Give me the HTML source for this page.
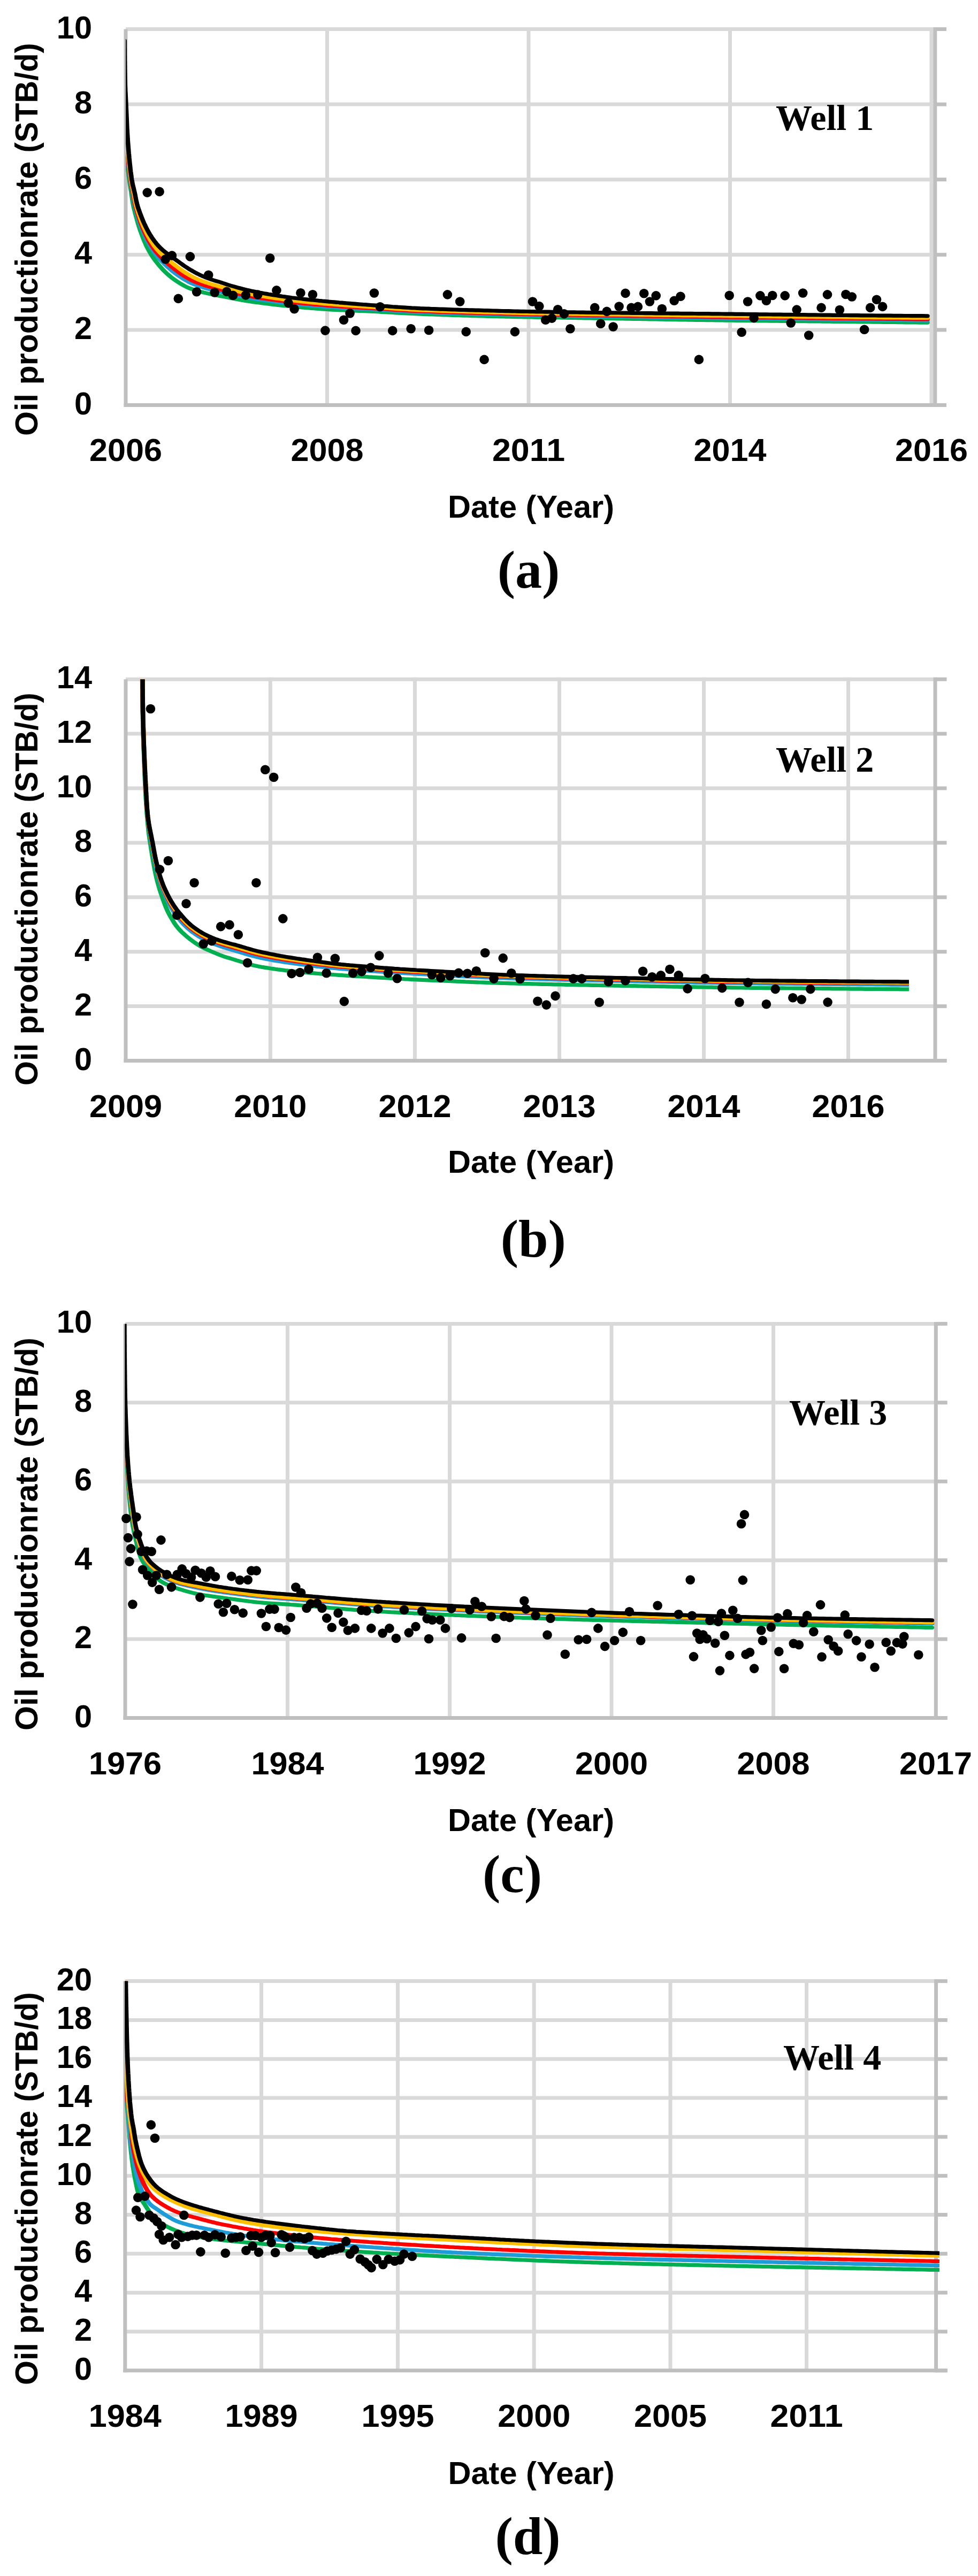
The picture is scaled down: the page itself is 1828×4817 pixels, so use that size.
<!DOCTYPE html>
<html><head><meta charset="utf-8"><title>Oil production rate - Wells 1-4</title>
<style>html,body{margin:0;padding:0;background:#fff}svg{display:block}</style></head>
<body><svg width="1828" height="4817" viewBox="0 0 1828 4817">
<rect width="1828" height="4817" fill="#fff"/>
<g><line x1="235" y1="54.5" x2="1741" y2="54.5" stroke="#d9d9d9" stroke-width="7"/>
<line x1="235" y1="195.1" x2="1741" y2="195.1" stroke="#d9d9d9" stroke-width="7"/>
<line x1="235" y1="335.7" x2="1741" y2="335.7" stroke="#d9d9d9" stroke-width="7"/>
<line x1="235" y1="476.3" x2="1741" y2="476.3" stroke="#d9d9d9" stroke-width="7"/>
<line x1="235" y1="616.9" x2="1741" y2="616.9" stroke="#d9d9d9" stroke-width="7"/>
<line x1="611.5" y1="51.0" x2="611.5" y2="757.5" stroke="#d9d9d9" stroke-width="7"/>
<line x1="988" y1="51.0" x2="988" y2="757.5" stroke="#d9d9d9" stroke-width="7"/>
<line x1="1364.5" y1="51.0" x2="1364.5" y2="757.5" stroke="#d9d9d9" stroke-width="7"/>
<line x1="1741" y1="51.0" x2="1741" y2="757.5" stroke="#d9d9d9" stroke-width="7"/>
<line x1="235" y1="54.5" x2="235" y2="761.0" stroke="#bfbfbf" stroke-width="7"/>
<line x1="231.5" y1="757.5" x2="1769" y2="757.5" stroke="#bfbfbf" stroke-width="7"/>
<line x1="1747.8" y1="51.0" x2="1747.8" y2="761.0" stroke="#bfbfbf" stroke-width="7"/>
<line x1="1747.8" y1="54.5" x2="1769" y2="54.5" stroke="#bfbfbf" stroke-width="7"/>
<line x1="1747.8" y1="195.1" x2="1769" y2="195.1" stroke="#bfbfbf" stroke-width="7"/>
<line x1="1747.8" y1="335.7" x2="1769" y2="335.7" stroke="#bfbfbf" stroke-width="7"/>
<line x1="1747.8" y1="476.3" x2="1769" y2="476.3" stroke="#bfbfbf" stroke-width="7"/>
<line x1="1747.8" y1="616.9" x2="1769" y2="616.9" stroke="#bfbfbf" stroke-width="7"/>
<line x1="1747.8" y1="757.5" x2="1769" y2="757.5" stroke="#bfbfbf" stroke-width="7"/>
<clipPath id="cp0"><rect x="235" y="54.5" width="1534" height="703.0"/></clipPath>
<g clip-path="url(#cp0)"><g transform="scale(1.18 1)" fill="none" stroke-width="7.2" stroke-linecap="round" stroke-linejoin="round">
<path d="M198.8 264.0 L199.0 267.0 L199.1 269.9 L199.3 272.9 L199.5 275.9 L199.7 278.8 L199.9 281.8 L200.1 284.8 L200.4 287.8 L200.6 290.8 L200.8 293.8 L201.0 296.9 L201.3 299.9 L201.5 303.0 L201.8 306.0 L202.0 309.1 L202.3 312.2 L202.6 315.2 L202.9 318.3 L203.2 321.3 L203.6 324.4 L203.9 327.5 L204.2 330.5 L204.6 333.6 L205.0 336.7 L205.3 339.8 L205.7 342.9 L206.1 346.0 L206.5 349.1 L206.9 352.2 L207.4 355.3 L207.8 358.4 L208.2 361.5 L208.6 364.7 L209.0 367.9 L209.4 371.2 L209.8 374.4 L210.2 377.6 L210.7 380.8 L211.2 383.9 L211.8 387.0 L212.4 390.0 L213.0 393.0 L213.7 396.0 L214.3 399.1 L215.0 402.1 L215.7 405.1 L216.4 408.2 L217.1 411.2 L217.8 414.3 L218.5 417.3 L219.3 420.3 L220.1 423.3 L220.9 426.2 L221.7 429.2 L222.6 432.1 L223.5 435.0 L224.4 438.0 L225.3 440.9 L226.3 443.8 L227.2 446.6 L228.2 449.5 L229.2 452.4 L230.3 455.2 L231.3 458.1 L232.4 460.8 L233.6 463.6 L234.8 466.3 L236.0 469.0 L237.3 471.6 L238.6 474.2 L239.9 476.8 L241.3 479.4 L242.8 481.9 L244.2 484.4 L245.7 486.8 L247.3 489.2 L248.9 491.6 L250.5 494.0 L252.1 496.3 L253.8 498.6 L255.5 500.9 L257.2 503.2 L259.0 505.4 L260.9 507.6 L262.7 509.7 L264.6 511.8 L266.6 513.9 L268.6 515.9 L270.6 517.9 L272.7 519.8 L274.9 521.7 L277.1 523.6 L279.3 525.4 L281.6 527.1 L283.9 528.9 L286.2 530.6 L288.6 532.3 L291.1 533.9 L293.6 535.5 L296.1 537.0 L298.8 538.4 L301.6 539.6 L304.5 540.8 L307.4 542.0 L310.4 543.0 L313.4 544.1 L316.5 545.1 L319.6 546.0 L322.7 547.0 L325.9 547.9 L329.1 548.8 L332.3 549.6 L335.6 550.4 L338.9 551.2 L342.2 552.0 L345.6 552.8 L348.9 553.5 L352.3 554.3 L355.7 555.0 L359.1 555.8 L362.4 556.6 L365.8 557.4 L369.2 558.2 L372.6 559.0 L376.1 559.8 L379.5 560.5 L383.0 561.3 L386.5 562.0 L390.0 562.7 L393.6 563.3 L397.2 564.0 L400.8 564.6 L404.5 565.2 L408.2 565.8 L411.9 566.3 L415.6 566.9 L419.3 567.4 L423.1 568.0 L426.8 568.5 L430.6 569.1 L434.4 569.6 L438.2 570.1 L442.0 570.6 L445.9 571.1 L449.7 571.6 L453.6 572.0 L457.5 572.5 L461.4 573.0 L465.3 573.4 L469.3 573.9 L473.2 574.3 L477.2 574.8 L481.2 575.2 L485.2 575.6 L489.2 576.0 L493.2 576.4 L497.3 576.7 L501.4 577.1 L505.5 577.5 L509.6 577.8 L513.7 578.2 L517.8 578.5 L522.0 578.8 L526.2 579.1 L530.4 579.3 L534.7 579.6 L539.0 579.8 L543.2 580.0 L547.5 580.3 L551.8 580.5 L556.2 580.7 L560.5 580.9 L564.8 581.1 L569.2 581.3 L573.5 581.5 L577.9 581.7 L582.2 582.0 L586.6 582.2 L591.0 582.5 L595.3 582.7 L599.7 583.0 L604.0 583.3 L608.4 583.6 L612.7 583.9 L617.1 584.2 L621.5 584.5 L625.9 584.8 L630.3 585.1 L634.7 585.3 L639.1 585.6 L643.5 585.9 L647.9 586.2 L652.4 586.5 L656.9 586.7 L661.4 586.9 L665.9 587.2 L670.4 587.4 L675.0 587.6 L679.5 587.8 L684.1 588.0 L688.7 588.2 L693.3 588.4 L697.9 588.6 L702.5 588.8 L707.1 589.0 L711.7 589.2 L716.4 589.4 L721.0 589.6 L725.7 589.7 L730.4 589.9 L735.1 590.1 L739.8 590.2 L744.5 590.4 L749.2 590.6 L753.9 590.7 L758.7 590.9 L763.4 591.0 L768.2 591.2 L773.0 591.3 L777.8 591.5 L782.5 591.6 L787.4 591.7 L792.2 591.9 L797.0 592.0 L801.8 592.1 L806.7 592.2 L811.5 592.3 L816.4 592.5 L821.3 592.6 L826.2 592.7 L831.0 592.8 L835.9 592.9 L840.9 593.0 L845.8 593.2 L850.7 593.3 L855.6 593.4 L860.6 593.5 L865.5 593.6 L870.5 593.7 L875.5 593.8 L880.4 593.9 L885.4 594.0 L890.4 594.1 L895.4 594.2 L900.4 594.3 L905.4 594.4 L910.5 594.5 L915.5 594.6 L920.5 594.7 L925.6 594.8 L930.6 594.9 L935.7 595.0 L940.8 595.1 L945.9 595.2 L951.0 595.3 L956.1 595.4 L961.2 595.5 L966.3 595.6 L971.4 595.7 L976.5 595.8 L981.7 595.9 L986.8 596.0 L991.9 596.1 L997.1 596.2 L1002.3 596.3 L1007.4 596.4 L1012.6 596.5 L1017.8 596.6 L1023.0 596.7 L1028.2 596.8 L1033.4 596.9 L1038.6 597.0 L1043.8 597.1 L1049.0 597.2 L1054.3 597.3 L1059.5 597.4 L1064.8 597.6 L1070.0 597.7 L1075.3 597.8 L1080.5 597.9 L1085.8 598.0 L1091.1 598.1 L1096.4 598.2 L1101.7 598.3 L1107.0 598.4 L1112.3 598.5 L1117.6 598.6 L1123.0 598.7 L1128.3 598.7 L1133.7 598.8 L1139.0 598.9 L1144.4 599.0 L1149.8 599.1 L1155.2 599.2 L1160.6 599.2 L1166.0 599.3 L1171.4 599.4 L1176.8 599.5 L1182.2 599.6 L1187.7 599.6 L1193.1 599.7 L1198.6 599.8 L1204.0 599.8 L1209.5 599.9 L1215.0 600.0 L1220.4 600.1 L1225.9 600.1 L1231.4 600.2 L1236.9 600.3 L1242.5 600.3 L1248.0 600.4 L1253.5 600.5 L1259.0 600.5 L1264.6 600.6 L1270.1 600.7 L1275.7 600.7 L1281.2 600.8 L1286.8 600.9 L1292.4 600.9 L1297.9 601.0 L1303.5 601.1 L1309.1 601.1 L1314.7 601.2 L1320.3 601.3 L1325.9 601.4 L1331.6 601.4 L1337.2 601.5 L1342.8 601.6 L1348.4 601.7 L1354.1 601.7 L1359.7 601.8 L1365.4 601.9 L1371.1 601.9 L1376.7 602.0 L1382.4 602.1 L1388.1 602.2 L1393.8 602.2 L1399.5 602.3 L1405.2 602.4 L1410.9 602.5 L1416.6 602.5 L1422.3 602.6 L1428.1 602.7 L1433.8 602.8 L1439.6 602.8 L1445.3 602.9 L1451.1 603.0 L1456.8 603.1 L1462.6 603.1 L1468.4 603.2 L1469.1 603.2" stroke="#00b050"/>
<path d="M199.8 259.7 L199.9 262.7 L200.1 265.6 L200.3 268.6 L200.5 271.6 L200.7 274.5 L200.8 277.5 L201.1 280.5 L201.3 283.5 L201.5 286.5 L201.7 289.5 L201.9 292.5 L202.2 295.5 L202.4 298.6 L202.7 301.6 L202.9 304.7 L203.2 307.7 L203.5 310.8 L203.7 313.9 L204.0 316.9 L204.4 320.0 L204.7 323.1 L205.0 326.2 L205.4 329.2 L205.7 332.3 L206.1 335.4 L206.4 338.5 L206.8 341.6 L207.3 344.6 L207.7 347.7 L208.2 350.7 L208.7 353.7 L209.1 356.8 L209.6 359.9 L210.1 363.0 L210.5 366.1 L211.0 369.3 L211.4 372.5 L211.8 375.6 L212.3 378.8 L212.9 381.9 L213.5 384.9 L214.1 387.9 L214.8 390.9 L215.5 393.9 L216.2 396.9 L216.9 399.8 L217.6 402.8 L218.4 405.8 L219.1 408.7 L219.9 411.7 L220.7 414.6 L221.6 417.6 L222.4 420.5 L223.3 423.4 L224.2 426.2 L225.2 429.1 L226.1 431.9 L227.1 434.7 L228.1 437.6 L229.2 440.4 L230.2 443.1 L231.3 445.9 L232.4 448.6 L233.6 451.4 L234.7 454.0 L236.0 456.7 L237.2 459.3 L238.5 461.9 L239.9 464.5 L241.2 467.0 L242.7 469.5 L244.1 471.9 L245.6 474.3 L247.2 476.6 L248.8 479.0 L250.5 481.2 L252.2 483.5 L253.9 485.7 L255.7 487.9 L257.4 490.0 L259.3 492.2 L261.1 494.3 L263.0 496.4 L264.9 498.4 L266.8 500.5 L268.8 502.5 L270.8 504.6 L272.8 506.6 L274.9 508.5 L276.9 510.5 L279.1 512.4 L281.2 514.2 L283.5 516.0 L285.7 517.8 L288.0 519.6 L290.4 521.3 L292.7 523.0 L295.1 524.6 L297.6 526.3 L300.1 527.8 L302.7 529.3 L305.3 530.7 L308.1 532.0 L310.9 533.2 L313.8 534.4 L316.7 535.6 L319.6 536.7 L322.7 537.8 L325.7 538.8 L328.8 539.8 L331.9 540.7 L335.1 541.7 L338.3 542.6 L341.4 543.5 L344.6 544.4 L347.9 545.3 L351.1 546.2 L354.4 547.1 L357.7 548.0 L361.0 548.8 L364.3 549.7 L367.6 550.6 L370.9 551.4 L374.2 552.3 L377.6 553.1 L381.0 554.0 L384.4 554.8 L387.8 555.5 L391.3 556.3 L394.8 557.0 L398.3 557.7 L401.9 558.4 L405.5 559.1 L409.1 559.7 L412.7 560.4 L416.4 561.0 L420.1 561.6 L423.7 562.2 L427.5 562.8 L431.2 563.4 L434.9 564.0 L438.7 564.5 L442.4 565.1 L446.2 565.6 L450.1 566.1 L453.9 566.7 L457.7 567.2 L461.6 567.7 L465.5 568.1 L469.4 568.6 L473.3 569.1 L477.2 569.5 L481.2 570.0 L485.2 570.4 L489.1 570.9 L493.1 571.3 L497.2 571.7 L501.2 572.1 L505.3 572.5 L509.3 572.9 L513.4 573.3 L517.5 573.6 L521.6 574.0 L525.8 574.3 L529.9 574.7 L534.1 575.0 L538.3 575.3 L542.5 575.6 L546.8 575.9 L551.0 576.1 L555.3 576.4 L559.5 576.7 L563.8 577.0 L568.1 577.2 L572.4 577.5 L576.7 577.8 L581.0 578.0 L585.4 578.3 L589.7 578.6 L594.0 578.9 L598.3 579.2 L602.6 579.5 L607.0 579.8 L611.3 580.1 L615.6 580.4 L620.0 580.7 L624.4 581.1 L628.7 581.4 L633.1 581.7 L637.5 582.0 L641.9 582.3 L646.3 582.6 L650.8 582.8 L655.2 583.1 L659.7 583.4 L664.2 583.6 L668.7 583.8 L673.3 584.0 L677.8 584.3 L682.4 584.5 L686.9 584.7 L691.5 584.9 L696.1 585.1 L700.7 585.3 L705.3 585.5 L710.0 585.6 L714.6 585.8 L719.3 586.0 L723.9 586.2 L728.6 586.3 L733.3 586.5 L738.0 586.7 L742.7 586.8 L747.4 587.0 L752.1 587.2 L756.8 587.3 L761.6 587.5 L766.3 587.6 L771.1 587.8 L775.8 587.9 L780.6 588.1 L785.4 588.2 L790.2 588.3 L795.0 588.5 L799.9 588.6 L804.7 588.7 L809.5 588.9 L814.4 589.0 L819.3 589.1 L824.1 589.2 L829.0 589.3 L833.9 589.5 L838.8 589.6 L843.7 589.7 L848.6 589.8 L853.6 589.9 L858.5 590.0 L863.4 590.1 L868.4 590.2 L873.4 590.3 L878.3 590.4 L883.3 590.5 L888.3 590.6 L893.3 590.7 L898.3 590.8 L903.3 590.9 L908.3 591.0 L913.4 591.1 L918.4 591.2 L923.5 591.3 L928.5 591.4 L933.6 591.5 L938.7 591.6 L943.7 591.7 L948.8 591.7 L953.9 591.8 L959.0 591.9 L964.1 592.0 L969.3 592.1 L974.4 592.2 L979.5 592.3 L984.7 592.4 L989.8 592.5 L995.0 592.5 L1000.1 592.6 L1005.3 592.7 L1010.5 592.8 L1015.7 592.9 L1020.9 593.0 L1026.1 593.1 L1031.3 593.2 L1036.5 593.3 L1041.7 593.4 L1046.9 593.4 L1052.2 593.5 L1057.4 593.6 L1062.7 593.7 L1067.9 593.8 L1073.2 593.9 L1078.5 594.0 L1083.7 594.1 L1089.0 594.2 L1094.3 594.2 L1099.6 594.3 L1104.9 594.4 L1110.3 594.5 L1115.6 594.6 L1120.9 594.7 L1126.3 594.8 L1131.6 594.8 L1137.0 594.9 L1142.3 595.0 L1147.7 595.1 L1153.1 595.2 L1158.5 595.2 L1163.9 595.3 L1169.3 595.4 L1174.7 595.5 L1180.1 595.5 L1185.6 595.6 L1191.0 595.7 L1196.4 595.8 L1201.9 595.8 L1207.4 595.9 L1212.8 596.0 L1218.3 596.1 L1223.8 596.1 L1229.3 596.2 L1234.8 596.3 L1240.3 596.3 L1245.8 596.4 L1251.3 596.5 L1256.8 596.5 L1262.4 596.6 L1267.9 596.7 L1273.4 596.7 L1279.0 596.8 L1284.5 596.9 L1290.1 596.9 L1295.7 597.0 L1301.3 597.1 L1306.9 597.2 L1312.4 597.2 L1318.0 597.3 L1323.7 597.4 L1329.3 597.4 L1334.9 597.5 L1340.5 597.6 L1346.1 597.6 L1351.8 597.7 L1357.4 597.8 L1363.1 597.8 L1368.8 597.9 L1374.4 598.0 L1380.1 598.1 L1385.8 598.1 L1391.5 598.2 L1397.2 598.3 L1402.9 598.3 L1408.6 598.4 L1414.3 598.5 L1420.0 598.5 L1425.7 598.6 L1431.5 598.7 L1437.2 598.7 L1443.0 598.8 L1448.7 598.9 L1454.5 598.9 L1460.3 599.0 L1466.0 599.1 L1469.1 599.1" stroke="#1f9bd8"/>
<path d="M200.2 256.1 L200.4 259.1 L200.5 262.0 L200.7 265.0 L200.9 267.9 L201.0 270.9 L201.2 273.8 L201.4 276.8 L201.6 279.8 L201.9 282.8 L202.1 285.8 L202.3 288.8 L202.5 291.8 L202.8 294.8 L203.0 297.9 L203.2 300.9 L203.5 304.0 L203.8 307.1 L204.0 310.1 L204.3 313.2 L204.6 316.3 L204.9 319.3 L205.3 322.4 L205.6 325.5 L205.9 328.6 L206.3 331.6 L206.6 334.7 L207.0 337.8 L207.4 340.9 L207.9 343.9 L208.3 347.0 L208.8 350.0 L209.3 353.0 L209.8 356.0 L210.4 359.0 L210.9 362.1 L211.3 365.2 L211.8 368.3 L212.2 371.5 L212.7 374.6 L213.2 377.8 L213.7 380.8 L214.3 383.9 L215.0 386.9 L215.7 389.9 L216.4 392.8 L217.1 395.7 L217.9 398.7 L218.7 401.6 L219.4 404.5 L220.2 407.5 L221.0 410.4 L221.9 413.3 L222.7 416.2 L223.6 419.0 L224.6 421.9 L225.5 424.7 L226.5 427.5 L227.5 430.3 L228.5 433.1 L229.6 435.9 L230.6 438.6 L231.7 441.3 L232.9 444.0 L234.0 446.7 L235.2 449.4 L236.5 452.0 L237.8 454.6 L239.1 457.1 L240.4 459.6 L241.8 462.1 L243.3 464.6 L244.7 467.0 L246.3 469.4 L247.9 471.7 L249.5 473.9 L251.2 476.2 L252.9 478.3 L254.7 480.5 L256.5 482.6 L258.3 484.7 L260.2 486.8 L262.1 488.8 L264.0 490.9 L266.0 492.9 L267.9 494.9 L269.9 496.9 L271.9 498.8 L274.0 500.8 L276.0 502.8 L278.1 504.7 L280.2 506.6 L282.3 508.5 L284.5 510.3 L286.7 512.2 L289.0 513.9 L291.3 515.7 L293.7 517.4 L296.1 519.0 L298.5 520.7 L300.9 522.3 L303.4 523.8 L306.0 525.3 L308.7 526.7 L311.4 528.1 L314.2 529.3 L317.0 530.6 L319.9 531.7 L322.9 532.9 L325.9 534.0 L328.9 535.0 L332.0 536.0 L335.1 537.0 L338.2 538.0 L341.3 539.0 L344.5 540.0 L347.6 540.9 L350.8 541.9 L354.0 542.9 L357.2 543.8 L360.4 544.7 L363.7 545.6 L366.9 546.5 L370.2 547.4 L373.5 548.3 L376.8 549.2 L380.2 550.1 L383.5 550.9 L386.9 551.8 L390.4 552.6 L393.8 553.4 L397.3 554.1 L400.8 554.9 L404.3 555.6 L407.9 556.3 L411.5 556.9 L415.1 557.6 L418.7 558.3 L422.4 558.9 L426.0 559.5 L429.7 560.1 L433.4 560.7 L437.1 561.3 L440.9 561.9 L444.6 562.5 L448.4 563.0 L452.2 563.6 L456.0 564.1 L459.9 564.6 L463.7 565.1 L467.6 565.6 L471.5 566.1 L475.4 566.6 L479.3 567.1 L483.3 567.6 L487.2 568.0 L491.2 568.5 L495.2 568.9 L499.2 569.3 L503.2 569.7 L507.3 570.1 L511.3 570.5 L515.4 570.9 L519.5 571.3 L523.6 571.7 L527.7 572.1 L531.9 572.4 L536.0 572.7 L540.2 573.1 L544.4 573.4 L548.6 573.7 L552.8 574.0 L557.0 574.3 L561.3 574.6 L565.5 574.9 L569.8 575.2 L574.1 575.5 L578.4 575.8 L582.7 576.1 L587.0 576.4 L591.3 576.7 L595.6 577.0 L599.9 577.4 L604.2 577.7 L608.5 578.0 L612.8 578.3 L617.1 578.7 L621.5 579.0 L625.8 579.3 L630.2 579.6 L634.6 579.9 L639.0 580.3 L643.4 580.6 L647.8 580.8 L652.2 581.1 L656.7 581.4 L661.2 581.6 L665.7 581.9 L670.2 582.1 L674.7 582.3 L679.3 582.5 L683.8 582.7 L688.4 582.9 L693.0 583.1 L697.6 583.3 L702.2 583.5 L706.8 583.7 L711.4 583.9 L716.1 584.1 L720.7 584.3 L725.4 584.4 L730.1 584.6 L734.7 584.8 L739.4 584.9 L744.1 585.1 L748.9 585.2 L753.6 585.4 L758.3 585.6 L763.0 585.7 L767.8 585.9 L772.6 586.0 L777.3 586.2 L782.1 586.3 L786.9 586.4 L791.7 586.6 L796.5 586.7 L801.3 586.9 L806.2 587.0 L811.0 587.1 L815.9 587.2 L820.7 587.4 L825.6 587.5 L830.5 587.6 L835.4 587.7 L840.3 587.8 L845.2 587.9 L850.1 588.1 L855.0 588.2 L860.0 588.3 L864.9 588.4 L869.9 588.5 L874.8 588.6 L879.8 588.7 L884.8 588.8 L889.8 588.9 L894.8 589.0 L899.8 589.1 L904.8 589.1 L909.9 589.2 L914.9 589.3 L919.9 589.4 L925.0 589.5 L930.0 589.6 L935.1 589.7 L940.2 589.8 L945.3 589.9 L950.4 589.9 L955.5 590.0 L960.6 590.1 L965.7 590.2 L970.8 590.3 L975.9 590.4 L981.1 590.5 L986.2 590.5 L991.4 590.6 L996.5 590.7 L1001.7 590.8 L1006.9 590.9 L1012.1 591.0 L1017.3 591.0 L1022.4 591.1 L1027.7 591.2 L1032.9 591.3 L1038.1 591.4 L1043.3 591.5 L1048.5 591.5 L1053.8 591.6 L1059.0 591.7 L1064.3 591.8 L1069.6 591.9 L1074.8 592.0 L1080.1 592.0 L1085.4 592.1 L1090.7 592.2 L1096.0 592.3 L1101.3 592.4 L1106.6 592.4 L1111.9 592.5 L1117.3 592.6 L1122.6 592.7 L1128.0 592.8 L1133.3 592.8 L1138.7 592.9 L1144.1 593.0 L1149.4 593.1 L1154.8 593.1 L1160.2 593.2 L1165.6 593.3 L1171.0 593.4 L1176.4 593.4 L1181.9 593.5 L1187.3 593.6 L1192.7 593.7 L1198.2 593.7 L1203.6 593.8 L1209.1 593.9 L1214.5 594.0 L1220.0 594.0 L1225.5 594.1 L1231.0 594.2 L1236.5 594.2 L1242.0 594.3 L1247.5 594.4 L1253.0 594.4 L1258.5 594.5 L1264.1 594.6 L1269.6 594.7 L1275.1 594.7 L1280.7 594.8 L1286.3 594.9 L1291.8 594.9 L1297.4 595.0 L1303.0 595.1 L1308.6 595.1 L1314.2 595.2 L1319.8 595.3 L1325.4 595.3 L1331.0 595.4 L1336.6 595.5 L1342.2 595.5 L1347.9 595.6 L1353.5 595.7 L1359.2 595.7 L1364.8 595.8 L1370.5 595.9 L1376.1 595.9 L1381.8 596.0 L1387.5 596.1 L1393.2 596.1 L1398.9 596.2 L1404.6 596.3 L1410.3 596.3 L1416.0 596.4 L1421.8 596.5 L1427.5 596.5 L1433.2 596.6 L1439.0 596.7 L1444.7 596.7 L1450.5 596.8 L1456.3 596.9 L1462.0 596.9 L1467.8 597.0 L1469.1 597.0" stroke="#ff0000"/>
<path d="M200.8 252.4 L200.9 255.3 L201.1 258.3 L201.2 261.2 L201.4 264.1 L201.6 267.1 L201.7 270.1 L201.9 273.0 L202.1 276.0 L202.3 279.0 L202.5 282.0 L202.8 285.0 L203.0 288.0 L203.2 291.0 L203.5 294.0 L203.7 297.1 L203.9 300.1 L204.2 303.2 L204.5 306.2 L204.7 309.3 L205.0 312.4 L205.3 315.4 L205.6 318.5 L205.9 321.6 L206.3 324.7 L206.6 327.8 L207.0 330.8 L207.3 333.9 L207.7 337.0 L208.1 340.1 L208.6 343.1 L209.0 346.1 L209.6 349.1 L210.1 352.0 L210.7 355.0 L211.2 358.0 L211.8 361.0 L212.3 364.1 L212.7 367.2 L213.2 370.3 L213.7 373.4 L214.2 376.6 L214.8 379.6 L215.4 382.7 L216.0 385.7 L216.7 388.6 L217.5 391.5 L218.3 394.4 L219.0 397.3 L219.8 400.2 L220.7 403.1 L221.5 406.0 L222.3 408.8 L223.2 411.7 L224.1 414.5 L225.1 417.4 L226.0 420.2 L227.0 422.9 L228.0 425.7 L229.1 428.4 L230.2 431.2 L231.3 433.9 L232.4 436.5 L233.5 439.2 L234.7 441.8 L236.0 444.4 L237.2 447.0 L238.5 449.6 L239.9 452.1 L241.3 454.5 L242.7 457.0 L244.1 459.4 L245.7 461.8 L247.2 464.1 L248.8 466.4 L250.5 468.6 L252.2 470.8 L254.0 472.9 L255.8 475.0 L257.6 477.0 L259.5 479.0 L261.5 481.0 L263.4 483.0 L265.4 484.9 L267.4 486.8 L269.5 488.7 L271.5 490.7 L273.6 492.6 L275.6 494.5 L277.7 496.4 L279.8 498.3 L281.9 500.2 L284.0 502.1 L286.2 504.0 L288.4 505.8 L290.6 507.6 L292.9 509.3 L295.2 511.1 L297.6 512.7 L300.0 514.4 L302.4 516.0 L304.9 517.6 L307.4 519.2 L310.0 520.7 L312.6 522.1 L315.3 523.4 L318.1 524.7 L320.9 526.0 L323.8 527.2 L326.7 528.4 L329.6 529.5 L332.6 530.6 L335.7 531.7 L338.8 532.7 L341.8 533.7 L344.9 534.7 L348.0 535.8 L351.1 536.8 L354.2 537.9 L357.3 538.9 L360.5 539.9 L363.7 540.9 L366.9 541.9 L370.1 542.8 L373.3 543.8 L376.6 544.7 L379.9 545.6 L383.2 546.5 L386.5 547.4 L389.9 548.3 L393.3 549.1 L396.7 549.9 L400.2 550.7 L403.7 551.5 L407.2 552.2 L410.7 552.9 L414.3 553.6 L417.9 554.3 L421.5 555.0 L425.1 555.7 L428.7 556.3 L432.4 557.0 L436.1 557.6 L439.8 558.2 L443.5 558.8 L447.2 559.4 L451.0 560.0 L454.8 560.6 L458.6 561.1 L462.4 561.7 L466.2 562.2 L470.1 562.7 L474.0 563.2 L477.9 563.7 L481.8 564.2 L485.7 564.7 L489.7 565.1 L493.6 565.6 L497.6 566.1 L501.6 566.5 L505.6 566.9 L509.6 567.4 L513.7 567.8 L517.7 568.2 L521.8 568.6 L525.9 569.0 L530.0 569.4 L534.1 569.7 L538.2 570.1 L542.4 570.5 L546.6 570.8 L550.7 571.2 L554.9 571.5 L559.1 571.9 L563.3 572.2 L567.6 572.5 L571.8 572.9 L576.0 573.2 L580.3 573.5 L584.6 573.9 L588.8 574.2 L593.1 574.5 L597.4 574.9 L601.7 575.2 L606.0 575.5 L610.3 575.9 L614.6 576.2 L618.9 576.6 L623.2 576.9 L627.6 577.3 L631.9 577.6 L636.3 577.9 L640.7 578.2 L645.1 578.5 L649.5 578.8 L654.0 579.1 L658.4 579.4 L662.9 579.6 L667.4 579.8 L671.9 580.1 L676.5 580.3 L681.0 580.5 L685.6 580.7 L690.1 580.9 L694.7 581.1 L699.3 581.3 L703.9 581.5 L708.5 581.7 L713.2 581.9 L717.8 582.0 L722.5 582.2 L727.1 582.4 L731.8 582.5 L736.5 582.7 L741.2 582.9 L745.9 583.0 L750.6 583.2 L755.3 583.3 L760.1 583.5 L764.8 583.6 L769.5 583.8 L774.3 584.0 L779.1 584.1 L783.9 584.3 L788.6 584.4 L793.4 584.5 L798.3 584.7 L803.1 584.8 L807.9 584.9 L812.7 585.1 L817.6 585.2 L822.4 585.3 L827.3 585.5 L832.2 585.6 L837.1 585.7 L842.0 585.8 L846.9 585.9 L851.8 586.0 L856.8 586.1 L861.7 586.2 L866.7 586.3 L871.6 586.4 L876.6 586.5 L881.6 586.6 L886.6 586.7 L891.5 586.8 L896.6 586.9 L901.6 587.0 L906.6 587.1 L911.6 587.2 L916.7 587.2 L921.7 587.3 L926.8 587.4 L931.8 587.5 L936.9 587.6 L942.0 587.7 L947.1 587.7 L952.2 587.8 L957.3 587.9 L962.4 588.0 L967.5 588.1 L972.6 588.1 L977.8 588.2 L982.9 588.3 L988.0 588.4 L993.2 588.5 L998.4 588.5 L1003.5 588.6 L1008.7 588.7 L1013.9 588.8 L1019.1 588.9 L1024.3 588.9 L1029.5 589.0 L1034.7 589.1 L1040.0 589.2 L1045.2 589.2 L1050.4 589.3 L1055.7 589.4 L1060.9 589.5 L1066.2 589.5 L1071.5 589.6 L1076.8 589.7 L1082.1 589.8 L1087.3 589.8 L1092.6 589.9 L1098.0 590.0 L1103.3 590.0 L1108.6 590.1 L1113.9 590.2 L1119.3 590.3 L1124.6 590.3 L1130.0 590.4 L1135.3 590.5 L1140.7 590.5 L1146.1 590.6 L1151.4 590.7 L1156.8 590.8 L1162.2 590.8 L1167.6 590.9 L1173.0 591.0 L1178.5 591.1 L1183.9 591.1 L1189.3 591.2 L1194.7 591.3 L1200.2 591.4 L1205.6 591.4 L1211.1 591.5 L1216.6 591.6 L1222.0 591.6 L1227.5 591.7 L1233.0 591.8 L1238.5 591.9 L1244.0 591.9 L1249.5 592.0 L1255.0 592.1 L1260.5 592.1 L1266.1 592.2 L1271.6 592.3 L1277.2 592.4 L1282.7 592.4 L1288.3 592.5 L1293.8 592.6 L1299.4 592.6 L1305.0 592.7 L1310.6 592.8 L1316.2 592.8 L1321.8 592.9 L1327.4 593.0 L1333.0 593.0 L1338.6 593.1 L1344.3 593.2 L1349.9 593.2 L1355.5 593.3 L1361.2 593.3 L1366.8 593.4 L1372.5 593.5 L1378.2 593.5 L1383.9 593.6 L1389.6 593.7 L1395.2 593.7 L1400.9 593.8 L1406.7 593.9 L1412.4 593.9 L1418.1 594.0 L1423.8 594.0 L1429.6 594.1 L1435.3 594.2 L1441.0 594.2 L1446.8 594.3 L1452.6 594.3 L1458.3 594.4 L1464.1 594.5 L1469.1 594.5" stroke="#ffc000"/>
<path d="M197.1 76.0 L197.1 76.2 L197.1 76.6 L197.1 77.1 L197.1 77.8 L197.1 78.4 L197.1 79.2 L197.1 80.1 L197.1 80.9 L197.1 81.9 L197.1 82.9 L197.1 84.0 L197.1 85.1 L197.1 86.2 L197.1 87.4 L197.1 88.7 L197.2 90.0 L197.2 91.3 L197.2 92.7 L197.2 94.1 L197.2 95.5 L197.2 97.0 L197.2 98.5 L197.2 100.0 L197.2 101.6 L197.2 103.2 L197.3 104.9 L197.3 106.5 L197.3 108.2 L197.3 110.0 L197.3 111.7 L197.3 113.5 L197.4 115.3 L197.4 117.2 L197.4 119.0 L197.4 120.9 L197.5 122.9 L197.5 124.8 L197.5 126.8 L197.5 128.8 L197.6 130.8 L197.6 132.9 L197.6 135.0 L197.7 137.1 L197.7 139.2 L197.7 141.4 L197.8 143.5 L197.8 145.7 L197.8 147.9 L197.9 150.2 L197.9 152.4 L198.0 154.7 L198.0 157.0 L198.1 159.3 L198.2 161.6 L198.3 163.9 L198.4 166.3 L198.4 168.6 L198.5 171.0 L198.6 173.4 L198.8 175.8 L198.9 178.2 L199.0 180.7 L199.1 183.1 L199.2 185.6 L199.3 188.1 L199.4 190.7 L199.5 193.2 L199.6 195.8 L199.7 198.4 L199.8 201.0 L199.9 203.7 L200.0 206.4 L200.1 209.0 L200.2 211.7 L200.3 214.5 L200.4 217.2 L200.5 220.0 L200.6 222.7 L200.7 225.5 L200.8 228.3 L200.9 231.1 L201.0 234.0 L201.1 236.8 L201.2 239.7 L201.3 242.6 L201.5 245.4 L201.6 248.3 L201.8 251.2 L201.9 254.1 L202.1 257.1 L202.2 260.0 L202.4 262.9 L202.6 265.9 L202.8 268.8 L203.0 271.8 L203.2 274.8 L203.4 277.8 L203.6 280.7 L203.8 283.7 L204.0 286.8 L204.3 289.8 L204.5 292.8 L204.7 295.8 L205.0 298.9 L205.2 301.9 L205.5 305.0 L205.8 308.1 L206.1 311.2 L206.3 314.2 L206.6 317.3 L206.9 320.4 L207.3 323.5 L207.6 326.6 L208.0 329.6 L208.3 332.7 L208.7 335.8 L209.2 338.8 L209.6 341.9 L210.1 344.8 L210.7 347.7 L211.3 350.6 L211.9 353.5 L212.5 356.4 L213.1 359.4 L213.7 362.4 L214.2 365.5 L214.7 368.6 L215.2 371.7 L215.7 374.7 L216.3 377.8 L216.9 380.8 L217.6 383.8 L218.3 386.7 L219.1 389.6 L219.9 392.4 L220.8 395.3 L221.6 398.1 L222.5 400.9 L223.4 403.7 L224.3 406.5 L225.3 409.3 L226.2 412.1 L227.2 414.8 L228.2 417.5 L229.3 420.2 L230.4 422.9 L231.5 425.6 L232.6 428.2 L233.8 430.9 L235.0 433.4 L236.2 436.0 L237.5 438.5 L238.9 441.0 L240.2 443.5 L241.6 445.9 L243.1 448.3 L244.5 450.7 L246.1 453.0 L247.6 455.3 L249.2 457.5 L250.9 459.7 L252.6 461.9 L254.4 464.0 L256.2 466.0 L258.1 468.0 L260.1 469.9 L262.1 471.8 L264.1 473.6 L266.2 475.4 L268.3 477.2 L270.4 479.0 L272.5 480.8 L274.7 482.6 L276.8 484.4 L279.0 486.2 L281.1 488.0 L283.3 489.8 L285.4 491.7 L287.6 493.5 L289.7 495.4 L291.9 497.2 L294.2 499.0 L296.4 500.7 L298.7 502.5 L301.1 504.2 L303.5 505.8 L305.9 507.5 L308.3 509.1 L310.8 510.6 L313.3 512.2 L315.9 513.7 L318.6 515.1 L321.2 516.5 L323.9 517.8 L326.7 519.2 L329.5 520.5 L332.4 521.7 L335.3 522.9 L338.2 524.0 L341.2 525.1 L344.3 526.2 L347.3 527.2 L350.4 528.3 L353.4 529.5 L356.3 530.6 L359.3 531.8 L362.4 533.0 L365.4 534.1 L368.5 535.1 L371.7 536.2 L374.8 537.2 L378.0 538.3 L381.2 539.3 L384.4 540.3 L387.7 541.2 L391.0 542.1 L394.4 543.0 L397.7 543.9 L401.1 544.7 L404.5 545.6 L408.0 546.4 L411.5 547.2 L415.0 547.9 L418.5 548.7 L422.0 549.4 L425.6 550.2 L429.2 550.9 L432.8 551.6 L436.4 552.3 L440.0 552.9 L443.7 553.6 L447.4 554.3 L451.1 554.9 L454.8 555.5 L458.6 556.1 L462.3 556.7 L466.2 557.2 L470.0 557.8 L473.8 558.3 L477.7 558.8 L481.6 559.4 L485.5 559.9 L489.4 560.4 L493.3 560.8 L497.2 561.3 L501.2 561.8 L505.2 562.3 L509.2 562.7 L513.2 563.2 L517.2 563.6 L521.2 564.1 L525.3 564.5 L529.3 564.9 L533.4 565.3 L537.5 565.8 L541.6 566.2 L545.7 566.6 L549.8 567.0 L553.9 567.4 L558.1 567.8 L562.2 568.2 L566.4 568.6 L570.6 569.0 L574.8 569.4 L579.0 569.7 L583.2 570.1 L587.4 570.5 L591.7 570.9 L595.9 571.2 L600.2 571.6 L604.4 572.0 L608.7 572.4 L613.0 572.7 L617.3 573.1 L621.6 573.5 L625.9 573.8 L630.2 574.2 L634.5 574.5 L638.9 574.8 L643.3 575.2 L647.7 575.5 L652.1 575.8 L656.5 576.0 L661.0 576.3 L665.5 576.6 L670.0 576.8 L674.5 577.0 L679.0 577.2 L683.6 577.5 L688.1 577.7 L692.7 577.9 L697.3 578.1 L701.9 578.2 L706.5 578.4 L711.1 578.6 L715.8 578.8 L720.4 579.0 L725.1 579.1 L729.7 579.3 L734.4 579.5 L739.1 579.6 L743.8 579.8 L748.5 579.9 L753.2 580.1 L757.9 580.2 L762.7 580.4 L767.4 580.6 L772.2 580.7 L776.9 580.9 L781.7 581.0 L786.5 581.2 L791.3 581.3 L796.1 581.5 L800.9 581.6 L805.7 581.7 L810.5 581.9 L815.3 582.0 L820.2 582.1 L825.0 582.3 L829.9 582.4 L834.8 582.5 L839.7 582.6 L844.6 582.7 L849.5 582.8 L854.4 582.9 L859.4 583.0 L864.3 583.1 L869.3 583.2 L874.2 583.3 L879.2 583.4 L884.2 583.5 L889.2 583.6 L894.2 583.7 L899.2 583.8 L904.2 583.9 L909.2 583.9 L914.3 584.0 L919.3 584.1 L924.4 584.2 L929.4 584.3 L934.5 584.3 L939.6 584.4 L944.7 584.5 L949.7 584.6 L954.8 584.6 L960.0 584.7 L965.1 584.8 L970.2 584.9 L975.3 584.9 L980.5 585.0 L985.6 585.1 L990.8 585.1 L996.0 585.2 L1001.1 585.3 L1006.3 585.4 L1011.5 585.4 L1016.7 585.5 L1021.9 585.6 L1027.1 585.6 L1032.3 585.7 L1037.6 585.8 L1042.8 585.8 L1048.0 585.9 L1053.3 586.0 L1058.5 586.0 L1063.8 586.1 L1069.1 586.1 L1074.4 586.2 L1079.7 586.3 L1085.0 586.3 L1090.3 586.4 L1095.6 586.4 L1100.9 586.5 L1106.2 586.6 L1111.6 586.6 L1116.9 586.7 L1122.2 586.7 L1127.6 586.8 L1133.0 586.9 L1138.3 586.9 L1143.7 587.0 L1149.1 587.1 L1154.5 587.1 L1159.9 587.2 L1165.3 587.3 L1170.7 587.3 L1176.1 587.4 L1181.5 587.5 L1186.9 587.6 L1192.3 587.6 L1197.8 587.7 L1203.2 587.8 L1208.7 587.8 L1214.1 587.9 L1219.6 588.0 L1225.1 588.1 L1230.5 588.1 L1236.0 588.2 L1241.5 588.3 L1247.0 588.4 L1252.5 588.4 L1258.0 588.5 L1263.6 588.6 L1269.1 588.7 L1274.6 588.7 L1280.2 588.8 L1285.7 588.9 L1291.3 588.9 L1296.8 589.0 L1302.4 589.1 L1308.0 589.1 L1313.6 589.2 L1319.2 589.3 L1324.8 589.3 L1330.4 589.4 L1336.0 589.5 L1341.7 589.5 L1347.3 589.6 L1352.9 589.6 L1358.6 589.7 L1364.2 589.8 L1369.9 589.8 L1375.6 589.9 L1381.2 589.9 L1386.9 590.0 L1392.6 590.1 L1398.3 590.1 L1404.0 590.2 L1409.7 590.2 L1415.4 590.3 L1421.2 590.3 L1426.9 590.4 L1432.6 590.5 L1438.4 590.5 L1444.1 590.6 L1449.9 590.6 L1455.7 590.7 L1461.4 590.7 L1467.2 590.8 L1469.1 590.8" stroke="#000000"/>
</g></g>
<g fill="#000"><circle cx="275.2" cy="360.1" r="8.8"/><circle cx="298.1" cy="358.4" r="8.8"/><circle cx="309.2" cy="484.8" r="8.8"/><circle cx="321.4" cy="477.9" r="8.8"/><circle cx="355.4" cy="479.9" r="8.8"/><circle cx="333.3" cy="558.4" r="8.8"/><circle cx="367.6" cy="545.8" r="8.8"/><circle cx="389.7" cy="514.3" r="8.8"/><circle cx="401.2" cy="547.0" r="8.8"/><circle cx="423.7" cy="545.4" r="8.8"/><circle cx="435.5" cy="552.3" r="8.8"/><circle cx="459.3" cy="551.9" r="8.8"/><circle cx="481.8" cy="551.1" r="8.8"/><circle cx="504.7" cy="482.8" r="8.8"/><circle cx="516.9" cy="542.9" r="8.8"/><circle cx="539.0" cy="566.6" r="8.8"/><circle cx="550.1" cy="577.7" r="8.8"/><circle cx="561.9" cy="547.8" r="8.8"/><circle cx="584.4" cy="550.7" r="8.8"/><circle cx="607.9" cy="618.1" r="8.8"/><circle cx="642.5" cy="598.3" r="8.8"/><circle cx="654.0" cy="586.0" r="8.8"/><circle cx="665.0" cy="618.4" r="8.8"/><circle cx="699.4" cy="548.0" r="8.8"/><circle cx="710.4" cy="573.8" r="8.8"/><circle cx="733.7" cy="618.4" r="8.8"/><circle cx="768.1" cy="614.7" r="8.8"/><circle cx="801.6" cy="617.5" r="8.8"/><circle cx="836.4" cy="550.9" r="8.8"/><circle cx="859.7" cy="564.0" r="8.8"/><circle cx="871.2" cy="620.4" r="8.8"/><circle cx="905.1" cy="672.4" r="8.8"/><circle cx="962.4" cy="620.4" r="8.8"/><circle cx="995.5" cy="564.0" r="8.8"/><circle cx="1007.8" cy="572.6" r="8.8"/><circle cx="1019.7" cy="598.3" r="8.8"/><circle cx="1031.5" cy="595.1" r="8.8"/><circle cx="1042.6" cy="578.7" r="8.8"/><circle cx="1054.4" cy="586.9" r="8.8"/><circle cx="1065.9" cy="614.7" r="8.8"/><circle cx="1111.7" cy="575.4" r="8.8"/><circle cx="1122.7" cy="605.3" r="8.8"/><circle cx="1134.2" cy="582.4" r="8.8"/><circle cx="1146.1" cy="611.0" r="8.8"/><circle cx="1157.1" cy="573.0" r="8.8"/><circle cx="1169.0" cy="548.4" r="8.8"/><circle cx="1180.0" cy="575.4" r="8.8"/><circle cx="1192.3" cy="573.4" r="8.8"/><circle cx="1203.7" cy="548.8" r="8.8"/><circle cx="1214.4" cy="564.0" r="8.8"/><circle cx="1226.2" cy="552.9" r="8.8"/><circle cx="1237.3" cy="577.5" r="8.8"/><circle cx="1260.2" cy="562.3" r="8.8"/><circle cx="1272.0" cy="554.2" r="8.8"/><circle cx="1306.4" cy="672.4" r="8.8"/><circle cx="1363.2" cy="552.5" r="8.8"/><circle cx="1386.2" cy="621.2" r="8.8"/><circle cx="1397.6" cy="564.0" r="8.8"/><circle cx="1409.1" cy="594.6" r="8.8"/><circle cx="1420.9" cy="552.9" r="8.8"/><circle cx="1432.4" cy="562.3" r="8.8"/><circle cx="1443.8" cy="552.5" r="8.8"/><circle cx="1467.2" cy="552.9" r="8.8"/><circle cx="1478.2" cy="604.0" r="8.8"/><circle cx="1489.2" cy="579.1" r="8.8"/><circle cx="1500.7" cy="548.0" r="8.8"/><circle cx="1511.7" cy="627.0" r="8.8"/><circle cx="1535.1" cy="575.4" r="8.8"/><circle cx="1546.5" cy="550.9" r="8.8"/><circle cx="1569.4" cy="579.5" r="8.8"/><circle cx="1580.9" cy="550.5" r="8.8"/><circle cx="1592.3" cy="555.0" r="8.8"/><circle cx="1615.6" cy="616.3" r="8.8"/><circle cx="1626.7" cy="575.4" r="8.8"/><circle cx="1638.5" cy="560.3" r="8.8"/><circle cx="1649.6" cy="573.4" r="8.8"/></g>
<text x="172.0" y="71.5" font-family='"Liberation Sans", sans-serif' font-size="59.5" font-weight="bold" text-anchor="end">10</text>
<text x="172.0" y="212.1" font-family='"Liberation Sans", sans-serif' font-size="59.5" font-weight="bold" text-anchor="end">8</text>
<text x="172.0" y="352.7" font-family='"Liberation Sans", sans-serif' font-size="59.5" font-weight="bold" text-anchor="end">6</text>
<text x="172.0" y="493.3" font-family='"Liberation Sans", sans-serif' font-size="59.5" font-weight="bold" text-anchor="end">4</text>
<text x="172.0" y="633.9" font-family='"Liberation Sans", sans-serif' font-size="59.5" font-weight="bold" text-anchor="end">2</text>
<text x="172.0" y="774.5" font-family='"Liberation Sans", sans-serif' font-size="59.5" font-weight="bold" text-anchor="end">0</text>
<text x="235.0" y="862.4" font-family='"Liberation Sans", sans-serif' font-size="59.5" font-weight="bold" text-anchor="middle" textLength="136.0" lengthAdjust="spacingAndGlyphs">2006</text>
<text x="611.5" y="862.4" font-family='"Liberation Sans", sans-serif' font-size="59.5" font-weight="bold" text-anchor="middle" textLength="136.0" lengthAdjust="spacingAndGlyphs">2008</text>
<text x="988.0" y="862.4" font-family='"Liberation Sans", sans-serif' font-size="59.5" font-weight="bold" text-anchor="middle" textLength="136.0" lengthAdjust="spacingAndGlyphs">2011</text>
<text x="1364.5" y="862.4" font-family='"Liberation Sans", sans-serif' font-size="59.5" font-weight="bold" text-anchor="middle" textLength="136.0" lengthAdjust="spacingAndGlyphs">2014</text>
<text x="1741.0" y="862.4" font-family='"Liberation Sans", sans-serif' font-size="59.5" font-weight="bold" text-anchor="middle" textLength="136.0" lengthAdjust="spacingAndGlyphs">2016</text>
<text x="70.0" y="815.0" font-family='"Liberation Sans", sans-serif' font-size="59.5" font-weight="bold" text-anchor="start" textLength="513.1" lengthAdjust="spacingAndGlyphs" transform="rotate(-90 70.0 815.0)">Oil productionrate</text>
<text x="70.0" y="285.4" font-family='"Liberation Sans", sans-serif' font-size="59.5" font-weight="bold" text-anchor="start" textLength="205.2" lengthAdjust="spacingAndGlyphs" transform="rotate(-90 70.0 285.4)">(STB/d)</text>
<text x="992.5" y="968.0" font-family='"Liberation Sans", sans-serif' font-size="59.5" font-weight="bold" text-anchor="middle" textLength="311.0" lengthAdjust="spacingAndGlyphs">Date (Year)</text>
<text x="1450.0" y="242.8" font-family='"Liberation Serif", serif' font-size="68" font-weight="bold" text-anchor="start">Well 1</text>
<text x="988.0" y="1099.0" font-family='"Liberation Serif", serif' font-size="100" font-weight="bold" text-anchor="middle">(a)</text></g>
<g><line x1="235" y1="1270.2" x2="1748" y2="1270.2" stroke="#d9d9d9" stroke-width="7"/>
<line x1="235" y1="1372.1000000000001" x2="1748" y2="1372.1000000000001" stroke="#d9d9d9" stroke-width="7"/>
<line x1="235" y1="1474.0" x2="1748" y2="1474.0" stroke="#d9d9d9" stroke-width="7"/>
<line x1="235" y1="1575.9" x2="1748" y2="1575.9" stroke="#d9d9d9" stroke-width="7"/>
<line x1="235" y1="1677.8000000000002" x2="1748" y2="1677.8000000000002" stroke="#d9d9d9" stroke-width="7"/>
<line x1="235" y1="1779.7" x2="1748" y2="1779.7" stroke="#d9d9d9" stroke-width="7"/>
<line x1="235" y1="1881.6000000000001" x2="1748" y2="1881.6000000000001" stroke="#d9d9d9" stroke-width="7"/>
<line x1="505.3" y1="1266.7" x2="505.3" y2="1983.5" stroke="#d9d9d9" stroke-width="7"/>
<line x1="775.4" y1="1266.7" x2="775.4" y2="1983.5" stroke="#d9d9d9" stroke-width="7"/>
<line x1="1045.6" y1="1266.7" x2="1045.6" y2="1983.5" stroke="#d9d9d9" stroke-width="7"/>
<line x1="1315.6" y1="1266.7" x2="1315.6" y2="1983.5" stroke="#d9d9d9" stroke-width="7"/>
<line x1="1585.5" y1="1266.7" x2="1585.5" y2="1983.5" stroke="#d9d9d9" stroke-width="7"/>
<line x1="235" y1="1270.2" x2="235" y2="1987.0" stroke="#bfbfbf" stroke-width="7"/>
<line x1="231.5" y1="1983.5" x2="1769.5" y2="1983.5" stroke="#bfbfbf" stroke-width="7"/>
<line x1="1748" y1="1266.7" x2="1748" y2="1987.0" stroke="#bfbfbf" stroke-width="7"/>
<line x1="1748" y1="1270.2" x2="1769.5" y2="1270.2" stroke="#bfbfbf" stroke-width="7"/>
<line x1="1748" y1="1372.1000000000001" x2="1769.5" y2="1372.1000000000001" stroke="#bfbfbf" stroke-width="7"/>
<line x1="1748" y1="1474.0" x2="1769.5" y2="1474.0" stroke="#bfbfbf" stroke-width="7"/>
<line x1="1748" y1="1575.9" x2="1769.5" y2="1575.9" stroke="#bfbfbf" stroke-width="7"/>
<line x1="1748" y1="1677.8000000000002" x2="1769.5" y2="1677.8000000000002" stroke="#bfbfbf" stroke-width="7"/>
<line x1="1748" y1="1779.7" x2="1769.5" y2="1779.7" stroke="#bfbfbf" stroke-width="7"/>
<line x1="1748" y1="1881.6000000000001" x2="1769.5" y2="1881.6000000000001" stroke="#bfbfbf" stroke-width="7"/>
<line x1="1748" y1="1983.5" x2="1769.5" y2="1983.5" stroke="#bfbfbf" stroke-width="7"/>
<clipPath id="cp1"><rect x="235" y="1270.2" width="1534.5" height="713.3"/></clipPath>
<g clip-path="url(#cp1)"><g transform="scale(1.18 1)" fill="none" stroke-width="7.2" stroke-linecap="butt" stroke-linejoin="round">
<path d="M225.4 1255.5 L225.4 1255.7 L225.4 1256.1 L225.4 1256.6 L225.4 1257.2 L225.4 1257.9 L225.4 1258.7 L225.5 1259.5 L225.5 1260.4 L225.5 1261.3 L225.5 1262.3 L225.5 1263.4 L225.5 1264.5 L225.5 1265.7 L225.5 1266.8 L225.5 1268.1 L225.5 1269.4 L225.5 1270.7 L225.5 1272.0 L225.5 1273.4 L225.5 1274.9 L225.5 1276.3 L225.6 1277.8 L225.6 1279.4 L225.6 1281.0 L225.6 1282.6 L225.6 1284.2 L225.6 1285.9 L225.6 1287.6 L225.6 1289.3 L225.7 1291.0 L225.7 1292.8 L225.7 1294.7 L225.7 1296.5 L225.7 1298.4 L225.8 1300.3 L225.8 1302.2 L225.8 1304.1 L225.8 1306.1 L225.8 1308.1 L225.8 1310.2 L225.9 1312.2 L225.9 1314.3 L225.9 1316.4 L225.9 1318.5 L226.0 1320.7 L226.0 1322.9 L226.0 1325.0 L226.1 1327.3 L226.1 1329.5 L226.1 1331.8 L226.2 1334.0 L226.2 1336.3 L226.3 1338.7 L226.3 1341.0 L226.3 1343.4 L226.4 1345.7 L226.4 1348.1 L226.5 1350.6 L226.5 1353.0 L226.6 1355.5 L226.6 1358.0 L226.7 1360.5 L226.7 1363.0 L226.8 1365.5 L226.9 1368.1 L226.9 1370.7 L227.0 1373.3 L227.0 1375.9 L227.1 1378.5 L227.2 1381.1 L227.3 1383.8 L227.3 1386.5 L227.4 1389.2 L227.5 1391.9 L227.6 1394.6 L227.7 1397.3 L227.7 1400.1 L227.8 1402.9 L227.9 1405.7 L228.0 1408.5 L228.1 1411.3 L228.2 1414.2 L228.3 1417.0 L228.4 1419.9 L228.5 1422.8 L228.6 1425.7 L228.7 1428.6 L228.7 1431.6 L228.8 1434.6 L228.9 1437.6 L229.0 1440.6 L229.1 1443.6 L229.2 1446.6 L229.3 1449.7 L229.4 1452.7 L229.5 1455.8 L229.6 1458.9 L229.7 1462.0 L229.9 1465.1 L230.0 1468.2 L230.1 1471.3 L230.2 1474.5 L230.4 1477.6 L230.5 1480.8 L230.7 1484.0 L230.8 1487.1 L231.0 1490.3 L231.1 1493.5 L231.3 1496.7 L231.5 1500.0 L231.6 1503.2 L231.8 1506.4 L232.0 1509.7 L232.2 1512.9 L232.4 1516.2 L232.6 1519.5 L232.8 1522.7 L233.0 1526.0 L233.3 1529.3 L233.5 1532.6 L233.8 1535.9 L234.0 1539.2 L234.3 1542.5 L234.6 1545.8 L234.9 1549.1 L235.2 1552.4 L235.5 1555.7 L235.8 1559.0 L236.2 1562.3 L236.6 1565.6 L237.0 1568.8 L237.4 1572.1 L237.9 1575.3 L238.3 1578.6 L238.8 1581.8 L239.2 1585.1 L239.6 1588.4 L240.1 1591.7 L240.5 1595.0 L241.0 1598.4 L241.5 1601.7 L241.9 1605.0 L242.4 1608.4 L242.9 1611.7 L243.4 1615.1 L243.9 1618.4 L244.4 1621.8 L244.9 1625.1 L245.5 1628.4 L246.1 1631.8 L246.7 1635.1 L247.3 1638.4 L247.9 1641.6 L248.6 1644.9 L249.3 1648.1 L250.1 1651.3 L250.8 1654.5 L251.6 1657.7 L252.4 1660.9 L253.2 1664.1 L254.0 1667.2 L254.9 1670.4 L255.8 1673.5 L256.7 1676.6 L257.6 1679.8 L258.5 1682.9 L259.5 1686.0 L260.4 1689.0 L261.4 1692.1 L262.4 1695.2 L263.5 1698.2 L264.6 1701.2 L265.7 1704.2 L266.9 1707.1 L268.2 1709.9 L269.5 1712.7 L270.8 1715.4 L272.2 1718.2 L273.6 1721.0 L274.9 1723.7 L276.4 1726.4 L277.9 1729.0 L279.4 1731.6 L281.1 1734.1 L282.8 1736.5 L284.6 1738.8 L286.5 1741.1 L288.4 1743.3 L290.4 1745.5 L292.4 1747.6 L294.4 1749.8 L296.5 1751.9 L298.6 1753.9 L300.7 1755.9 L302.9 1757.9 L305.1 1759.8 L307.4 1761.7 L309.7 1763.6 L312.1 1765.5 L314.5 1767.2 L316.9 1769.0 L319.4 1770.7 L322.0 1772.3 L324.6 1773.9 L327.3 1775.3 L330.1 1776.7 L332.9 1778.2 L335.7 1779.6 L338.5 1781.0 L341.3 1782.4 L344.2 1783.8 L347.0 1785.2 L349.9 1786.5 L352.8 1787.8 L355.9 1789.1 L359.0 1790.2 L362.2 1791.2 L365.3 1792.3 L368.5 1793.5 L371.6 1794.6 L374.7 1795.8 L377.9 1796.9 L381.1 1798.1 L384.2 1799.2 L387.4 1800.4 L390.6 1801.5 L393.9 1802.6 L397.1 1803.7 L400.4 1804.7 L403.8 1805.7 L407.3 1806.6 L410.8 1807.4 L414.3 1808.2 L417.9 1808.9 L421.6 1809.6 L425.2 1810.3 L428.9 1811.0 L432.7 1811.6 L436.4 1812.3 L440.2 1812.9 L444.0 1813.4 L447.9 1814.0 L451.7 1814.6 L455.6 1815.1 L459.5 1815.6 L463.4 1816.1 L467.3 1816.6 L471.3 1817.1 L475.3 1817.6 L479.3 1818.0 L483.3 1818.4 L487.3 1818.9 L491.3 1819.3 L495.4 1819.7 L499.5 1820.1 L503.6 1820.5 L507.7 1820.9 L511.8 1821.3 L516.0 1821.6 L520.2 1822.0 L524.3 1822.3 L528.5 1822.7 L532.7 1823.0 L536.9 1823.3 L541.2 1823.7 L545.4 1824.0 L549.6 1824.3 L553.9 1824.7 L558.2 1825.0 L562.5 1825.3 L566.8 1825.6 L571.1 1825.9 L575.4 1826.2 L579.7 1826.5 L584.0 1826.9 L588.4 1827.2 L592.7 1827.5 L597.1 1827.8 L601.4 1828.1 L605.8 1828.4 L610.2 1828.7 L614.6 1829.0 L619.0 1829.3 L623.4 1829.6 L627.8 1829.9 L632.3 1830.2 L636.7 1830.5 L641.2 1830.8 L645.7 1831.0 L650.1 1831.3 L654.6 1831.6 L659.1 1831.8 L663.7 1832.1 L668.2 1832.3 L672.8 1832.6 L677.3 1832.8 L681.9 1833.1 L686.5 1833.3 L691.1 1833.5 L695.7 1833.8 L700.3 1834.0 L704.9 1834.2 L709.5 1834.5 L714.2 1834.7 L718.8 1834.9 L723.4 1835.2 L728.1 1835.4 L732.8 1835.6 L737.4 1835.9 L742.1 1836.1 L746.8 1836.3 L751.5 1836.6 L756.2 1836.8 L760.9 1837.0 L765.7 1837.2 L770.4 1837.4 L775.2 1837.6 L779.9 1837.8 L784.7 1838.0 L789.6 1838.2 L794.4 1838.3 L799.2 1838.5 L804.0 1838.7 L808.9 1838.8 L813.8 1839.0 L818.6 1839.1 L823.5 1839.3 L828.4 1839.4 L833.3 1839.6 L838.2 1839.7 L843.1 1839.8 L848.1 1840.0 L853.0 1840.1 L858.0 1840.3 L862.9 1840.4 L867.9 1840.5 L872.9 1840.7 L877.8 1840.8 L882.8 1840.9 L887.8 1841.0 L892.8 1841.2 L897.8 1841.3 L902.9 1841.4 L907.9 1841.5 L912.9 1841.7 L918.0 1841.8 L923.1 1841.9 L928.1 1842.0 L933.2 1842.2 L938.3 1842.3 L943.4 1842.4 L948.5 1842.5 L953.6 1842.6 L958.7 1842.7 L963.8 1842.9 L968.9 1843.0 L974.1 1843.1 L979.2 1843.2 L984.4 1843.3 L989.5 1843.4 L994.7 1843.5 L999.9 1843.6 L1005.1 1843.7 L1010.3 1843.9 L1015.5 1844.0 L1020.7 1844.1 L1025.9 1844.2 L1031.1 1844.3 L1036.3 1844.4 L1041.6 1844.5 L1046.8 1844.6 L1052.1 1844.7 L1057.3 1844.8 L1062.6 1845.0 L1067.8 1845.1 L1073.1 1845.2 L1078.4 1845.3 L1083.7 1845.4 L1089.0 1845.5 L1094.3 1845.6 L1099.6 1845.7 L1105.0 1845.8 L1110.3 1845.9 L1115.6 1846.0 L1121.0 1846.1 L1126.4 1846.2 L1131.7 1846.3 L1137.1 1846.4 L1142.5 1846.5 L1147.9 1846.6 L1153.3 1846.7 L1158.7 1846.8 L1164.1 1846.9 L1169.5 1847.0 L1175.0 1847.0 L1180.4 1847.1 L1185.9 1847.2 L1191.3 1847.3 L1196.8 1847.3 L1202.3 1847.4 L1207.8 1847.5 L1213.3 1847.6 L1218.8 1847.6 L1224.3 1847.7 L1229.8 1847.8 L1235.3 1847.8 L1240.8 1847.9 L1246.4 1848.0 L1251.9 1848.0 L1257.5 1848.1 L1263.0 1848.2 L1268.6 1848.2 L1274.2 1848.3 L1279.8 1848.4 L1285.4 1848.4 L1291.0 1848.5 L1296.6 1848.5 L1302.2 1848.6 L1307.8 1848.7 L1313.4 1848.7 L1319.1 1848.8 L1324.7 1848.8 L1330.4 1848.9 L1336.0 1848.9 L1341.7 1849.0 L1347.4 1849.1 L1353.0 1849.1 L1358.7 1849.2 L1364.4 1849.2 L1370.1 1849.3 L1375.8 1849.3 L1381.5 1849.4 L1387.3 1849.4 L1393.0 1849.5 L1398.7 1849.5 L1404.5 1849.6 L1410.2 1849.6 L1416.0 1849.7 L1421.7 1849.7 L1427.5 1849.8 L1433.3 1849.8 L1439.0 1849.9 L1439.8 1849.9" stroke="#00b050"/>
<path d="M225.7 1255.2 L225.7 1255.4 L225.7 1255.8 L225.7 1256.3 L225.7 1256.9 L225.7 1257.6 L225.7 1258.4 L225.7 1259.2 L225.7 1260.1 L225.7 1261.1 L225.7 1262.1 L225.7 1263.1 L225.7 1264.2 L225.7 1265.4 L225.7 1266.6 L225.7 1267.8 L225.7 1269.1 L225.7 1270.4 L225.7 1271.8 L225.7 1273.2 L225.7 1274.6 L225.8 1276.1 L225.8 1277.6 L225.8 1279.1 L225.8 1280.7 L225.8 1282.3 L225.8 1284.0 L225.8 1285.6 L225.8 1287.3 L225.8 1289.1 L225.8 1290.8 L225.9 1292.6 L225.9 1294.4 L225.9 1296.3 L225.9 1298.2 L225.9 1300.1 L225.9 1302.0 L225.9 1304.0 L226.0 1305.9 L226.0 1308.0 L226.0 1310.0 L226.0 1312.0 L226.0 1314.1 L226.1 1316.2 L226.1 1318.4 L226.1 1320.5 L226.1 1322.7 L226.2 1324.9 L226.2 1327.1 L226.2 1329.3 L226.3 1331.6 L226.3 1333.9 L226.4 1336.2 L226.4 1338.5 L226.5 1340.8 L226.5 1343.2 L226.6 1345.6 L226.6 1348.0 L226.7 1350.4 L226.7 1352.8 L226.8 1355.3 L226.8 1357.7 L226.9 1360.2 L226.9 1362.8 L227.0 1365.3 L227.1 1367.9 L227.1 1370.4 L227.2 1373.0 L227.2 1375.6 L227.3 1378.3 L227.4 1380.9 L227.5 1383.6 L227.5 1386.2 L227.6 1388.9 L227.7 1391.6 L227.8 1394.4 L227.9 1397.1 L228.0 1399.9 L228.1 1402.6 L228.1 1405.4 L228.2 1408.2 L228.3 1411.0 L228.4 1413.9 L228.5 1416.7 L228.6 1419.6 L228.7 1422.5 L228.8 1425.4 L228.9 1428.3 L229.0 1431.3 L229.1 1434.2 L229.2 1437.2 L229.4 1440.2 L229.5 1443.2 L229.6 1446.2 L229.7 1449.2 L229.8 1452.3 L229.9 1455.3 L230.1 1458.4 L230.2 1461.5 L230.3 1464.5 L230.4 1467.7 L230.6 1470.8 L230.7 1473.9 L230.9 1477.0 L231.0 1480.2 L231.2 1483.4 L231.3 1486.6 L231.5 1489.8 L231.6 1493.0 L231.8 1496.2 L231.9 1499.4 L232.1 1502.6 L232.3 1505.9 L232.5 1509.1 L232.7 1512.4 L232.9 1515.6 L233.1 1518.9 L233.4 1522.1 L233.6 1525.4 L233.9 1528.6 L234.2 1531.8 L234.5 1535.0 L234.9 1538.2 L235.2 1541.4 L235.6 1544.6 L236.0 1547.8 L236.4 1551.0 L236.9 1554.1 L237.3 1557.3 L237.8 1560.4 L238.2 1563.6 L238.7 1566.8 L239.2 1569.9 L239.7 1573.1 L240.2 1576.3 L240.7 1579.5 L241.2 1582.8 L241.7 1586.0 L242.1 1589.3 L242.6 1592.6 L243.1 1595.9 L243.6 1599.2 L244.1 1602.5 L244.6 1605.7 L245.2 1609.0 L245.7 1612.3 L246.3 1615.6 L246.9 1618.8 L247.5 1622.1 L248.1 1625.3 L248.8 1628.6 L249.5 1631.8 L250.1 1635.0 L250.9 1638.2 L251.6 1641.4 L252.4 1644.5 L253.2 1647.6 L254.1 1650.7 L254.9 1653.8 L255.8 1656.8 L256.8 1659.9 L257.7 1662.9 L258.7 1665.9 L259.7 1668.8 L260.8 1671.8 L261.9 1674.7 L263.0 1677.6 L264.1 1680.5 L265.2 1683.4 L266.4 1686.3 L267.6 1689.1 L268.8 1691.9 L270.1 1694.7 L271.4 1697.5 L272.8 1700.2 L274.2 1702.8 L275.6 1705.4 L277.1 1708.0 L278.7 1710.6 L280.2 1713.1 L281.8 1715.6 L283.4 1718.1 L285.1 1720.6 L286.7 1723.0 L288.5 1725.4 L290.3 1727.7 L292.1 1730.0 L294.1 1732.2 L296.0 1734.3 L298.0 1736.5 L300.1 1738.5 L302.2 1740.6 L304.3 1742.6 L306.6 1744.5 L308.8 1746.4 L311.1 1748.2 L313.4 1750.0 L315.8 1751.8 L318.3 1753.5 L320.8 1755.2 L323.3 1756.8 L325.9 1758.3 L328.6 1759.9 L331.3 1761.4 L334.0 1762.8 L336.8 1764.2 L339.7 1765.5 L342.6 1766.7 L345.5 1767.9 L348.5 1769.2 L351.5 1770.4 L354.5 1771.5 L357.6 1772.7 L360.7 1773.8 L363.8 1774.9 L366.9 1776.0 L370.1 1777.1 L373.2 1778.2 L376.4 1779.3 L379.5 1780.4 L382.7 1781.5 L385.9 1782.6 L389.0 1783.8 L392.2 1784.9 L395.5 1786.0 L398.7 1787.0 L402.0 1788.0 L405.3 1789.0 L408.7 1790.0 L412.1 1790.9 L415.5 1791.8 L419.0 1792.7 L422.5 1793.5 L426.1 1794.3 L429.6 1795.1 L433.2 1795.9 L436.9 1796.6 L440.5 1797.3 L444.2 1798.0 L447.9 1798.7 L451.6 1799.4 L455.4 1800.0 L459.1 1800.7 L462.9 1801.3 L466.7 1801.9 L470.6 1802.5 L474.4 1803.1 L478.3 1803.7 L482.1 1804.3 L486.0 1804.8 L489.9 1805.4 L493.9 1805.9 L497.8 1806.5 L501.7 1807.1 L505.7 1807.6 L509.7 1808.1 L513.6 1808.6 L517.7 1809.1 L521.7 1809.6 L525.8 1810.1 L529.9 1810.5 L534.0 1811.0 L538.1 1811.4 L542.2 1811.8 L546.4 1812.2 L550.6 1812.6 L554.8 1813.0 L559.0 1813.3 L563.2 1813.7 L567.4 1814.1 L571.7 1814.4 L575.9 1814.8 L580.2 1815.2 L584.5 1815.5 L588.7 1815.9 L593.0 1816.2 L597.3 1816.6 L601.7 1816.9 L606.0 1817.2 L610.3 1817.6 L614.7 1817.9 L619.0 1818.2 L623.4 1818.6 L627.8 1818.9 L632.2 1819.2 L636.6 1819.5 L641.0 1819.9 L645.4 1820.2 L649.9 1820.5 L654.3 1820.8 L658.8 1821.1 L663.3 1821.4 L667.8 1821.7 L672.3 1822.0 L676.8 1822.2 L681.3 1822.5 L685.8 1822.8 L690.4 1823.1 L694.9 1823.3 L699.5 1823.6 L704.0 1823.9 L708.6 1824.2 L713.2 1824.4 L717.8 1824.7 L722.4 1825.0 L727.0 1825.3 L731.6 1825.6 L736.2 1825.8 L740.8 1826.1 L745.4 1826.4 L750.1 1826.7 L754.7 1827.0 L759.4 1827.2 L764.1 1827.5 L768.8 1827.8 L773.5 1828.0 L778.2 1828.2 L783.0 1828.4 L787.7 1828.6 L792.5 1828.9 L797.3 1829.0 L802.1 1829.2 L806.9 1829.4 L811.7 1829.6 L816.6 1829.8 L821.4 1830.0 L826.3 1830.1 L831.1 1830.3 L836.0 1830.5 L840.9 1830.6 L845.8 1830.8 L850.7 1830.9 L855.6 1831.1 L860.5 1831.2 L865.5 1831.4 L870.4 1831.5 L875.4 1831.7 L880.3 1831.8 L885.3 1832.0 L890.3 1832.1 L895.3 1832.3 L900.3 1832.4 L905.3 1832.5 L910.3 1832.7 L915.3 1832.8 L920.3 1832.9 L925.4 1833.1 L930.4 1833.2 L935.5 1833.3 L940.6 1833.5 L945.6 1833.6 L950.7 1833.7 L955.8 1833.8 L960.9 1834.0 L966.0 1834.1 L971.1 1834.2 L976.2 1834.3 L981.4 1834.5 L986.5 1834.6 L991.7 1834.7 L996.8 1834.8 L1002.0 1835.0 L1007.1 1835.1 L1012.3 1835.2 L1017.5 1835.3 L1022.7 1835.4 L1027.9 1835.6 L1033.1 1835.7 L1038.3 1835.8 L1043.5 1835.9 L1048.7 1836.1 L1054.0 1836.2 L1059.2 1836.3 L1064.4 1836.4 L1069.7 1836.6 L1075.0 1836.7 L1080.2 1836.8 L1085.5 1836.9 L1090.8 1837.0 L1096.1 1837.2 L1101.4 1837.3 L1106.7 1837.4 L1112.0 1837.5 L1117.3 1837.6 L1122.7 1837.7 L1128.0 1837.8 L1133.4 1837.9 L1138.7 1838.1 L1144.1 1838.2 L1149.5 1838.3 L1154.9 1838.4 L1160.3 1838.4 L1165.7 1838.5 L1171.1 1838.6 L1176.5 1838.7 L1181.9 1838.8 L1187.4 1838.9 L1192.8 1839.0 L1198.3 1839.0 L1203.8 1839.1 L1209.3 1839.2 L1214.8 1839.2 L1220.2 1839.3 L1225.7 1839.4 L1231.3 1839.5 L1236.8 1839.5 L1242.3 1839.6 L1247.8 1839.7 L1253.4 1839.7 L1258.9 1839.8 L1264.5 1839.8 L1270.0 1839.9 L1275.6 1840.0 L1281.2 1840.0 L1286.8 1840.1 L1292.4 1840.1 L1298.0 1840.2 L1303.6 1840.3 L1309.2 1840.3 L1314.8 1840.4 L1320.5 1840.4 L1326.1 1840.5 L1331.7 1840.5 L1337.4 1840.6 L1343.1 1840.6 L1348.7 1840.7 L1354.4 1840.7 L1360.1 1840.8 L1365.8 1840.9 L1371.5 1840.9 L1377.2 1841.0 L1382.9 1841.0 L1388.6 1841.1 L1394.3 1841.1 L1400.0 1841.2 L1405.8 1841.2 L1411.5 1841.3 L1417.3 1841.3 L1423.0 1841.4 L1428.8 1841.4 L1434.6 1841.5 L1439.8 1841.5" stroke="#1f9bd8"/>
<path d="M225.8 1255.1 L225.8 1255.3 L225.8 1255.7 L225.8 1256.2 L225.8 1256.8 L225.8 1257.5 L225.8 1258.3 L225.8 1259.1 L225.8 1260.0 L225.8 1261.0 L225.8 1262.0 L225.8 1263.0 L225.8 1264.1 L225.8 1265.3 L225.8 1266.5 L225.8 1267.7 L225.8 1269.0 L225.8 1270.3 L225.8 1271.7 L225.8 1273.1 L225.8 1274.5 L225.8 1276.0 L225.8 1277.5 L225.8 1279.1 L225.8 1280.6 L225.9 1282.3 L225.9 1283.9 L225.9 1285.6 L225.9 1287.3 L225.9 1289.0 L225.9 1290.8 L225.9 1292.6 L225.9 1294.4 L225.9 1296.2 L226.0 1298.1 L226.0 1300.0 L226.0 1301.9 L226.0 1303.9 L226.0 1305.9 L226.0 1307.9 L226.0 1309.9 L226.1 1312.0 L226.1 1314.1 L226.1 1316.2 L226.1 1318.3 L226.2 1320.5 L226.2 1322.6 L226.2 1324.8 L226.3 1327.0 L226.3 1329.3 L226.3 1331.5 L226.4 1333.8 L226.4 1336.1 L226.5 1338.4 L226.5 1340.8 L226.6 1343.1 L226.6 1345.5 L226.7 1347.9 L226.7 1350.3 L226.8 1352.7 L226.8 1355.2 L226.9 1357.7 L226.9 1360.2 L227.0 1362.7 L227.1 1365.2 L227.1 1367.8 L227.2 1370.4 L227.2 1373.0 L227.3 1375.6 L227.4 1378.2 L227.4 1380.8 L227.5 1383.5 L227.6 1386.2 L227.7 1388.9 L227.8 1391.6 L227.8 1394.3 L227.9 1397.0 L228.0 1399.8 L228.1 1402.5 L228.2 1405.3 L228.3 1408.1 L228.4 1411.0 L228.5 1413.8 L228.6 1416.6 L228.7 1419.5 L228.8 1422.4 L228.9 1425.3 L229.0 1428.2 L229.1 1431.2 L229.2 1434.1 L229.3 1437.1 L229.5 1440.0 L229.6 1443.0 L229.7 1446.0 L229.8 1449.1 L229.9 1452.1 L230.1 1455.2 L230.2 1458.2 L230.3 1461.3 L230.5 1464.4 L230.6 1467.5 L230.7 1470.6 L230.9 1473.7 L231.0 1476.9 L231.2 1480.0 L231.3 1483.2 L231.5 1486.4 L231.6 1489.6 L231.8 1492.8 L231.9 1496.0 L232.1 1499.2 L232.3 1502.5 L232.4 1505.7 L232.6 1508.9 L232.8 1512.2 L233.1 1515.4 L233.3 1518.7 L233.5 1521.9 L233.8 1525.2 L234.1 1528.4 L234.4 1531.6 L234.8 1534.7 L235.1 1537.9 L235.5 1541.1 L235.9 1544.2 L236.3 1547.4 L236.8 1550.5 L237.3 1553.6 L237.8 1556.7 L238.3 1559.8 L238.8 1563.0 L239.3 1566.1 L239.8 1569.3 L240.3 1572.4 L240.8 1575.6 L241.3 1578.8 L241.8 1582.0 L242.3 1585.3 L242.8 1588.5 L243.3 1591.8 L243.8 1595.1 L244.3 1598.4 L244.8 1601.6 L245.4 1604.9 L245.9 1608.2 L246.5 1611.4 L247.1 1614.7 L247.7 1617.9 L248.3 1621.1 L249.0 1624.3 L249.6 1627.5 L250.3 1630.8 L251.0 1633.9 L251.8 1637.1 L252.5 1640.3 L253.4 1643.4 L254.2 1646.4 L255.1 1649.5 L256.0 1652.5 L256.9 1655.5 L257.9 1658.5 L258.9 1661.5 L259.9 1664.5 L261.0 1667.3 L262.1 1670.2 L263.2 1673.1 L264.4 1675.9 L265.5 1678.8 L266.7 1681.6 L267.9 1684.4 L269.2 1687.2 L270.5 1689.9 L271.8 1692.7 L273.2 1695.3 L274.6 1698.0 L276.1 1700.6 L277.6 1703.2 L279.1 1705.7 L280.7 1708.2 L282.3 1710.6 L284.0 1713.0 L285.6 1715.5 L287.3 1717.9 L289.0 1720.3 L290.8 1722.6 L292.6 1724.9 L294.5 1727.2 L296.4 1729.4 L298.4 1731.5 L300.4 1733.6 L302.5 1735.7 L304.6 1737.7 L306.8 1739.6 L309.1 1741.5 L311.4 1743.4 L313.7 1745.2 L316.1 1746.9 L318.5 1748.7 L321.0 1750.3 L323.5 1751.9 L326.1 1753.5 L328.8 1755.0 L331.5 1756.5 L334.2 1757.9 L337.0 1759.3 L339.8 1760.6 L342.7 1761.9 L345.7 1763.1 L348.7 1764.3 L351.7 1765.4 L354.7 1766.5 L357.8 1767.6 L360.9 1768.7 L364.1 1769.8 L367.2 1770.9 L370.4 1771.9 L373.6 1773.0 L376.7 1774.0 L379.9 1775.1 L383.1 1776.3 L386.2 1777.4 L389.4 1778.5 L392.6 1779.6 L395.8 1780.7 L399.0 1781.8 L402.3 1782.8 L405.6 1783.8 L409.0 1784.7 L412.4 1785.7 L415.8 1786.6 L419.2 1787.5 L422.7 1788.3 L426.2 1789.2 L429.8 1790.0 L433.4 1790.7 L436.9 1791.5 L440.6 1792.3 L444.2 1793.0 L447.9 1793.7 L451.5 1794.4 L455.2 1795.1 L459.0 1795.8 L462.7 1796.5 L466.5 1797.1 L470.3 1797.8 L474.1 1798.4 L477.9 1799.0 L481.7 1799.6 L485.6 1800.2 L489.4 1800.8 L493.3 1801.4 L497.2 1802.0 L501.1 1802.6 L505.0 1803.2 L508.9 1803.8 L512.9 1804.3 L516.8 1804.9 L520.8 1805.4 L524.8 1805.9 L528.9 1806.4 L532.9 1806.9 L537.0 1807.4 L541.1 1807.8 L545.2 1808.2 L549.4 1808.7 L553.6 1809.1 L557.7 1809.5 L561.9 1809.9 L566.1 1810.2 L570.3 1810.6 L574.6 1811.0 L578.8 1811.4 L583.1 1811.7 L587.3 1812.1 L591.6 1812.5 L595.9 1812.8 L600.2 1813.2 L604.5 1813.6 L608.8 1813.9 L613.2 1814.3 L617.5 1814.6 L621.9 1814.9 L626.2 1815.3 L630.6 1815.6 L635.0 1815.9 L639.4 1816.3 L643.8 1816.6 L648.2 1816.9 L652.6 1817.2 L657.1 1817.6 L661.5 1817.9 L666.0 1818.2 L670.5 1818.5 L675.0 1818.8 L679.5 1819.0 L684.0 1819.3 L688.5 1819.6 L693.0 1819.9 L697.6 1820.2 L702.1 1820.5 L706.7 1820.8 L711.3 1821.0 L715.8 1821.3 L720.4 1821.6 L725.0 1821.9 L729.6 1822.2 L734.2 1822.5 L738.8 1822.8 L743.4 1823.1 L748.0 1823.4 L752.6 1823.7 L757.2 1824.0 L761.9 1824.3 L766.5 1824.6 L771.2 1824.8 L775.9 1825.1 L780.7 1825.3 L785.4 1825.5 L790.2 1825.7 L794.9 1826.0 L799.7 1826.2 L804.5 1826.4 L809.3 1826.6 L814.1 1826.7 L819.0 1826.9 L823.8 1827.1 L828.7 1827.3 L833.5 1827.5 L838.4 1827.6 L843.3 1827.8 L848.2 1828.0 L853.1 1828.1 L858.0 1828.3 L862.9 1828.4 L867.9 1828.6 L872.8 1828.7 L877.7 1828.9 L882.7 1829.0 L887.7 1829.2 L892.6 1829.3 L897.6 1829.5 L902.6 1829.6 L907.6 1829.8 L912.6 1829.9 L917.7 1830.0 L922.7 1830.2 L927.7 1830.3 L932.8 1830.4 L937.8 1830.6 L942.9 1830.7 L948.0 1830.8 L953.0 1831.0 L958.1 1831.1 L963.2 1831.2 L968.3 1831.4 L973.4 1831.5 L978.6 1831.6 L983.7 1831.7 L988.8 1831.9 L994.0 1832.0 L999.1 1832.1 L1004.3 1832.2 L1009.4 1832.4 L1014.6 1832.5 L1019.8 1832.6 L1025.0 1832.7 L1030.2 1832.9 L1035.4 1833.0 L1040.6 1833.1 L1045.8 1833.3 L1051.0 1833.4 L1056.2 1833.5 L1061.5 1833.6 L1066.7 1833.8 L1072.0 1833.9 L1077.2 1834.0 L1082.5 1834.1 L1087.7 1834.3 L1093.0 1834.4 L1098.3 1834.5 L1103.6 1834.6 L1108.9 1834.8 L1114.2 1834.9 L1119.6 1835.0 L1124.9 1835.1 L1130.2 1835.2 L1135.6 1835.3 L1140.9 1835.4 L1146.3 1835.5 L1151.7 1835.6 L1157.1 1835.7 L1162.5 1835.8 L1167.9 1835.9 L1173.3 1836.0 L1178.7 1836.1 L1184.2 1836.2 L1189.6 1836.3 L1195.1 1836.3 L1200.5 1836.4 L1206.0 1836.5 L1211.5 1836.6 L1217.0 1836.6 L1222.5 1836.7 L1228.0 1836.8 L1233.5 1836.8 L1239.0 1836.9 L1244.5 1837.0 L1250.1 1837.0 L1255.6 1837.1 L1261.1 1837.2 L1266.7 1837.2 L1272.3 1837.3 L1277.8 1837.3 L1283.4 1837.4 L1289.0 1837.5 L1294.6 1837.5 L1300.2 1837.6 L1305.8 1837.6 L1311.4 1837.7 L1317.1 1837.7 L1322.7 1837.8 L1328.3 1837.9 L1334.0 1837.9 L1339.6 1838.0 L1345.3 1838.0 L1351.0 1838.1 L1356.6 1838.1 L1362.3 1838.2 L1368.0 1838.2 L1373.7 1838.3 L1379.4 1838.3 L1385.1 1838.4 L1390.8 1838.4 L1396.5 1838.5 L1402.3 1838.5 L1408.0 1838.6 L1413.8 1838.6 L1419.5 1838.7 L1425.3 1838.7 L1431.0 1838.8 L1436.8 1838.8 L1439.8 1838.8" stroke="#ff0000"/>
<path d="M225.8 1255.1 L225.8 1255.3 L225.8 1255.7 L225.8 1256.2 L225.8 1256.8 L225.8 1257.5 L225.8 1258.3 L225.8 1259.1 L225.8 1260.0 L225.8 1260.9 L225.8 1261.9 L225.8 1263.0 L225.8 1264.1 L225.8 1265.3 L225.8 1266.5 L225.8 1267.7 L225.8 1269.0 L225.8 1270.3 L225.8 1271.7 L225.8 1273.1 L225.8 1274.5 L225.8 1276.0 L225.9 1277.5 L225.9 1279.0 L225.9 1280.6 L225.9 1282.2 L225.9 1283.9 L225.9 1285.5 L225.9 1287.2 L225.9 1289.0 L225.9 1290.7 L225.9 1292.5 L226.0 1294.3 L226.0 1296.2 L226.0 1298.1 L226.0 1300.0 L226.0 1301.9 L226.0 1303.9 L226.0 1305.9 L226.1 1307.9 L226.1 1309.9 L226.1 1312.0 L226.1 1314.1 L226.1 1316.2 L226.2 1318.3 L226.2 1320.4 L226.2 1322.6 L226.2 1324.8 L226.3 1327.0 L226.3 1329.3 L226.3 1331.5 L226.4 1333.8 L226.4 1336.1 L226.5 1338.4 L226.5 1340.7 L226.6 1343.1 L226.6 1345.5 L226.7 1347.9 L226.7 1350.3 L226.8 1352.7 L226.8 1355.2 L226.9 1357.7 L227.0 1360.1 L227.0 1362.7 L227.1 1365.2 L227.1 1367.8 L227.2 1370.3 L227.3 1372.9 L227.3 1375.5 L227.4 1378.2 L227.5 1380.8 L227.5 1383.5 L227.6 1386.1 L227.7 1388.8 L227.8 1391.5 L227.9 1394.3 L228.0 1397.0 L228.1 1399.7 L228.1 1402.5 L228.2 1405.3 L228.3 1408.1 L228.4 1410.9 L228.5 1413.8 L228.6 1416.6 L228.7 1419.5 L228.8 1422.4 L228.9 1425.3 L229.1 1428.2 L229.2 1431.1 L229.3 1434.1 L229.4 1437.0 L229.5 1440.0 L229.6 1443.0 L229.7 1446.0 L229.9 1449.0 L230.0 1452.0 L230.1 1455.1 L230.2 1458.1 L230.4 1461.2 L230.5 1464.3 L230.7 1467.4 L230.8 1470.5 L230.9 1473.6 L231.1 1476.8 L231.2 1479.9 L231.4 1483.1 L231.5 1486.3 L231.7 1489.5 L231.8 1492.7 L232.0 1495.9 L232.2 1499.2 L232.3 1502.4 L232.5 1505.6 L232.7 1508.9 L232.9 1512.1 L233.1 1515.4 L233.3 1518.6 L233.6 1521.9 L233.9 1525.1 L234.2 1528.3 L234.5 1531.5 L234.9 1534.6 L235.2 1537.8 L235.6 1540.9 L236.1 1544.1 L236.5 1547.2 L237.0 1550.3 L237.5 1553.4 L238.0 1556.5 L238.5 1559.6 L239.0 1562.7 L239.5 1565.8 L240.0 1569.0 L240.5 1572.2 L241.1 1575.3 L241.6 1578.5 L242.1 1581.7 L242.6 1585.0 L243.1 1588.2 L243.6 1591.5 L244.0 1594.8 L244.6 1598.0 L245.1 1601.3 L245.6 1604.6 L246.2 1607.8 L246.8 1611.0 L247.4 1614.3 L248.0 1617.5 L248.7 1620.7 L249.3 1623.9 L250.0 1627.1 L250.7 1630.3 L251.4 1633.5 L252.2 1636.7 L252.9 1639.8 L253.8 1642.9 L254.6 1645.9 L255.5 1649.0 L256.5 1652.0 L257.4 1655.0 L258.4 1658.0 L259.4 1660.9 L260.4 1663.9 L261.5 1666.7 L262.7 1669.6 L263.8 1672.4 L265.0 1675.2 L266.2 1678.1 L267.4 1680.9 L268.6 1683.7 L269.9 1686.4 L271.2 1689.1 L272.6 1691.8 L274.0 1694.4 L275.4 1697.1 L276.9 1699.6 L278.4 1702.2 L280.0 1704.7 L281.6 1707.1 L283.2 1709.6 L284.9 1712.0 L286.6 1714.4 L288.3 1716.8 L290.0 1719.1 L291.8 1721.5 L293.6 1723.8 L295.5 1726.0 L297.4 1728.2 L299.4 1730.3 L301.5 1732.4 L303.5 1734.5 L305.7 1736.4 L307.9 1738.4 L310.1 1740.2 L312.4 1742.1 L314.8 1743.9 L317.2 1745.6 L319.6 1747.4 L322.1 1749.0 L324.7 1750.6 L327.3 1752.1 L330.0 1753.6 L332.7 1755.0 L335.4 1756.4 L338.2 1757.8 L341.1 1759.1 L344.0 1760.4 L347.0 1761.6 L350.0 1762.7 L353.0 1763.8 L356.1 1764.9 L359.2 1766.0 L362.4 1767.1 L365.5 1768.1 L368.7 1769.1 L371.9 1770.2 L375.1 1771.2 L378.2 1772.3 L381.4 1773.4 L384.5 1774.5 L387.7 1775.6 L390.9 1776.7 L394.1 1777.8 L397.3 1778.9 L400.5 1780.0 L403.8 1781.0 L407.1 1782.0 L410.5 1782.9 L413.9 1783.8 L417.3 1784.7 L420.8 1785.6 L424.3 1786.5 L427.8 1787.3 L431.3 1788.1 L434.9 1788.9 L438.5 1789.7 L442.1 1790.4 L445.7 1791.2 L449.4 1791.9 L453.1 1792.6 L456.8 1793.3 L460.5 1794.0 L464.2 1794.7 L468.0 1795.3 L471.8 1796.0 L475.6 1796.6 L479.4 1797.3 L483.2 1797.9 L487.0 1798.5 L490.9 1799.1 L494.7 1799.7 L498.6 1800.3 L502.5 1800.9 L506.4 1801.5 L510.3 1802.1 L514.2 1802.7 L518.2 1803.3 L522.1 1803.9 L526.1 1804.4 L530.2 1804.9 L534.2 1805.4 L538.3 1805.8 L542.4 1806.3 L546.5 1806.7 L550.7 1807.2 L554.8 1807.6 L559.0 1808.0 L563.2 1808.4 L567.4 1808.8 L571.6 1809.2 L575.8 1809.6 L580.0 1809.9 L584.3 1810.3 L588.6 1810.7 L592.8 1811.1 L597.1 1811.4 L601.4 1811.8 L605.7 1812.1 L610.0 1812.5 L614.3 1812.9 L618.7 1813.2 L623.0 1813.6 L627.4 1813.9 L631.8 1814.2 L636.1 1814.6 L640.5 1814.9 L645.0 1815.2 L649.4 1815.5 L653.8 1815.9 L658.2 1816.2 L662.7 1816.5 L667.2 1816.8 L671.6 1817.1 L676.1 1817.4 L680.6 1817.7 L685.1 1818.0 L689.6 1818.3 L694.2 1818.6 L698.7 1818.9 L703.3 1819.1 L707.8 1819.4 L712.4 1819.7 L716.9 1820.0 L721.5 1820.3 L726.1 1820.6 L730.7 1820.9 L735.2 1821.2 L739.8 1821.5 L744.4 1821.9 L749.0 1822.2 L753.7 1822.5 L758.3 1822.8 L762.9 1823.1 L767.6 1823.3 L772.3 1823.6 L777.0 1823.8 L781.7 1824.1 L786.5 1824.3 L791.2 1824.5 L796.0 1824.7 L800.8 1824.9 L805.5 1825.1 L810.4 1825.3 L815.2 1825.5 L820.0 1825.7 L824.8 1825.9 L829.7 1826.1 L834.5 1826.3 L839.4 1826.4 L844.3 1826.6 L849.2 1826.8 L854.1 1826.9 L859.0 1827.1 L863.9 1827.2 L868.9 1827.4 L873.8 1827.6 L878.7 1827.7 L883.7 1827.9 L888.7 1828.0 L893.6 1828.2 L898.6 1828.3 L903.6 1828.5 L908.6 1828.6 L913.6 1828.7 L918.6 1828.9 L923.7 1829.0 L928.7 1829.2 L933.8 1829.3 L938.8 1829.4 L943.9 1829.6 L948.9 1829.7 L954.0 1829.8 L959.1 1830.0 L964.2 1830.1 L969.3 1830.2 L974.4 1830.3 L979.5 1830.5 L984.7 1830.6 L989.8 1830.7 L994.9 1830.9 L1000.1 1831.0 L1005.2 1831.1 L1010.4 1831.2 L1015.6 1831.4 L1020.7 1831.5 L1025.9 1831.6 L1031.1 1831.7 L1036.3 1831.9 L1041.5 1832.0 L1046.7 1832.1 L1052.0 1832.3 L1057.2 1832.4 L1062.4 1832.5 L1067.7 1832.6 L1072.9 1832.8 L1078.2 1832.9 L1083.4 1833.0 L1088.7 1833.2 L1094.0 1833.3 L1099.3 1833.4 L1104.6 1833.5 L1109.9 1833.7 L1115.2 1833.8 L1120.5 1833.9 L1125.8 1834.0 L1131.2 1834.1 L1136.5 1834.2 L1141.9 1834.3 L1147.2 1834.4 L1152.6 1834.5 L1158.0 1834.6 L1163.4 1834.7 L1168.8 1834.8 L1174.2 1834.9 L1179.7 1835.0 L1185.1 1835.1 L1190.5 1835.2 L1196.0 1835.2 L1201.5 1835.3 L1206.9 1835.4 L1212.4 1835.5 L1217.9 1835.5 L1223.4 1835.6 L1228.9 1835.7 L1234.4 1835.7 L1239.9 1835.8 L1245.4 1835.9 L1251.0 1835.9 L1256.5 1836.0 L1262.1 1836.1 L1267.6 1836.1 L1273.2 1836.2 L1278.8 1836.2 L1284.4 1836.3 L1289.9 1836.4 L1295.5 1836.4 L1301.1 1836.5 L1306.7 1836.5 L1312.4 1836.6 L1318.0 1836.6 L1323.6 1836.7 L1329.3 1836.7 L1334.9 1836.8 L1340.6 1836.9 L1346.2 1836.9 L1351.9 1837.0 L1357.6 1837.0 L1363.2 1837.1 L1368.9 1837.1 L1374.6 1837.2 L1380.3 1837.2 L1386.0 1837.3 L1391.8 1837.3 L1397.5 1837.4 L1403.2 1837.4 L1409.0 1837.5 L1414.7 1837.5 L1420.4 1837.6 L1426.2 1837.6 L1432.0 1837.7 L1437.7 1837.7 L1439.8 1837.7" stroke="#ffc000"/>
<path d="M225.8 1255.0 L225.8 1255.2 L225.8 1255.6 L225.8 1256.1 L225.8 1256.7 L225.8 1257.4 L225.8 1258.2 L225.8 1259.0 L225.9 1259.9 L225.9 1260.9 L225.9 1261.9 L225.9 1262.9 L225.9 1264.1 L225.9 1265.2 L225.9 1266.4 L225.9 1267.6 L225.9 1268.9 L225.9 1270.3 L225.9 1271.6 L225.9 1273.0 L225.9 1274.5 L225.9 1275.9 L225.9 1277.4 L225.9 1279.0 L225.9 1280.6 L225.9 1282.2 L225.9 1283.8 L225.9 1285.5 L225.9 1287.2 L226.0 1288.9 L226.0 1290.7 L226.0 1292.5 L226.0 1294.3 L226.0 1296.2 L226.0 1298.0 L226.0 1299.9 L226.0 1301.9 L226.1 1303.8 L226.1 1305.8 L226.1 1307.8 L226.1 1309.9 L226.1 1311.9 L226.1 1314.0 L226.2 1316.1 L226.2 1318.3 L226.2 1320.4 L226.2 1322.6 L226.3 1324.8 L226.3 1327.0 L226.3 1329.2 L226.4 1331.5 L226.4 1333.7 L226.5 1336.0 L226.5 1338.4 L226.6 1340.7 L226.6 1343.1 L226.7 1345.4 L226.7 1347.8 L226.8 1350.2 L226.8 1352.7 L226.9 1355.1 L226.9 1357.6 L227.0 1360.1 L227.1 1362.6 L227.1 1365.2 L227.2 1367.7 L227.2 1370.3 L227.3 1372.9 L227.4 1375.5 L227.4 1378.1 L227.5 1380.7 L227.6 1383.4 L227.7 1386.1 L227.8 1388.8 L227.8 1391.5 L227.9 1394.2 L228.0 1396.9 L228.1 1399.7 L228.2 1402.5 L228.3 1405.2 L228.4 1408.0 L228.5 1410.9 L228.6 1413.7 L228.7 1416.5 L228.8 1419.4 L228.9 1422.3 L229.0 1425.2 L229.1 1428.1 L229.2 1431.0 L229.3 1434.0 L229.5 1436.9 L229.6 1439.9 L229.7 1442.9 L229.8 1445.9 L229.9 1448.9 L230.1 1451.9 L230.2 1455.0 L230.3 1458.0 L230.5 1461.1 L230.6 1464.2 L230.8 1467.3 L230.9 1470.4 L231.0 1473.5 L231.2 1476.7 L231.3 1479.8 L231.5 1483.0 L231.6 1486.2 L231.8 1489.4 L231.9 1492.6 L232.1 1495.8 L232.3 1499.0 L232.4 1502.3 L232.6 1505.5 L232.8 1508.7 L233.0 1512.0 L233.2 1515.2 L233.5 1518.5 L233.7 1521.7 L234.0 1524.9 L234.3 1528.1 L234.7 1531.3 L235.0 1534.4 L235.4 1537.6 L235.8 1540.7 L236.3 1543.8 L236.7 1546.9 L237.2 1550.0 L237.8 1553.1 L238.3 1556.1 L238.8 1559.2 L239.4 1562.3 L239.9 1565.4 L240.4 1568.5 L240.9 1571.7 L241.5 1574.8 L242.0 1578.0 L242.5 1581.2 L243.0 1584.4 L243.5 1587.7 L244.0 1591.0 L244.5 1594.2 L245.0 1597.5 L245.6 1600.7 L246.1 1604.0 L246.7 1607.2 L247.3 1610.4 L247.9 1613.6 L248.6 1616.9 L249.2 1620.1 L249.9 1623.2 L250.6 1626.4 L251.3 1629.6 L252.0 1632.8 L252.8 1635.9 L253.6 1639.0 L254.4 1642.1 L255.3 1645.1 L256.2 1648.1 L257.2 1651.1 L258.1 1654.1 L259.1 1657.1 L260.2 1660.0 L261.3 1662.9 L262.4 1665.7 L263.6 1668.5 L264.7 1671.3 L265.9 1674.1 L267.2 1676.9 L268.4 1679.7 L269.7 1682.4 L271.0 1685.1 L272.4 1687.7 L273.8 1690.4 L275.2 1693.0 L276.7 1695.6 L278.2 1698.1 L279.7 1700.6 L281.3 1703.1 L283.0 1705.5 L284.7 1707.9 L286.4 1710.2 L288.1 1712.6 L289.8 1714.9 L291.6 1717.3 L293.4 1719.6 L295.2 1721.9 L297.1 1724.1 L299.1 1726.3 L301.1 1728.4 L303.1 1730.5 L305.2 1732.5 L307.4 1734.4 L309.6 1736.3 L311.9 1738.2 L314.2 1740.0 L316.6 1741.8 L319.0 1743.5 L321.4 1745.2 L324.0 1746.8 L326.6 1748.3 L329.2 1749.8 L331.9 1751.3 L334.7 1752.7 L337.4 1754.1 L340.2 1755.4 L343.1 1756.7 L346.0 1757.9 L349.1 1759.1 L352.1 1760.2 L355.2 1761.3 L358.3 1762.3 L361.5 1763.4 L364.6 1764.4 L367.8 1765.4 L371.1 1766.3 L374.3 1767.3 L377.5 1768.4 L380.6 1769.5 L383.8 1770.6 L386.9 1771.7 L390.1 1772.8 L393.3 1773.9 L396.5 1775.0 L399.7 1776.1 L403.0 1777.1 L406.3 1778.1 L409.6 1779.1 L413.0 1780.0 L416.4 1780.9 L419.9 1781.8 L423.3 1782.6 L426.8 1783.5 L430.3 1784.3 L433.9 1785.1 L437.4 1785.9 L441.0 1786.7 L444.6 1787.5 L448.3 1788.2 L451.9 1789.0 L455.6 1789.7 L459.2 1790.4 L462.9 1791.1 L466.7 1791.8 L470.4 1792.5 L474.2 1793.1 L478.0 1793.8 L481.8 1794.4 L485.6 1795.1 L489.4 1795.7 L493.2 1796.4 L497.1 1797.0 L500.9 1797.6 L504.8 1798.3 L508.6 1798.9 L512.5 1799.5 L516.4 1800.1 L520.3 1800.7 L524.3 1801.3 L528.3 1801.9 L532.3 1802.4 L536.3 1802.9 L540.4 1803.4 L544.5 1803.8 L548.6 1804.3 L552.7 1804.7 L556.8 1805.2 L561.0 1805.6 L565.2 1806.0 L569.4 1806.4 L573.6 1806.8 L577.8 1807.2 L582.0 1807.6 L586.3 1808.0 L590.5 1808.4 L594.8 1808.7 L599.1 1809.1 L603.3 1809.5 L607.6 1809.9 L611.9 1810.2 L616.3 1810.6 L620.6 1810.9 L624.9 1811.3 L629.3 1811.6 L633.7 1812.0 L638.1 1812.3 L642.4 1812.7 L646.8 1813.0 L651.3 1813.3 L655.7 1813.6 L660.1 1814.0 L664.6 1814.3 L669.0 1814.6 L673.5 1814.9 L678.0 1815.2 L682.5 1815.5 L687.0 1815.8 L691.5 1816.1 L696.0 1816.4 L700.5 1816.7 L705.1 1817.0 L709.6 1817.3 L714.2 1817.6 L718.7 1817.9 L723.3 1818.2 L727.9 1818.5 L732.4 1818.8 L737.0 1819.2 L741.6 1819.5 L746.2 1819.8 L750.8 1820.1 L755.4 1820.4 L760.0 1820.7 L764.6 1821.0 L769.3 1821.3 L774.0 1821.6 L778.7 1821.8 L783.4 1822.1 L788.1 1822.3 L792.9 1822.5 L797.7 1822.8 L802.4 1823.0 L807.2 1823.2 L812.0 1823.4 L816.8 1823.6 L821.7 1823.8 L826.5 1823.9 L831.3 1824.1 L836.2 1824.3 L841.1 1824.5 L845.9 1824.7 L850.8 1824.8 L855.7 1825.0 L860.6 1825.2 L865.6 1825.3 L870.5 1825.5 L875.4 1825.6 L880.4 1825.8 L885.3 1826.0 L890.3 1826.1 L895.3 1826.3 L900.2 1826.4 L905.2 1826.5 L910.2 1826.7 L915.2 1826.8 L920.2 1827.0 L925.3 1827.1 L930.3 1827.3 L935.4 1827.4 L940.4 1827.5 L945.5 1827.7 L950.5 1827.8 L955.6 1827.9 L960.7 1828.1 L965.8 1828.2 L970.9 1828.3 L976.0 1828.5 L981.1 1828.6 L986.2 1828.7 L991.4 1828.9 L996.5 1829.0 L1001.7 1829.1 L1006.8 1829.2 L1012.0 1829.4 L1017.1 1829.5 L1022.3 1829.6 L1027.5 1829.8 L1032.7 1829.9 L1037.9 1830.0 L1043.1 1830.2 L1048.3 1830.3 L1053.5 1830.4 L1058.7 1830.6 L1064.0 1830.7 L1069.2 1830.8 L1074.4 1831.0 L1079.7 1831.1 L1085.0 1831.2 L1090.2 1831.3 L1095.5 1831.5 L1100.8 1831.6 L1106.1 1831.7 L1111.4 1831.8 L1116.7 1832.0 L1122.0 1832.1 L1127.3 1832.2 L1132.7 1832.3 L1138.0 1832.4 L1143.4 1832.5 L1148.8 1832.7 L1154.1 1832.8 L1159.5 1832.9 L1164.9 1833.0 L1170.3 1833.0 L1175.7 1833.1 L1181.2 1833.2 L1186.6 1833.3 L1192.1 1833.4 L1197.5 1833.5 L1203.0 1833.5 L1208.4 1833.6 L1213.9 1833.7 L1219.4 1833.7 L1224.9 1833.8 L1230.4 1833.9 L1235.9 1834.0 L1241.4 1834.0 L1247.0 1834.1 L1252.5 1834.2 L1258.0 1834.2 L1263.6 1834.3 L1269.2 1834.3 L1274.7 1834.4 L1280.3 1834.5 L1285.9 1834.5 L1291.5 1834.6 L1297.1 1834.6 L1302.7 1834.7 L1308.3 1834.7 L1313.9 1834.8 L1319.5 1834.8 L1325.1 1834.9 L1330.8 1835.0 L1336.4 1835.0 L1342.1 1835.1 L1347.7 1835.1 L1353.4 1835.2 L1359.1 1835.2 L1364.8 1835.3 L1370.5 1835.3 L1376.2 1835.4 L1381.9 1835.4 L1387.6 1835.5 L1393.3 1835.5 L1399.0 1835.6 L1404.7 1835.6 L1410.5 1835.7 L1416.2 1835.7 L1422.0 1835.7 L1427.7 1835.8 L1433.5 1835.8 L1439.3 1835.9 L1439.8 1835.9" stroke="#000000"/>
</g></g>
<g fill="#000"><circle cx="281.4" cy="1325.5" r="8.8"/><circle cx="495.7" cy="1439.2" r="8.8"/><circle cx="511.7" cy="1453.5" r="8.8"/><circle cx="298.5" cy="1625.9" r="8.8"/><circle cx="314.4" cy="1609.5" r="8.8"/><circle cx="363.1" cy="1650.8" r="8.8"/><circle cx="348.0" cy="1689.7" r="8.8"/><circle cx="330.8" cy="1711.4" r="8.8"/><circle cx="380.3" cy="1765.0" r="8.8"/><circle cx="395.8" cy="1759.6" r="8.8"/><circle cx="412.6" cy="1732.6" r="8.8"/><circle cx="429.0" cy="1729.4" r="8.8"/><circle cx="445.3" cy="1747.8" r="8.8"/><circle cx="462.5" cy="1800.5" r="8.8"/><circle cx="478.9" cy="1650.8" r="8.8"/><circle cx="528.8" cy="1717.9" r="8.8"/><circle cx="545.1" cy="1820.6" r="8.8"/><circle cx="560.7" cy="1818.5" r="8.8"/><circle cx="577.0" cy="1812.4" r="8.8"/><circle cx="593.4" cy="1790.3" r="8.8"/><circle cx="610.1" cy="1819.8" r="8.8"/><circle cx="626.3" cy="1792.2" r="8.8"/><circle cx="643.3" cy="1872.6" r="8.8"/><circle cx="659.7" cy="1819.8" r="8.8"/><circle cx="676.0" cy="1816.6" r="8.8"/><circle cx="692.8" cy="1809.2" r="8.8"/><circle cx="708.8" cy="1787.1" r="8.8"/><circle cx="725.5" cy="1819.8" r="8.8"/><circle cx="742.3" cy="1829.7" r="8.8"/><circle cx="807.3" cy="1822.7" r="8.8"/><circle cx="823.7" cy="1828.4" r="8.8"/><circle cx="840.9" cy="1824.7" r="8.8"/><circle cx="857.2" cy="1819.4" r="8.8"/><circle cx="873.6" cy="1820.2" r="8.8"/><circle cx="890.3" cy="1815.7" r="8.8"/><circle cx="906.7" cy="1781.8" r="8.8"/><circle cx="923.1" cy="1830.1" r="8.8"/><circle cx="940.2" cy="1791.6" r="8.8"/><circle cx="955.8" cy="1819.8" r="8.8"/><circle cx="972.1" cy="1830.5" r="8.8"/><circle cx="1004.9" cy="1872.2" r="8.8"/><circle cx="1021.3" cy="1879.1" r="8.8"/><circle cx="1038.0" cy="1862.4" r="8.8"/><circle cx="1071.6" cy="1830.1" r="8.8"/><circle cx="1087.5" cy="1830.1" r="8.8"/><circle cx="1120.2" cy="1874.2" r="8.8"/><circle cx="1137.4" cy="1835.8" r="8.8"/><circle cx="1168.9" cy="1833.7" r="8.8"/><circle cx="1201.6" cy="1816.2" r="8.8"/><circle cx="1218.8" cy="1826.8" r="8.8"/><circle cx="1235.2" cy="1823.9" r="8.8"/><circle cx="1251.9" cy="1812.5" r="8.8"/><circle cx="1268.3" cy="1823.9" r="8.8"/><circle cx="1285.1" cy="1848.9" r="8.8"/><circle cx="1317.8" cy="1829.7" r="8.8"/><circle cx="1349.7" cy="1847.6" r="8.8"/><circle cx="1382.0" cy="1874.2" r="8.8"/><circle cx="1398.0" cy="1837.4" r="8.8"/><circle cx="1432.4" cy="1877.8" r="8.8"/><circle cx="1449.2" cy="1849.6" r="8.8"/><circle cx="1481.9" cy="1865.7" r="8.8"/><circle cx="1498.2" cy="1869.0" r="8.8"/><circle cx="1514.8" cy="1849.6" r="8.8"/><circle cx="1547.1" cy="1874.1" r="8.8"/></g>
<text x="172.0" y="1287.2" font-family='"Liberation Sans", sans-serif' font-size="59.5" font-weight="bold" text-anchor="end">14</text>
<text x="172.0" y="1389.1" font-family='"Liberation Sans", sans-serif' font-size="59.5" font-weight="bold" text-anchor="end">12</text>
<text x="172.0" y="1491.0" font-family='"Liberation Sans", sans-serif' font-size="59.5" font-weight="bold" text-anchor="end">10</text>
<text x="172.0" y="1592.9" font-family='"Liberation Sans", sans-serif' font-size="59.5" font-weight="bold" text-anchor="end">8</text>
<text x="172.0" y="1694.8" font-family='"Liberation Sans", sans-serif' font-size="59.5" font-weight="bold" text-anchor="end">6</text>
<text x="172.0" y="1796.7" font-family='"Liberation Sans", sans-serif' font-size="59.5" font-weight="bold" text-anchor="end">4</text>
<text x="172.0" y="1898.6" font-family='"Liberation Sans", sans-serif' font-size="59.5" font-weight="bold" text-anchor="end">2</text>
<text x="172.0" y="2000.5" font-family='"Liberation Sans", sans-serif' font-size="59.5" font-weight="bold" text-anchor="end">0</text>
<text x="235.0" y="2088.7" font-family='"Liberation Sans", sans-serif' font-size="59.5" font-weight="bold" text-anchor="middle" textLength="136.0" lengthAdjust="spacingAndGlyphs">2009</text>
<text x="505.3" y="2088.7" font-family='"Liberation Sans", sans-serif' font-size="59.5" font-weight="bold" text-anchor="middle" textLength="136.0" lengthAdjust="spacingAndGlyphs">2010</text>
<text x="775.4" y="2088.7" font-family='"Liberation Sans", sans-serif' font-size="59.5" font-weight="bold" text-anchor="middle" textLength="136.0" lengthAdjust="spacingAndGlyphs">2012</text>
<text x="1045.6" y="2088.7" font-family='"Liberation Sans", sans-serif' font-size="59.5" font-weight="bold" text-anchor="middle" textLength="136.0" lengthAdjust="spacingAndGlyphs">2013</text>
<text x="1315.6" y="2088.7" font-family='"Liberation Sans", sans-serif' font-size="59.5" font-weight="bold" text-anchor="middle" textLength="136.0" lengthAdjust="spacingAndGlyphs">2014</text>
<text x="1585.5" y="2088.7" font-family='"Liberation Sans", sans-serif' font-size="59.5" font-weight="bold" text-anchor="middle" textLength="136.0" lengthAdjust="spacingAndGlyphs">2016</text>
<text x="70.0" y="2030.0" font-family='"Liberation Sans", sans-serif' font-size="59.5" font-weight="bold" text-anchor="start" textLength="513.1" lengthAdjust="spacingAndGlyphs" transform="rotate(-90 70.0 2030.0)">Oil productionrate</text>
<text x="70.0" y="1500.4" font-family='"Liberation Sans", sans-serif' font-size="59.5" font-weight="bold" text-anchor="start" textLength="205.2" lengthAdjust="spacingAndGlyphs" transform="rotate(-90 70.0 1500.4)">(STB/d)</text>
<text x="992.5" y="2193.0" font-family='"Liberation Sans", sans-serif' font-size="59.5" font-weight="bold" text-anchor="middle" textLength="311.0" lengthAdjust="spacingAndGlyphs">Date (Year)</text>
<text x="1450.0" y="1443.4" font-family='"Liberation Serif", serif' font-size="68" font-weight="bold" text-anchor="start">Well 2</text>
<text x="996.8" y="2349.8" font-family='"Liberation Serif", serif' font-size="100" font-weight="bold" text-anchor="middle">(b)</text></g>
<g><line x1="234" y1="2475.4" x2="1749" y2="2475.4" stroke="#d9d9d9" stroke-width="7"/>
<line x1="234" y1="2622.82" x2="1749" y2="2622.82" stroke="#d9d9d9" stroke-width="7"/>
<line x1="234" y1="2770.2400000000002" x2="1749" y2="2770.2400000000002" stroke="#d9d9d9" stroke-width="7"/>
<line x1="234" y1="2917.66" x2="1749" y2="2917.66" stroke="#d9d9d9" stroke-width="7"/>
<line x1="234" y1="3065.08" x2="1749" y2="3065.08" stroke="#d9d9d9" stroke-width="7"/>
<line x1="537.4" y1="2471.9" x2="537.4" y2="3212.5" stroke="#d9d9d9" stroke-width="7"/>
<line x1="840.6" y1="2471.9" x2="840.6" y2="3212.5" stroke="#d9d9d9" stroke-width="7"/>
<line x1="1143" y1="2471.9" x2="1143" y2="3212.5" stroke="#d9d9d9" stroke-width="7"/>
<line x1="1445.6" y1="2471.9" x2="1445.6" y2="3212.5" stroke="#d9d9d9" stroke-width="7"/>
<line x1="234" y1="2475.4" x2="234" y2="3216.0" stroke="#bfbfbf" stroke-width="7"/>
<line x1="230.5" y1="3212.5" x2="1770.7" y2="3212.5" stroke="#bfbfbf" stroke-width="7"/>
<line x1="1749.3" y1="2471.9" x2="1749.3" y2="3216.0" stroke="#bfbfbf" stroke-width="7"/>
<line x1="1749.3" y1="2475.4" x2="1770.7" y2="2475.4" stroke="#bfbfbf" stroke-width="7"/>
<line x1="1749.3" y1="2622.82" x2="1770.7" y2="2622.82" stroke="#bfbfbf" stroke-width="7"/>
<line x1="1749.3" y1="2770.2400000000002" x2="1770.7" y2="2770.2400000000002" stroke="#bfbfbf" stroke-width="7"/>
<line x1="1749.3" y1="2917.66" x2="1770.7" y2="2917.66" stroke="#bfbfbf" stroke-width="7"/>
<line x1="1749.3" y1="3065.08" x2="1770.7" y2="3065.08" stroke="#bfbfbf" stroke-width="7"/>
<line x1="1749.3" y1="3212.5" x2="1770.7" y2="3212.5" stroke="#bfbfbf" stroke-width="7"/>
<clipPath id="cp2"><rect x="233.3" y="2475.4" width="1537.4" height="737.0999999999999"/></clipPath>
<g clip-path="url(#cp2)"><g transform="scale(1.18 1)" fill="none" stroke-width="7.2" stroke-linecap="round" stroke-linejoin="round">
<path d="M200.0 2708.6 L200.1 2711.9 L200.3 2715.3 L200.4 2718.7 L200.6 2722.0 L200.7 2725.4 L200.9 2728.8 L201.0 2732.2 L201.2 2735.7 L201.4 2739.1 L201.6 2742.6 L201.7 2746.0 L201.9 2749.5 L202.1 2753.0 L202.3 2756.5 L202.5 2760.0 L202.7 2763.5 L202.9 2767.0 L203.1 2770.5 L203.3 2774.1 L203.5 2777.6 L203.7 2781.2 L203.9 2784.8 L204.2 2788.4 L204.4 2791.9 L204.7 2795.5 L204.9 2799.1 L205.2 2802.7 L205.5 2806.3 L205.8 2809.9 L206.1 2813.5 L206.4 2817.1 L206.7 2820.7 L207.0 2824.3 L207.4 2827.9 L207.8 2831.5 L208.1 2835.1 L208.5 2838.6 L209.0 2842.2 L209.4 2845.7 L209.9 2849.3 L210.4 2852.8 L211.0 2856.2 L211.6 2859.7 L212.1 2863.1 L212.8 2866.6 L213.4 2870.0 L214.0 2873.4 L214.7 2876.9 L215.4 2880.3 L216.1 2883.7 L216.7 2887.1 L217.4 2890.6 L218.2 2894.0 L218.9 2897.4 L219.7 2900.8 L220.5 2904.1 L221.5 2907.3 L222.4 2910.5 L223.5 2913.6 L224.8 2916.5 L226.1 2919.3 L227.5 2922.0 L229.0 2924.6 L230.6 2927.1 L232.3 2929.6 L234.0 2932.1 L235.7 2934.5 L237.4 2936.9 L239.2 2939.3 L241.0 2941.6 L242.8 2944.0 L244.7 2946.4 L246.5 2948.7 L248.5 2950.9 L250.5 2953.1 L252.7 2955.1 L254.9 2957.0 L257.4 2958.7 L259.9 2960.4 L262.5 2961.9 L265.2 2963.4 L267.9 2964.8 L270.7 2966.1 L273.6 2967.4 L276.5 2968.6 L279.5 2969.8 L282.5 2971.0 L285.5 2972.1 L288.6 2973.2 L291.7 2974.3 L294.8 2975.4 L297.9 2976.4 L301.1 2977.4 L304.4 2978.4 L307.7 2979.3 L311.0 2980.2 L314.4 2981.0 L317.8 2981.8 L321.3 2982.5 L324.9 2983.2 L328.5 2983.8 L332.1 2984.4 L335.7 2985.0 L339.3 2985.6 L343.0 2986.2 L346.7 2986.8 L350.3 2987.4 L354.0 2988.0 L357.8 2988.6 L361.5 2989.2 L365.2 2989.7 L369.0 2990.3 L372.7 2990.9 L376.4 2991.5 L380.2 2992.1 L383.9 2992.7 L387.7 2993.3 L391.5 2993.9 L395.3 2994.5 L399.2 2995.0 L403.0 2995.6 L406.9 2996.1 L410.9 2996.5 L414.9 2996.9 L418.9 2997.3 L423.0 2997.7 L427.1 2998.0 L431.2 2998.3 L435.3 2998.6 L439.5 2998.9 L443.6 2999.2 L447.8 2999.5 L452.0 2999.8 L456.2 3000.1 L460.3 3000.5 L464.5 3000.8 L468.6 3001.2 L472.8 3001.6 L477.0 3002.0 L481.1 3002.3 L485.3 3002.7 L489.4 3003.2 L493.6 3003.6 L497.8 3004.0 L502.0 3004.4 L506.2 3004.8 L510.4 3005.3 L514.6 3005.7 L518.8 3006.1 L523.0 3006.6 L527.2 3007.0 L531.5 3007.4 L535.7 3007.8 L540.0 3008.3 L544.2 3008.7 L548.5 3009.1 L552.8 3009.5 L557.1 3009.9 L561.5 3010.3 L565.8 3010.7 L570.2 3011.1 L574.6 3011.4 L579.0 3011.8 L583.4 3012.1 L587.8 3012.4 L592.3 3012.7 L596.8 3013.1 L601.2 3013.4 L605.7 3013.7 L610.2 3014.0 L614.8 3014.3 L619.3 3014.6 L623.8 3014.8 L628.4 3015.1 L632.9 3015.4 L637.5 3015.7 L642.1 3016.0 L646.7 3016.2 L651.3 3016.5 L655.9 3016.8 L660.6 3017.0 L665.2 3017.3 L669.9 3017.5 L674.5 3017.8 L679.2 3018.1 L683.9 3018.3 L688.6 3018.6 L693.3 3018.8 L698.0 3019.1 L702.7 3019.3 L707.4 3019.5 L712.2 3019.8 L716.9 3020.0 L721.6 3020.3 L726.4 3020.5 L731.2 3020.8 L736.0 3021.0 L740.8 3021.3 L745.6 3021.5 L750.4 3021.7 L755.2 3022.0 L760.0 3022.2 L764.8 3022.4 L769.7 3022.7 L774.6 3022.9 L779.4 3023.1 L784.3 3023.3 L789.2 3023.6 L794.1 3023.8 L799.0 3024.0 L803.9 3024.2 L808.8 3024.4 L813.8 3024.6 L818.7 3024.8 L823.7 3025.0 L828.6 3025.3 L833.6 3025.5 L838.6 3025.7 L843.6 3025.9 L848.6 3026.0 L853.6 3026.2 L858.6 3026.4 L863.7 3026.6 L868.7 3026.8 L873.8 3027.0 L878.8 3027.2 L883.9 3027.4 L889.0 3027.5 L894.1 3027.7 L899.2 3027.9 L904.3 3028.1 L909.4 3028.3 L914.5 3028.4 L919.6 3028.6 L924.8 3028.8 L929.9 3028.9 L935.1 3029.1 L940.2 3029.3 L945.4 3029.5 L950.6 3029.6 L955.8 3029.8 L961.0 3030.0 L966.2 3030.1 L971.4 3030.3 L976.6 3030.5 L981.9 3030.6 L987.1 3030.8 L992.3 3031.0 L997.6 3031.1 L1002.9 3031.3 L1008.1 3031.5 L1013.4 3031.6 L1018.7 3031.8 L1024.0 3032.0 L1029.3 3032.1 L1034.6 3032.3 L1039.9 3032.4 L1045.3 3032.6 L1050.6 3032.7 L1055.9 3032.9 L1061.3 3033.1 L1066.6 3033.2 L1072.0 3033.4 L1077.4 3033.5 L1082.8 3033.7 L1088.2 3033.9 L1093.5 3034.0 L1099.0 3034.2 L1104.4 3034.3 L1109.8 3034.5 L1115.2 3034.6 L1120.6 3034.8 L1126.1 3035.0 L1131.5 3035.1 L1137.0 3035.3 L1142.4 3035.4 L1147.9 3035.6 L1153.4 3035.8 L1158.9 3035.9 L1164.3 3036.1 L1169.8 3036.2 L1175.4 3036.4 L1180.9 3036.5 L1186.4 3036.7 L1191.9 3036.8 L1197.5 3037.0 L1203.0 3037.1 L1208.6 3037.3 L1214.1 3037.4 L1219.7 3037.6 L1225.3 3037.7 L1230.9 3037.9 L1236.5 3038.0 L1242.1 3038.1 L1247.7 3038.3 L1253.3 3038.4 L1258.9 3038.6 L1264.6 3038.7 L1270.2 3038.8 L1275.9 3039.0 L1281.5 3039.1 L1287.2 3039.3 L1292.9 3039.4 L1298.5 3039.5 L1304.2 3039.7 L1309.9 3039.8 L1315.6 3039.9 L1321.3 3040.1 L1327.1 3040.2 L1332.8 3040.3 L1338.5 3040.5 L1344.3 3040.6 L1350.0 3040.7 L1355.8 3040.9 L1361.5 3041.0 L1367.3 3041.1 L1373.1 3041.2 L1378.9 3041.4 L1384.6 3041.5 L1390.4 3041.6 L1396.2 3041.8 L1402.1 3041.9 L1407.9 3042.0 L1413.7 3042.1 L1419.5 3042.3 L1425.4 3042.4 L1431.2 3042.5 L1437.1 3042.7 L1442.9 3042.8 L1448.8 3042.9 L1454.7 3043.0 L1460.6 3043.2 L1466.5 3043.3 L1472.4 3043.4 L1476.3 3043.5" stroke="#00b050"/>
<path d="M200.4 2704.5 L200.6 2707.9 L200.7 2711.2 L200.9 2714.6 L201.0 2717.9 L201.2 2721.3 L201.4 2724.7 L201.5 2728.1 L201.7 2731.5 L201.9 2734.9 L202.1 2738.3 L202.3 2741.7 L202.5 2745.1 L202.7 2748.6 L202.9 2752.0 L203.1 2755.5 L203.4 2758.9 L203.6 2762.4 L203.8 2765.9 L204.1 2769.3 L204.3 2772.8 L204.6 2776.3 L204.9 2779.8 L205.2 2783.3 L205.5 2786.8 L205.8 2790.3 L206.1 2793.8 L206.5 2797.3 L206.8 2800.8 L207.1 2804.3 L207.5 2807.9 L207.8 2811.4 L208.2 2814.9 L208.6 2818.5 L209.0 2822.0 L209.4 2825.5 L209.8 2829.1 L210.1 2832.7 L210.6 2836.3 L211.0 2839.8 L211.4 2843.4 L211.9 2846.9 L212.4 2850.4 L213.0 2853.9 L213.5 2857.3 L214.2 2860.7 L214.8 2864.1 L215.5 2867.5 L216.3 2870.8 L217.0 2874.1 L217.8 2877.4 L218.6 2880.7 L219.4 2884.0 L220.2 2887.3 L221.0 2890.6 L221.9 2893.9 L222.8 2897.1 L223.7 2900.3 L224.7 2903.5 L225.8 2906.5 L226.9 2909.6 L228.2 2912.5 L229.5 2915.2 L231.0 2917.9 L232.5 2920.5 L234.1 2923.0 L235.9 2925.4 L237.7 2927.7 L239.5 2930.0 L241.4 2932.2 L243.4 2934.4 L245.4 2936.5 L247.4 2938.6 L249.5 2940.7 L251.6 2942.7 L253.8 2944.7 L256.0 2946.5 L258.4 2948.4 L260.8 2950.1 L263.3 2951.7 L265.9 2953.2 L268.6 2954.7 L271.4 2956.1 L274.2 2957.4 L277.0 2958.7 L280.0 2959.8 L283.0 2961.0 L286.1 2962.0 L289.2 2963.0 L292.4 2963.9 L295.7 2964.8 L298.9 2965.7 L302.2 2966.6 L305.5 2967.4 L308.9 2968.3 L312.2 2969.1 L315.6 2970.0 L318.9 2970.8 L322.4 2971.6 L325.8 2972.3 L329.3 2973.1 L332.8 2973.8 L336.4 2974.4 L340.0 2975.1 L343.6 2975.7 L347.2 2976.4 L350.8 2977.0 L354.5 2977.6 L358.1 2978.2 L361.8 2978.8 L365.6 2979.4 L369.3 2979.9 L373.0 2980.5 L376.8 2981.1 L380.5 2981.7 L384.3 2982.2 L388.1 2982.8 L391.9 2983.4 L395.7 2983.9 L399.5 2984.4 L403.4 2985.0 L407.3 2985.5 L411.2 2985.9 L415.1 2986.4 L419.1 2986.8 L423.1 2987.2 L427.1 2987.6 L431.2 2988.0 L435.3 2988.4 L439.3 2988.7 L443.4 2989.1 L447.6 2989.4 L451.7 2989.7 L455.8 2990.1 L459.9 2990.5 L464.1 2990.8 L468.2 2991.2 L472.3 2991.6 L476.5 2992.0 L480.6 2992.4 L484.7 2992.8 L488.9 2993.2 L493.0 2993.6 L497.2 2994.0 L501.4 2994.4 L505.5 2994.8 L509.7 2995.3 L513.9 2995.7 L518.1 2996.1 L522.3 2996.5 L526.5 2996.9 L530.8 2997.4 L535.0 2997.8 L539.3 2998.2 L543.5 2998.6 L547.8 2999.0 L552.1 2999.4 L556.4 2999.8 L560.7 3000.2 L565.0 3000.6 L569.4 3001.0 L573.7 3001.4 L578.1 3001.7 L582.5 3002.1 L586.9 3002.4 L591.3 3002.8 L595.7 3003.1 L600.2 3003.5 L604.6 3003.8 L609.1 3004.1 L613.6 3004.4 L618.1 3004.7 L622.6 3005.1 L627.1 3005.4 L631.6 3005.7 L636.1 3006.0 L640.7 3006.3 L645.2 3006.6 L649.8 3006.9 L654.4 3007.2 L659.0 3007.5 L663.6 3007.7 L668.2 3008.0 L672.8 3008.3 L677.4 3008.6 L682.1 3008.9 L686.7 3009.1 L691.4 3009.4 L696.1 3009.7 L700.7 3010.0 L705.4 3010.2 L710.1 3010.5 L714.8 3010.8 L719.6 3011.0 L724.3 3011.3 L729.0 3011.6 L733.8 3011.8 L738.5 3012.1 L743.3 3012.4 L748.1 3012.6 L752.9 3012.9 L757.7 3013.1 L762.5 3013.4 L767.3 3013.6 L772.1 3013.9 L776.9 3014.1 L781.8 3014.3 L786.6 3014.6 L791.5 3014.8 L796.4 3015.1 L801.3 3015.3 L806.2 3015.5 L811.1 3015.8 L816.0 3016.0 L820.9 3016.2 L825.8 3016.5 L830.7 3016.7 L835.7 3016.9 L840.6 3017.2 L845.6 3017.4 L850.6 3017.6 L855.5 3017.8 L860.5 3018.1 L865.5 3018.3 L870.5 3018.5 L875.6 3018.7 L880.6 3019.0 L885.6 3019.2 L890.6 3019.4 L895.7 3019.6 L900.8 3019.8 L905.8 3020.0 L910.9 3020.2 L916.0 3020.4 L921.1 3020.7 L926.2 3020.9 L931.3 3021.1 L936.4 3021.3 L941.6 3021.5 L946.7 3021.7 L951.9 3021.9 L957.0 3022.1 L962.2 3022.3 L967.4 3022.5 L972.5 3022.7 L977.7 3022.8 L982.9 3023.0 L988.1 3023.2 L993.4 3023.4 L998.6 3023.6 L1003.8 3023.8 L1009.1 3024.0 L1014.3 3024.2 L1019.6 3024.3 L1024.9 3024.5 L1030.1 3024.7 L1035.4 3024.9 L1040.7 3025.1 L1046.0 3025.2 L1051.3 3025.4 L1056.7 3025.6 L1062.0 3025.8 L1067.3 3025.9 L1072.7 3026.1 L1078.0 3026.3 L1083.4 3026.5 L1088.7 3026.6 L1094.1 3026.8 L1099.5 3027.0 L1104.9 3027.2 L1110.3 3027.3 L1115.7 3027.5 L1121.1 3027.7 L1126.5 3027.9 L1131.9 3028.0 L1137.4 3028.2 L1142.8 3028.4 L1148.2 3028.6 L1153.7 3028.7 L1159.2 3028.9 L1164.6 3029.1 L1170.1 3029.3 L1175.6 3029.4 L1181.1 3029.6 L1186.6 3029.7 L1192.1 3029.9 L1197.7 3030.1 L1203.2 3030.2 L1208.7 3030.4 L1214.3 3030.5 L1219.9 3030.7 L1225.4 3030.8 L1231.0 3030.9 L1236.6 3031.1 L1242.2 3031.2 L1247.8 3031.4 L1253.4 3031.5 L1259.1 3031.6 L1264.7 3031.8 L1270.4 3031.9 L1276.0 3032.0 L1281.7 3032.1 L1287.3 3032.3 L1293.0 3032.4 L1298.7 3032.5 L1304.4 3032.7 L1310.1 3032.8 L1315.8 3032.9 L1321.5 3033.0 L1327.2 3033.1 L1332.9 3033.3 L1338.7 3033.4 L1344.4 3033.5 L1350.2 3033.6 L1355.9 3033.7 L1361.7 3033.9 L1367.5 3034.0 L1373.2 3034.1 L1379.0 3034.2 L1384.8 3034.3 L1390.6 3034.4 L1396.4 3034.5 L1402.3 3034.7 L1408.1 3034.8 L1413.9 3034.9 L1419.8 3035.0 L1425.6 3035.1 L1431.5 3035.2 L1437.3 3035.3 L1443.2 3035.5 L1449.1 3035.6 L1454.9 3035.7 L1460.8 3035.8 L1466.7 3035.9 L1472.6 3036.0 L1476.3 3036.1" stroke="#1f9bd8"/>
<path d="M200.4 2701.1 L200.6 2704.4 L200.7 2707.7 L200.9 2711.1 L201.0 2714.4 L201.2 2717.8 L201.3 2721.1 L201.5 2724.5 L201.7 2727.9 L201.9 2731.3 L202.0 2734.7 L202.2 2738.1 L202.4 2741.5 L202.7 2744.9 L202.9 2748.3 L203.1 2751.8 L203.3 2755.2 L203.6 2758.7 L203.8 2762.1 L204.1 2765.6 L204.3 2769.1 L204.6 2772.6 L204.9 2776.0 L205.1 2779.5 L205.5 2783.0 L205.8 2786.5 L206.1 2789.9 L206.4 2793.4 L206.8 2796.9 L207.1 2800.4 L207.5 2803.9 L207.9 2807.4 L208.2 2810.9 L208.6 2814.4 L209.0 2818.0 L209.4 2821.5 L209.8 2825.0 L210.2 2828.6 L210.6 2832.2 L211.0 2835.7 L211.4 2839.3 L211.9 2842.9 L212.3 2846.4 L212.8 2849.9 L213.4 2853.4 L214.0 2856.8 L214.6 2860.2 L215.3 2863.6 L216.0 2866.9 L216.8 2870.2 L217.5 2873.5 L218.3 2876.8 L219.2 2880.1 L220.0 2883.3 L220.8 2886.6 L221.7 2889.8 L222.6 2893.1 L223.5 2896.3 L224.4 2899.5 L225.5 2902.6 L226.5 2905.7 L227.7 2908.7 L228.9 2911.6 L230.3 2914.3 L231.7 2917.0 L233.3 2919.6 L234.9 2922.1 L236.7 2924.4 L238.5 2926.7 L240.4 2929.0 L242.3 2931.2 L244.3 2933.3 L246.3 2935.4 L248.4 2937.4 L250.5 2939.4 L252.7 2941.4 L255.0 2943.3 L257.3 2945.1 L259.7 2946.9 L262.1 2948.5 L264.7 2950.1 L267.3 2951.6 L270.0 2953.1 L272.7 2954.4 L275.6 2955.8 L278.4 2957.0 L281.4 2958.2 L284.4 2959.3 L287.6 2960.3 L290.7 2961.2 L294.0 2962.1 L297.2 2963.0 L300.6 2963.8 L303.9 2964.6 L307.2 2965.5 L310.6 2966.3 L313.9 2967.1 L317.3 2967.9 L320.7 2968.7 L324.1 2969.5 L327.6 2970.3 L331.1 2971.0 L334.6 2971.7 L338.1 2972.4 L341.7 2973.0 L345.3 2973.7 L348.9 2974.3 L352.6 2975.0 L356.2 2975.6 L359.9 2976.2 L363.6 2976.8 L367.3 2977.3 L371.0 2977.9 L374.8 2978.5 L378.5 2979.0 L382.3 2979.6 L386.1 2980.2 L389.8 2980.7 L393.7 2981.3 L397.5 2981.8 L401.3 2982.3 L405.2 2982.8 L409.1 2983.3 L413.0 2983.8 L417.0 2984.3 L420.9 2984.7 L424.9 2985.1 L429.0 2985.5 L433.0 2985.8 L437.1 2986.2 L441.2 2986.6 L445.2 2986.9 L449.3 2987.3 L453.5 2987.6 L457.6 2988.0 L461.7 2988.4 L465.8 2988.7 L469.9 2989.1 L474.1 2989.5 L478.2 2989.9 L482.3 2990.3 L486.5 2990.7 L490.6 2991.1 L494.8 2991.5 L498.9 2992.0 L503.1 2992.4 L507.3 2992.8 L511.5 2993.2 L515.6 2993.6 L519.8 2994.1 L524.1 2994.5 L528.3 2994.9 L532.5 2995.3 L536.7 2995.7 L541.0 2996.2 L545.3 2996.6 L549.5 2997.0 L553.8 2997.4 L558.1 2997.8 L562.4 2998.2 L566.8 2998.6 L571.1 2998.9 L575.5 2999.3 L579.8 2999.7 L584.2 3000.0 L588.6 3000.4 L593.0 3000.7 L597.5 3001.1 L601.9 3001.4 L606.4 3001.7 L610.8 3002.1 L615.3 3002.4 L619.8 3002.7 L624.3 3003.0 L628.8 3003.3 L633.3 3003.6 L637.9 3003.9 L642.4 3004.3 L647.0 3004.6 L651.5 3004.9 L656.1 3005.2 L660.7 3005.4 L665.3 3005.7 L669.9 3006.0 L674.5 3006.3 L679.1 3006.6 L683.8 3006.9 L688.4 3007.2 L693.1 3007.5 L697.7 3007.7 L702.4 3008.0 L707.1 3008.3 L711.8 3008.6 L716.5 3008.8 L721.2 3009.1 L725.9 3009.4 L730.7 3009.6 L735.4 3009.9 L740.2 3010.2 L744.9 3010.4 L749.7 3010.7 L754.5 3010.9 L759.3 3011.2 L764.1 3011.5 L768.9 3011.7 L773.7 3012.0 L778.6 3012.2 L783.4 3012.4 L788.3 3012.7 L793.1 3012.9 L798.0 3013.2 L802.9 3013.4 L807.7 3013.7 L812.6 3013.9 L817.5 3014.1 L822.5 3014.4 L827.4 3014.6 L832.3 3014.9 L837.2 3015.1 L842.2 3015.3 L847.1 3015.6 L852.1 3015.8 L857.1 3016.0 L862.1 3016.3 L867.1 3016.5 L872.1 3016.7 L877.1 3016.9 L882.1 3017.2 L887.1 3017.4 L892.2 3017.6 L897.2 3017.8 L902.2 3018.1 L907.3 3018.3 L912.4 3018.5 L917.5 3018.7 L922.6 3018.9 L927.7 3019.1 L932.8 3019.4 L937.9 3019.6 L943.0 3019.8 L948.1 3020.0 L953.3 3020.2 L958.4 3020.4 L963.6 3020.6 L968.8 3020.8 L974.0 3021.0 L979.1 3021.2 L984.3 3021.4 L989.5 3021.6 L994.8 3021.8 L1000.0 3022.0 L1005.2 3022.1 L1010.5 3022.3 L1015.7 3022.5 L1021.0 3022.7 L1026.2 3022.9 L1031.5 3023.1 L1036.8 3023.3 L1042.1 3023.4 L1047.4 3023.6 L1052.7 3023.8 L1058.0 3024.0 L1063.3 3024.2 L1068.7 3024.4 L1074.0 3024.5 L1079.4 3024.7 L1084.7 3024.9 L1090.1 3025.1 L1095.4 3025.2 L1100.8 3025.4 L1106.2 3025.6 L1111.6 3025.8 L1117.0 3026.0 L1122.4 3026.1 L1127.8 3026.3 L1133.2 3026.5 L1138.7 3026.7 L1144.1 3026.9 L1149.5 3027.0 L1155.0 3027.2 L1160.5 3027.4 L1165.9 3027.6 L1171.4 3027.7 L1176.9 3027.9 L1182.4 3028.1 L1187.9 3028.2 L1193.4 3028.4 L1198.9 3028.6 L1204.5 3028.7 L1210.0 3028.9 L1215.6 3029.0 L1221.1 3029.2 L1226.7 3029.3 L1232.3 3029.4 L1237.9 3029.6 L1243.5 3029.7 L1249.1 3029.9 L1254.7 3030.0 L1260.4 3030.1 L1266.0 3030.2 L1271.6 3030.4 L1277.3 3030.5 L1282.9 3030.6 L1288.6 3030.8 L1294.3 3030.9 L1300.0 3031.0 L1305.7 3031.1 L1311.4 3031.2 L1317.1 3031.4 L1322.8 3031.5 L1328.5 3031.6 L1334.2 3031.7 L1340.0 3031.8 L1345.7 3032.0 L1351.5 3032.1 L1357.2 3032.2 L1363.0 3032.3 L1368.8 3032.4 L1374.6 3032.5 L1380.4 3032.6 L1386.2 3032.8 L1392.0 3032.9 L1397.8 3033.0 L1403.6 3033.1 L1409.4 3033.2 L1415.3 3033.3 L1421.1 3033.4 L1427.0 3033.5 L1432.8 3033.6 L1438.7 3033.7 L1444.5 3033.9 L1450.4 3034.0 L1456.3 3034.1 L1462.2 3034.2 L1468.1 3034.3 L1474.0 3034.4 L1476.3 3034.4" stroke="#ff0000"/>
<path d="M200.2 2694.4 L200.3 2697.7 L200.5 2701.0 L200.6 2704.3 L200.8 2707.7 L200.9 2711.0 L201.1 2714.3 L201.2 2717.7 L201.4 2721.1 L201.5 2724.4 L201.7 2727.8 L201.9 2731.2 L202.1 2734.6 L202.3 2738.0 L202.5 2741.4 L202.7 2744.9 L202.9 2748.3 L203.2 2751.7 L203.4 2755.2 L203.6 2758.6 L203.9 2762.1 L204.1 2765.5 L204.4 2769.0 L204.7 2772.5 L204.9 2775.9 L205.2 2779.4 L205.5 2782.9 L205.9 2786.4 L206.2 2789.8 L206.6 2793.3 L206.9 2796.8 L207.3 2800.3 L207.6 2803.8 L208.0 2807.3 L208.4 2810.8 L208.8 2814.3 L209.2 2817.8 L209.6 2821.3 L210.0 2824.9 L210.3 2828.4 L210.7 2832.0 L211.1 2835.6 L211.6 2839.1 L212.0 2842.7 L212.5 2846.2 L213.0 2849.7 L213.5 2853.2 L214.1 2856.6 L214.8 2860.0 L215.5 2863.4 L216.2 2866.7 L216.9 2870.0 L217.7 2873.3 L218.5 2876.6 L219.3 2879.8 L220.2 2883.1 L221.0 2886.3 L221.9 2889.6 L222.8 2892.8 L223.7 2896.0 L224.7 2899.2 L225.7 2902.3 L226.8 2905.4 L227.9 2908.4 L229.2 2911.3 L230.5 2914.0 L232.0 2916.7 L233.5 2919.3 L235.2 2921.8 L236.9 2924.1 L238.8 2926.4 L240.6 2928.6 L242.6 2930.8 L244.6 2932.9 L246.6 2935.0 L248.7 2937.0 L250.9 2939.0 L253.1 2940.9 L255.4 2942.8 L257.7 2944.6 L260.1 2946.4 L262.6 2948.0 L265.1 2949.6 L267.7 2951.1 L270.4 2952.5 L273.2 2953.9 L276.0 2955.2 L278.9 2956.4 L281.9 2957.6 L284.9 2958.7 L288.0 2959.7 L291.2 2960.6 L294.5 2961.5 L297.8 2962.4 L301.1 2963.2 L304.4 2964.0 L307.8 2964.8 L311.2 2965.6 L314.5 2966.4 L317.9 2967.2 L321.3 2968.0 L324.7 2968.8 L328.2 2969.6 L331.7 2970.3 L335.2 2971.0 L338.7 2971.7 L342.3 2972.3 L345.9 2973.0 L349.5 2973.6 L353.1 2974.3 L356.8 2974.9 L360.5 2975.5 L364.2 2976.1 L367.9 2976.6 L371.6 2977.2 L375.3 2977.8 L379.1 2978.4 L382.9 2978.9 L386.6 2979.5 L390.4 2980.0 L394.2 2980.6 L398.1 2981.1 L401.9 2981.6 L405.8 2982.1 L409.7 2982.6 L413.6 2983.1 L417.6 2983.5 L421.5 2984.0 L425.5 2984.4 L429.6 2984.8 L433.6 2985.1 L437.7 2985.5 L441.8 2985.9 L445.8 2986.2 L449.9 2986.6 L454.0 2986.9 L458.2 2987.3 L462.3 2987.7 L466.4 2988.1 L470.5 2988.4 L474.6 2988.8 L478.8 2989.2 L482.9 2989.6 L487.0 2990.0 L491.2 2990.5 L495.3 2990.9 L499.5 2991.3 L503.7 2991.7 L507.8 2992.1 L512.0 2992.5 L516.2 2993.0 L520.4 2993.4 L524.6 2993.8 L528.9 2994.2 L533.1 2994.6 L537.3 2995.1 L541.6 2995.5 L545.8 2995.9 L550.1 2996.3 L554.4 2996.7 L558.7 2997.1 L563.0 2997.5 L567.3 2997.9 L571.7 2998.2 L576.1 2998.6 L580.4 2999.0 L584.8 2999.3 L589.2 2999.7 L593.6 3000.0 L598.1 3000.4 L602.5 3000.7 L607.0 3001.0 L611.4 3001.4 L615.9 3001.7 L620.4 3002.0 L624.9 3002.3 L629.4 3002.6 L633.9 3003.0 L638.4 3003.3 L643.0 3003.6 L647.5 3003.9 L652.1 3004.2 L656.7 3004.5 L661.2 3004.8 L665.8 3005.1 L670.4 3005.4 L675.1 3005.7 L679.7 3005.9 L684.3 3006.2 L689.0 3006.5 L693.6 3006.8 L698.3 3007.1 L703.0 3007.4 L707.7 3007.6 L712.3 3007.9 L717.0 3008.2 L721.8 3008.5 L726.5 3008.7 L731.2 3009.0 L736.0 3009.3 L740.7 3009.5 L745.5 3009.8 L750.3 3010.0 L755.0 3010.3 L759.8 3010.6 L764.6 3010.8 L769.4 3011.1 L774.3 3011.3 L779.1 3011.6 L783.9 3011.8 L788.8 3012.1 L793.6 3012.3 L798.5 3012.6 L803.4 3012.8 L808.3 3013.0 L813.2 3013.3 L818.1 3013.5 L823.0 3013.8 L827.9 3014.0 L832.8 3014.2 L837.8 3014.5 L842.7 3014.7 L847.7 3014.9 L852.6 3015.2 L857.6 3015.4 L862.6 3015.6 L867.6 3015.9 L872.6 3016.1 L877.6 3016.3 L882.6 3016.6 L887.6 3016.8 L892.7 3017.0 L897.7 3017.3 L902.7 3017.5 L907.8 3017.7 L912.9 3017.9 L918.0 3018.1 L923.0 3018.4 L928.1 3018.6 L933.2 3018.8 L938.4 3019.0 L943.5 3019.2 L948.6 3019.4 L953.8 3019.6 L958.9 3019.8 L964.1 3020.0 L969.2 3020.2 L974.4 3020.4 L979.6 3020.6 L984.8 3020.8 L990.0 3021.0 L995.2 3021.2 L1000.4 3021.4 L1005.7 3021.6 L1010.9 3021.8 L1016.2 3022.0 L1021.4 3022.2 L1026.7 3022.4 L1032.0 3022.5 L1037.3 3022.7 L1042.5 3022.9 L1047.8 3023.1 L1053.1 3023.3 L1058.5 3023.5 L1063.8 3023.6 L1069.1 3023.8 L1074.5 3024.0 L1079.8 3024.2 L1085.2 3024.4 L1090.5 3024.5 L1095.9 3024.7 L1101.3 3024.9 L1106.6 3025.1 L1112.0 3025.3 L1117.4 3025.4 L1122.8 3025.6 L1128.2 3025.8 L1133.7 3026.0 L1139.1 3026.2 L1144.5 3026.4 L1150.0 3026.5 L1155.4 3026.7 L1160.9 3026.9 L1166.4 3027.1 L1171.8 3027.2 L1177.3 3027.4 L1182.8 3027.6 L1188.3 3027.7 L1193.8 3027.9 L1199.4 3028.1 L1204.9 3028.2 L1210.4 3028.4 L1216.0 3028.5 L1221.6 3028.7 L1227.1 3028.8 L1232.7 3028.9 L1238.3 3029.1 L1243.9 3029.2 L1249.5 3029.3 L1255.2 3029.5 L1260.8 3029.6 L1266.4 3029.7 L1272.1 3029.9 L1277.7 3030.0 L1283.4 3030.1 L1289.0 3030.2 L1294.7 3030.4 L1300.4 3030.5 L1306.1 3030.6 L1311.8 3030.7 L1317.5 3030.9 L1323.2 3031.0 L1328.9 3031.1 L1334.7 3031.2 L1340.4 3031.3 L1346.2 3031.4 L1351.9 3031.6 L1357.7 3031.7 L1363.5 3031.8 L1369.2 3031.9 L1375.0 3032.0 L1380.8 3032.1 L1386.6 3032.2 L1392.4 3032.3 L1398.2 3032.4 L1404.0 3032.6 L1409.9 3032.7 L1415.7 3032.8 L1421.6 3032.9 L1427.4 3033.0 L1433.3 3033.1 L1439.1 3033.2 L1445.0 3033.3 L1450.9 3033.4 L1456.8 3033.5 L1462.6 3033.6 L1468.5 3033.8 L1474.4 3033.9 L1476.3 3033.9" stroke="#ffc000"/>
<path d="M196.9 2460.0 L196.9 2460.2 L196.9 2460.6 L196.9 2461.2 L196.9 2461.8 L196.9 2462.5 L196.9 2463.3 L196.9 2464.2 L196.9 2465.1 L196.9 2466.1 L196.9 2467.1 L196.9 2468.2 L196.9 2469.3 L196.9 2470.5 L196.9 2471.8 L196.9 2473.0 L196.9 2474.4 L196.9 2475.7 L196.9 2477.1 L196.9 2478.6 L196.9 2480.1 L196.9 2481.6 L196.9 2483.1 L196.9 2484.7 L196.9 2486.4 L196.9 2488.0 L196.9 2489.7 L196.9 2491.5 L196.9 2493.2 L196.9 2495.0 L197.0 2496.8 L197.0 2498.7 L197.0 2500.6 L197.0 2502.5 L197.0 2504.4 L197.0 2506.4 L197.0 2508.4 L197.0 2510.4 L197.0 2512.4 L197.1 2514.5 L197.1 2516.6 L197.1 2518.7 L197.1 2520.9 L197.1 2523.1 L197.1 2525.3 L197.1 2527.5 L197.2 2529.8 L197.2 2532.0 L197.2 2534.3 L197.2 2536.7 L197.2 2539.0 L197.3 2541.4 L197.3 2543.8 L197.3 2546.2 L197.3 2548.6 L197.3 2551.1 L197.4 2553.6 L197.4 2556.1 L197.4 2558.6 L197.4 2561.2 L197.5 2563.7 L197.5 2566.3 L197.5 2568.9 L197.6 2571.6 L197.6 2574.2 L197.6 2576.9 L197.6 2579.6 L197.7 2582.3 L197.7 2585.0 L197.7 2587.8 L197.8 2590.6 L197.8 2593.4 L197.8 2596.2 L197.9 2599.0 L197.9 2601.8 L197.9 2604.7 L198.0 2607.6 L198.0 2610.5 L198.1 2613.4 L198.2 2616.3 L198.2 2619.2 L198.3 2622.2 L198.3 2625.1 L198.4 2628.1 L198.5 2631.1 L198.6 2634.1 L198.7 2637.1 L198.7 2640.2 L198.8 2643.2 L198.9 2646.3 L199.0 2649.4 L199.1 2652.5 L199.2 2655.6 L199.3 2658.7 L199.4 2661.9 L199.5 2665.0 L199.6 2668.2 L199.7 2671.4 L199.8 2674.6 L199.9 2677.8 L200.0 2681.0 L200.1 2684.3 L200.3 2687.5 L200.4 2690.8 L200.5 2694.1 L200.7 2697.3 L200.8 2700.6 L200.9 2704.0 L201.1 2707.3 L201.2 2710.6 L201.4 2713.9 L201.6 2717.3 L201.7 2720.7 L201.9 2724.0 L202.1 2727.4 L202.3 2730.8 L202.5 2734.2 L202.7 2737.6 L202.9 2741.0 L203.1 2744.4 L203.4 2747.8 L203.6 2751.2 L203.9 2754.6 L204.1 2758.0 L204.4 2761.5 L204.7 2764.9 L204.9 2768.3 L205.2 2771.8 L205.6 2775.2 L205.9 2778.7 L206.2 2782.1 L206.6 2785.5 L207.0 2788.9 L207.4 2792.3 L207.7 2795.8 L208.1 2799.2 L208.5 2802.7 L208.9 2806.2 L209.4 2809.6 L209.8 2813.1 L210.2 2816.6 L210.6 2820.0 L211.1 2823.6 L211.5 2827.1 L211.9 2830.7 L212.3 2834.3 L212.7 2837.8 L213.1 2841.4 L213.6 2844.9 L214.1 2848.5 L214.6 2851.9 L215.2 2855.3 L215.9 2858.7 L216.6 2862.0 L217.4 2865.3 L218.2 2868.6 L219.0 2871.8 L219.9 2875.0 L220.7 2878.2 L221.7 2881.4 L222.6 2884.5 L223.5 2887.7 L224.5 2890.9 L225.4 2894.0 L226.5 2897.1 L227.5 2900.2 L228.6 2903.2 L229.8 2906.1 L231.1 2909.0 L232.4 2911.8 L233.9 2914.5 L235.5 2917.0 L237.1 2919.4 L238.9 2921.8 L240.8 2924.0 L242.8 2926.1 L244.8 2928.2 L246.9 2930.2 L249.0 2932.2 L251.3 2934.0 L253.6 2935.9 L255.9 2937.6 L258.3 2939.3 L260.8 2941.0 L263.3 2942.6 L265.8 2944.2 L268.4 2945.7 L271.1 2947.1 L273.8 2948.5 L276.6 2949.9 L279.5 2951.1 L282.4 2952.3 L285.4 2953.4 L288.5 2954.5 L291.7 2955.4 L295.0 2956.2 L298.3 2957.0 L301.7 2957.7 L305.1 2958.4 L308.6 2959.1 L312.0 2959.8 L315.4 2960.5 L318.9 2961.3 L322.3 2962.1 L325.7 2962.8 L329.2 2963.6 L332.6 2964.3 L336.1 2965.1 L339.6 2965.8 L343.1 2966.5 L346.7 2967.2 L350.3 2967.8 L353.9 2968.5 L357.5 2969.1 L361.1 2969.8 L364.8 2970.4 L368.5 2971.0 L372.2 2971.5 L375.9 2972.1 L379.7 2972.7 L383.4 2973.2 L387.2 2973.8 L391.0 2974.3 L394.8 2974.9 L398.7 2975.4 L402.5 2975.9 L406.4 2976.4 L410.3 2976.8 L414.2 2977.3 L418.1 2977.7 L422.1 2978.2 L426.1 2978.6 L430.1 2979.0 L434.1 2979.4 L438.2 2979.8 L442.2 2980.1 L446.3 2980.5 L450.4 2980.9 L454.4 2981.3 L458.5 2981.7 L462.6 2982.1 L466.7 2982.5 L470.8 2982.9 L474.9 2983.3 L479.0 2983.7 L483.1 2984.1 L487.2 2984.5 L491.4 2984.9 L495.5 2985.4 L499.7 2985.8 L503.8 2986.2 L508.0 2986.6 L512.2 2987.0 L516.3 2987.5 L520.5 2987.9 L524.7 2988.3 L528.9 2988.7 L533.2 2989.1 L537.4 2989.5 L541.7 2990.0 L545.9 2990.4 L550.2 2990.8 L554.5 2991.2 L558.8 2991.6 L563.1 2991.9 L567.4 2992.3 L571.7 2992.7 L576.1 2993.1 L580.4 2993.4 L584.8 2993.8 L589.2 2994.2 L593.6 2994.5 L598.0 2994.9 L602.4 2995.2 L606.9 2995.5 L611.3 2995.9 L615.8 2996.2 L620.2 2996.6 L624.7 2996.9 L629.2 2997.2 L633.7 2997.5 L638.2 2997.9 L642.7 2998.2 L647.3 2998.5 L651.8 2998.8 L656.4 2999.1 L660.9 2999.4 L665.5 2999.8 L670.1 3000.1 L674.7 3000.4 L679.3 3000.7 L683.9 3001.0 L688.5 3001.3 L693.2 3001.6 L697.8 3001.9 L702.5 3002.2 L707.1 3002.4 L711.8 3002.7 L716.5 3003.0 L721.2 3003.3 L725.9 3003.6 L730.6 3003.9 L735.3 3004.2 L740.1 3004.4 L744.8 3004.7 L749.6 3005.0 L754.3 3005.2 L759.1 3005.5 L763.9 3005.8 L768.7 3006.0 L773.5 3006.3 L778.3 3006.6 L783.1 3006.8 L788.0 3007.1 L792.8 3007.3 L797.6 3007.6 L802.5 3007.8 L807.4 3008.1 L812.3 3008.3 L817.1 3008.6 L822.0 3008.8 L826.9 3009.1 L831.8 3009.4 L836.8 3009.6 L841.7 3009.9 L846.6 3010.1 L851.6 3010.4 L856.5 3010.6 L861.5 3010.9 L866.4 3011.1 L871.4 3011.4 L876.4 3011.6 L881.4 3011.9 L886.4 3012.1 L891.4 3012.4 L896.4 3012.6 L901.4 3012.8 L906.5 3013.1 L911.5 3013.3 L916.6 3013.6 L921.6 3013.8 L926.7 3014.0 L931.8 3014.3 L936.9 3014.5 L942.0 3014.7 L947.1 3015.0 L952.2 3015.2 L957.3 3015.4 L962.5 3015.6 L967.6 3015.8 L972.8 3016.1 L977.9 3016.3 L983.1 3016.5 L988.3 3016.7 L993.5 3016.9 L998.7 3017.1 L1003.9 3017.3 L1009.1 3017.5 L1014.4 3017.7 L1019.6 3017.9 L1024.9 3018.1 L1030.1 3018.3 L1035.4 3018.5 L1040.7 3018.7 L1045.9 3018.9 L1051.2 3019.1 L1056.5 3019.3 L1061.8 3019.5 L1067.2 3019.7 L1072.5 3019.9 L1077.8 3020.1 L1083.1 3020.2 L1088.5 3020.4 L1093.8 3020.6 L1099.2 3020.8 L1104.6 3021.0 L1109.9 3021.2 L1115.3 3021.4 L1120.7 3021.6 L1126.1 3021.8 L1131.5 3022.0 L1136.9 3022.2 L1142.3 3022.3 L1147.8 3022.5 L1153.2 3022.7 L1158.6 3022.9 L1164.1 3023.1 L1169.6 3023.3 L1175.0 3023.5 L1180.5 3023.6 L1186.0 3023.8 L1191.5 3024.0 L1197.0 3024.1 L1202.5 3024.3 L1208.1 3024.5 L1213.6 3024.6 L1219.2 3024.8 L1224.7 3024.9 L1230.3 3025.0 L1235.9 3025.2 L1241.5 3025.3 L1247.1 3025.4 L1252.7 3025.6 L1258.4 3025.7 L1264.0 3025.8 L1269.6 3026.0 L1275.3 3026.1 L1280.9 3026.2 L1286.6 3026.3 L1292.3 3026.4 L1297.9 3026.6 L1303.6 3026.7 L1309.3 3026.8 L1315.0 3026.9 L1320.8 3027.0 L1326.5 3027.1 L1332.2 3027.2 L1337.9 3027.4 L1343.7 3027.5 L1349.4 3027.6 L1355.2 3027.7 L1361.0 3027.8 L1366.7 3027.9 L1372.5 3028.0 L1378.3 3028.1 L1384.1 3028.2 L1389.9 3028.3 L1395.7 3028.4 L1401.6 3028.5 L1407.4 3028.6 L1413.2 3028.7 L1419.1 3028.8 L1424.9 3028.9 L1430.8 3029.0 L1436.6 3029.1 L1442.5 3029.2 L1448.4 3029.3 L1454.3 3029.4 L1460.2 3029.5 L1466.1 3029.6 L1472.0 3029.7 L1476.3 3029.8" stroke="#000000"/>
</g></g>
<g fill="#000"><circle cx="235.9" cy="2839.5" r="8.8"/><circle cx="255.0" cy="2836.8" r="8.8"/><circle cx="257.1" cy="2869.1" r="8.8"/><circle cx="239.4" cy="2875.6" r="8.8"/><circle cx="244.6" cy="2895.9" r="8.8"/><circle cx="300.9" cy="2879.9" r="8.8"/><circle cx="264.3" cy="2901.2" r="8.8"/><circle cx="274.1" cy="2900.2" r="8.8"/><circle cx="283.2" cy="2901.2" r="8.8"/><circle cx="242.0" cy="2920.1" r="8.8"/><circle cx="266.6" cy="2935.2" r="8.8"/><circle cx="275.7" cy="2946.0" r="8.8"/><circle cx="284.6" cy="2959.1" r="8.8"/><circle cx="292.1" cy="2946.0" r="8.8"/><circle cx="297.6" cy="2972.2" r="8.8"/><circle cx="247.9" cy="3000.0" r="8.8"/><circle cx="311.7" cy="2944.3" r="8.8"/><circle cx="320.5" cy="2967.9" r="8.8"/><circle cx="331.3" cy="2944.3" r="8.8"/><circle cx="340.2" cy="2933.9" r="8.8"/><circle cx="347.7" cy="2942.7" r="8.8"/><circle cx="357.5" cy="2949.3" r="8.8"/><circle cx="365.1" cy="2936.2" r="8.8"/><circle cx="376.2" cy="2941.7" r="8.8"/><circle cx="385.3" cy="2949.3" r="8.8"/><circle cx="392.9" cy="2937.8" r="8.8"/><circle cx="402.4" cy="2948.3" r="8.8"/><circle cx="373.9" cy="2986.9" r="8.8"/><circle cx="408.2" cy="2999.3" r="8.8"/><circle cx="423.6" cy="2998.3" r="8.8"/><circle cx="417.4" cy="3014.7" r="8.8"/><circle cx="432.8" cy="2947.6" r="8.8"/><circle cx="448.2" cy="2954.8" r="8.8"/><circle cx="463.2" cy="2954.2" r="8.8"/><circle cx="469.8" cy="2937.1" r="8.8"/><circle cx="479.3" cy="2937.1" r="8.8"/><circle cx="438.4" cy="3009.8" r="8.8"/><circle cx="454.1" cy="3016.3" r="8.8"/><circle cx="488.4" cy="3017.0" r="8.8"/><circle cx="503.8" cy="3009.1" r="8.8"/><circle cx="513.0" cy="3009.1" r="8.8"/><circle cx="497.3" cy="3041.5" r="8.8"/><circle cx="521.1" cy="3043.5" r="8.8"/><circle cx="534.5" cy="3048.1" r="8.8"/><circle cx="543.2" cy="3024.5" r="8.8"/><circle cx="552.8" cy="2968.0" r="8.8"/><circle cx="562.6" cy="2978.5" r="8.8"/><circle cx="573.1" cy="3007.3" r="8.8"/><circle cx="580.6" cy="2999.1" r="8.8"/><circle cx="592.7" cy="2998.1" r="8.8"/><circle cx="601.9" cy="3007.3" r="8.8"/><circle cx="610.7" cy="3025.9" r="8.8"/><circle cx="620.2" cy="3043.2" r="8.8"/><circle cx="632.0" cy="3016.4" r="8.8"/><circle cx="641.8" cy="3033.4" r="8.8"/><circle cx="650.3" cy="3048.8" r="8.8"/><circle cx="663.4" cy="3044.9" r="8.8"/><circle cx="675.5" cy="3011.2" r="8.8"/><circle cx="685.3" cy="3012.2" r="8.8"/><circle cx="693.8" cy="3044.9" r="8.8"/><circle cx="706.6" cy="3008.9" r="8.8"/><circle cx="715.1" cy="3054.0" r="8.8"/><circle cx="727.9" cy="3044.9" r="8.8"/><circle cx="740.3" cy="3063.5" r="8.8"/><circle cx="755.4" cy="3010.5" r="8.8"/><circle cx="764.2" cy="3053.1" r="8.8"/><circle cx="777.0" cy="3041.6" r="8.8"/><circle cx="788.7" cy="3012.8" r="8.8"/><circle cx="798.2" cy="3026.9" r="8.8"/><circle cx="808.0" cy="3029.2" r="8.8"/><circle cx="801.5" cy="3064.5" r="8.8"/><circle cx="822.8" cy="3029.2" r="8.8"/><circle cx="832.4" cy="3044.9" r="8.8"/><circle cx="843.8" cy="3007.9" r="8.8"/><circle cx="862.6" cy="3062.9" r="8.8"/><circle cx="878.0" cy="3010.5" r="8.8"/><circle cx="887.8" cy="2994.8" r="8.8"/><circle cx="900.3" cy="3004.0" r="8.8"/><circle cx="918.3" cy="3023.0" r="8.8"/><circle cx="927.1" cy="3063.5" r="8.8"/><circle cx="942.1" cy="3022.6" r="8.8"/><circle cx="952.6" cy="3024.6" r="8.8"/><circle cx="979.8" cy="2993.5" r="8.8"/><circle cx="983.0" cy="3008.9" r="8.8"/><circle cx="1001.0" cy="3021.0" r="8.8"/><circle cx="1023.0" cy="3057.3" r="8.8"/><circle cx="1028.9" cy="3026.2" r="8.8"/><circle cx="1056.3" cy="3093.3" r="8.8"/><circle cx="1081.2" cy="3066.2" r="8.8"/><circle cx="1096.6" cy="3065.5" r="8.8"/><circle cx="1105.8" cy="3015.4" r="8.8"/><circle cx="1117.9" cy="3044.9" r="8.8"/><circle cx="1130.6" cy="3078.6" r="8.8"/><circle cx="1148.6" cy="3067.8" r="8.8"/><circle cx="1164.3" cy="3052.4" r="8.8"/><circle cx="1176.4" cy="3013.8" r="8.8"/><circle cx="1197.6" cy="3067.8" r="8.8"/><circle cx="1229.1" cy="3002.3" r="8.8"/><circle cx="1268.3" cy="3018.7" r="8.8"/><circle cx="1290.2" cy="2954.2" r="8.8"/><circle cx="1293.5" cy="3021.3" r="8.8"/><circle cx="1296.5" cy="3097.9" r="8.8"/><circle cx="1302.7" cy="3054.0" r="8.8"/><circle cx="1308.2" cy="3065.5" r="8.8"/><circle cx="1314.1" cy="3057.0" r="8.8"/><circle cx="1321.3" cy="3064.5" r="8.8"/><circle cx="1326.9" cy="3030.2" r="8.8"/><circle cx="1336.7" cy="3072.7" r="8.8"/><circle cx="1342.6" cy="3032.4" r="8.8"/><circle cx="1345.5" cy="3124.1" r="8.8"/><circle cx="1348.5" cy="3017.1" r="8.8"/><circle cx="1354.4" cy="3058.3" r="8.8"/><circle cx="1363.9" cy="3095.6" r="8.8"/><circle cx="1369.8" cy="3011.2" r="8.8"/><circle cx="1378.6" cy="3026.2" r="8.8"/><circle cx="1388.4" cy="2954.9" r="8.8"/><circle cx="1391.5" cy="2832.4" r="8.8"/><circle cx="1385.6" cy="2849.5" r="8.8"/><circle cx="1394.0" cy="3093.6" r="8.8"/><circle cx="1401.5" cy="3089.7" r="8.8"/><circle cx="1409.7" cy="3120.1" r="8.8"/><circle cx="1422.8" cy="3048.8" r="8.8"/><circle cx="1425.4" cy="3067.8" r="8.8"/><circle cx="1441.2" cy="3042.7" r="8.8"/><circle cx="1453.4" cy="3025.0" r="8.8"/><circle cx="1455.8" cy="3088.4" r="8.8"/><circle cx="1465.6" cy="3120.3" r="8.8"/><circle cx="1471.8" cy="3017.6" r="8.8"/><circle cx="1483.2" cy="3073.3" r="8.8"/><circle cx="1493.4" cy="3075.7" r="8.8"/><circle cx="1501.6" cy="3034.4" r="8.8"/><circle cx="1508.6" cy="3020.9" r="8.8"/><circle cx="1520.8" cy="3051.2" r="8.8"/><circle cx="1533.5" cy="3000.9" r="8.8"/><circle cx="1536.0" cy="3098.2" r="8.8"/><circle cx="1548.2" cy="3066.3" r="8.8"/><circle cx="1558.1" cy="3078.2" r="8.8"/><circle cx="1566.6" cy="3087.2" r="8.8"/><circle cx="1579.3" cy="3020.1" r="8.8"/><circle cx="1585.1" cy="3055.7" r="8.8"/><circle cx="1600.6" cy="3067.9" r="8.8"/><circle cx="1610.0" cy="3098.2" r="8.8"/><circle cx="1625.1" cy="3074.5" r="8.8"/><circle cx="1635.0" cy="3117.8" r="8.8"/><circle cx="1656.2" cy="3071.2" r="8.8"/><circle cx="1665.2" cy="3087.2" r="8.8"/><circle cx="1676.3" cy="3071.6" r="8.8"/><circle cx="1686.9" cy="3074.1" r="8.8"/><circle cx="1689.8" cy="3060.2" r="8.8"/><circle cx="1716.8" cy="3094.5" r="8.8"/></g>
<text x="172.0" y="2492.4" font-family='"Liberation Sans", sans-serif' font-size="59.5" font-weight="bold" text-anchor="end">10</text>
<text x="172.0" y="2639.8" font-family='"Liberation Sans", sans-serif' font-size="59.5" font-weight="bold" text-anchor="end">8</text>
<text x="172.0" y="2787.2" font-family='"Liberation Sans", sans-serif' font-size="59.5" font-weight="bold" text-anchor="end">6</text>
<text x="172.0" y="2934.7" font-family='"Liberation Sans", sans-serif' font-size="59.5" font-weight="bold" text-anchor="end">4</text>
<text x="172.0" y="3082.1" font-family='"Liberation Sans", sans-serif' font-size="59.5" font-weight="bold" text-anchor="end">2</text>
<text x="172.0" y="3229.5" font-family='"Liberation Sans", sans-serif' font-size="59.5" font-weight="bold" text-anchor="end">0</text>
<text x="234.0" y="3318.1" font-family='"Liberation Sans", sans-serif' font-size="59.5" font-weight="bold" text-anchor="middle" textLength="136.0" lengthAdjust="spacingAndGlyphs">1976</text>
<text x="537.4" y="3318.1" font-family='"Liberation Sans", sans-serif' font-size="59.5" font-weight="bold" text-anchor="middle" textLength="136.0" lengthAdjust="spacingAndGlyphs">1984</text>
<text x="840.6" y="3318.1" font-family='"Liberation Sans", sans-serif' font-size="59.5" font-weight="bold" text-anchor="middle" textLength="136.0" lengthAdjust="spacingAndGlyphs">1992</text>
<text x="1143.0" y="3318.1" font-family='"Liberation Sans", sans-serif' font-size="59.5" font-weight="bold" text-anchor="middle" textLength="136.0" lengthAdjust="spacingAndGlyphs">2000</text>
<text x="1445.6" y="3318.1" font-family='"Liberation Sans", sans-serif' font-size="59.5" font-weight="bold" text-anchor="middle" textLength="136.0" lengthAdjust="spacingAndGlyphs">2008</text>
<text x="1749.0" y="3318.1" font-family='"Liberation Sans", sans-serif' font-size="59.5" font-weight="bold" text-anchor="middle" textLength="136.0" lengthAdjust="spacingAndGlyphs">2017</text>
<text x="70.0" y="3236.0" font-family='"Liberation Sans", sans-serif' font-size="59.5" font-weight="bold" text-anchor="start" textLength="513.1" lengthAdjust="spacingAndGlyphs" transform="rotate(-90 70.0 3236.0)">Oil productionrate</text>
<text x="70.0" y="2706.4" font-family='"Liberation Sans", sans-serif' font-size="59.5" font-weight="bold" text-anchor="start" textLength="205.2" lengthAdjust="spacingAndGlyphs" transform="rotate(-90 70.0 2706.4)">(STB/d)</text>
<text x="992.5" y="3423.8" font-family='"Liberation Sans", sans-serif' font-size="59.5" font-weight="bold" text-anchor="middle" textLength="311.0" lengthAdjust="spacingAndGlyphs">Date (Year)</text>
<text x="1475.0" y="2663.5" font-family='"Liberation Serif", serif' font-size="68" font-weight="bold" text-anchor="start">Well 3</text>
<text x="957.5" y="3538.4" font-family='"Liberation Serif", serif' font-size="100" font-weight="bold" text-anchor="middle">(c)</text></g>
<g><line x1="233.8" y1="3704.6" x2="1749.6" y2="3704.6" stroke="#d9d9d9" stroke-width="7"/>
<line x1="233.8" y1="3777.42" x2="1749.6" y2="3777.42" stroke="#d9d9d9" stroke-width="7"/>
<line x1="233.8" y1="3850.24" x2="1749.6" y2="3850.24" stroke="#d9d9d9" stroke-width="7"/>
<line x1="233.8" y1="3923.06" x2="1749.6" y2="3923.06" stroke="#d9d9d9" stroke-width="7"/>
<line x1="233.8" y1="3995.88" x2="1749.6" y2="3995.88" stroke="#d9d9d9" stroke-width="7"/>
<line x1="233.8" y1="4068.7" x2="1749.6" y2="4068.7" stroke="#d9d9d9" stroke-width="7"/>
<line x1="233.8" y1="4141.5199999999995" x2="1749.6" y2="4141.5199999999995" stroke="#d9d9d9" stroke-width="7"/>
<line x1="233.8" y1="4214.34" x2="1749.6" y2="4214.34" stroke="#d9d9d9" stroke-width="7"/>
<line x1="233.8" y1="4287.16" x2="1749.6" y2="4287.16" stroke="#d9d9d9" stroke-width="7"/>
<line x1="233.8" y1="4359.98" x2="1749.6" y2="4359.98" stroke="#d9d9d9" stroke-width="7"/>
<line x1="488.5" y1="3701.1" x2="488.5" y2="4432.8" stroke="#d9d9d9" stroke-width="7"/>
<line x1="743.4" y1="3701.1" x2="743.4" y2="4432.8" stroke="#d9d9d9" stroke-width="7"/>
<line x1="998.2" y1="3701.1" x2="998.2" y2="4432.8" stroke="#d9d9d9" stroke-width="7"/>
<line x1="1253" y1="3701.1" x2="1253" y2="4432.8" stroke="#d9d9d9" stroke-width="7"/>
<line x1="1507.6" y1="3701.1" x2="1507.6" y2="4432.8" stroke="#d9d9d9" stroke-width="7"/>
<line x1="233.8" y1="3704.6" x2="233.8" y2="4436.3" stroke="#bfbfbf" stroke-width="7"/>
<line x1="230.3" y1="4432.8" x2="1770.8" y2="4432.8" stroke="#bfbfbf" stroke-width="7"/>
<line x1="1749.6" y1="3701.1" x2="1749.6" y2="4436.3" stroke="#bfbfbf" stroke-width="7"/>
<line x1="1749.6" y1="3704.6" x2="1770.8" y2="3704.6" stroke="#bfbfbf" stroke-width="7"/>
<line x1="1749.6" y1="3777.42" x2="1770.8" y2="3777.42" stroke="#bfbfbf" stroke-width="7"/>
<line x1="1749.6" y1="3850.24" x2="1770.8" y2="3850.24" stroke="#bfbfbf" stroke-width="7"/>
<line x1="1749.6" y1="3923.06" x2="1770.8" y2="3923.06" stroke="#bfbfbf" stroke-width="7"/>
<line x1="1749.6" y1="3995.88" x2="1770.8" y2="3995.88" stroke="#bfbfbf" stroke-width="7"/>
<line x1="1749.6" y1="4068.7" x2="1770.8" y2="4068.7" stroke="#bfbfbf" stroke-width="7"/>
<line x1="1749.6" y1="4141.5199999999995" x2="1770.8" y2="4141.5199999999995" stroke="#bfbfbf" stroke-width="7"/>
<line x1="1749.6" y1="4214.34" x2="1770.8" y2="4214.34" stroke="#bfbfbf" stroke-width="7"/>
<line x1="1749.6" y1="4287.16" x2="1770.8" y2="4287.16" stroke="#bfbfbf" stroke-width="7"/>
<line x1="1749.6" y1="4359.98" x2="1770.8" y2="4359.98" stroke="#bfbfbf" stroke-width="7"/>
<line x1="1749.6" y1="4432.8" x2="1770.8" y2="4432.8" stroke="#bfbfbf" stroke-width="7"/>
<clipPath id="cp3"><rect x="233.2" y="3704.6" width="1537.6" height="728.2000000000003"/></clipPath>
<g clip-path="url(#cp3)"><g transform="scale(1.18 1)" fill="none" stroke-width="7.2" stroke-linecap="butt" stroke-linejoin="round">
<path d="M196.2 3695.0 L196.2 3695.2 L196.2 3695.5 L196.2 3696.0 L196.2 3696.5 L196.2 3697.1 L196.2 3697.8 L196.2 3698.5 L196.2 3699.3 L196.2 3700.1 L196.2 3700.9 L196.3 3701.9 L196.3 3702.8 L196.3 3703.8 L196.3 3704.8 L196.3 3705.9 L196.3 3707.0 L196.3 3708.2 L196.3 3709.4 L196.3 3710.6 L196.3 3711.8 L196.4 3713.1 L196.4 3714.4 L196.4 3715.7 L196.4 3717.1 L196.4 3718.5 L196.4 3719.9 L196.4 3721.4 L196.5 3722.8 L196.5 3724.3 L196.5 3725.9 L196.5 3727.4 L196.5 3729.0 L196.5 3730.6 L196.6 3732.3 L196.6 3733.9 L196.6 3735.6 L196.6 3737.3 L196.6 3739.0 L196.6 3740.8 L196.7 3742.5 L196.7 3744.3 L196.7 3746.1 L196.7 3748.0 L196.7 3749.8 L196.8 3751.7 L196.8 3753.6 L196.8 3755.5 L196.8 3757.5 L196.8 3759.4 L196.9 3761.4 L196.9 3763.4 L196.9 3765.4 L196.9 3767.5 L197.0 3769.5 L197.0 3771.6 L197.0 3773.7 L197.0 3775.8 L197.0 3778.0 L197.1 3780.1 L197.1 3782.3 L197.1 3784.5 L197.1 3786.7 L197.2 3788.9 L197.2 3791.1 L197.2 3793.4 L197.2 3795.7 L197.3 3798.0 L197.3 3800.3 L197.3 3802.6 L197.3 3805.0 L197.4 3807.3 L197.4 3809.7 L197.4 3812.1 L197.4 3814.5 L197.5 3817.0 L197.5 3819.4 L197.5 3821.9 L197.5 3824.3 L197.6 3826.8 L197.6 3829.3 L197.6 3831.9 L197.7 3834.4 L197.7 3836.9 L197.8 3839.5 L197.8 3842.1 L197.8 3844.7 L197.9 3847.3 L197.9 3849.9 L198.0 3852.5 L198.0 3855.1 L198.1 3857.8 L198.1 3860.5 L198.2 3863.1 L198.2 3865.8 L198.3 3868.5 L198.4 3871.2 L198.4 3873.9 L198.5 3876.7 L198.6 3879.4 L198.7 3882.2 L198.8 3884.9 L198.8 3887.7 L198.9 3890.5 L199.0 3893.3 L199.1 3896.1 L199.2 3898.9 L199.3 3901.7 L199.4 3904.5 L199.5 3907.4 L199.7 3910.2 L199.8 3913.1 L199.9 3915.9 L200.0 3918.8 L200.2 3921.7 L200.3 3924.5 L200.5 3927.4 L200.7 3930.2 L201.0 3933.0 L201.2 3935.9 L201.4 3938.7 L201.7 3941.5 L201.9 3944.4 L202.2 3947.2 L202.4 3950.1 L202.7 3953.0 L202.9 3955.9 L203.1 3958.9 L203.3 3961.8 L203.5 3964.8 L203.7 3967.8 L203.9 3970.9 L204.1 3973.9 L204.3 3977.0 L204.5 3980.1 L204.7 3983.2 L204.9 3986.2 L205.1 3989.4 L205.3 3992.5 L205.5 3995.6 L205.7 3998.7 L205.9 4001.8 L206.1 4004.9 L206.4 4008.0 L206.6 4011.1 L206.9 4014.3 L207.2 4017.4 L207.4 4020.5 L207.7 4023.7 L208.0 4026.8 L208.3 4029.9 L208.6 4033.1 L208.9 4036.2 L209.2 4039.4 L209.6 4042.5 L209.9 4045.6 L210.3 4048.7 L210.7 4051.8 L211.2 4054.9 L211.6 4057.9 L212.0 4061.0 L212.5 4064.1 L212.9 4067.2 L213.4 4070.3 L213.9 4073.3 L214.4 4076.4 L214.9 4079.4 L215.5 4082.5 L216.0 4085.5 L216.5 4088.6 L217.1 4091.7 L217.7 4094.7 L218.3 4097.7 L219.0 4100.6 L219.8 4103.5 L220.7 4106.1 L221.8 4108.7 L222.9 4111.1 L224.2 4113.4 L225.4 4115.7 L226.7 4118.0 L228.1 4120.3 L229.4 4122.6 L230.6 4124.9 L231.9 4127.3 L233.2 4129.7 L234.5 4132.0 L235.8 4134.4 L237.1 4136.7 L238.5 4139.0 L240.0 4141.2 L241.5 4143.3 L243.1 4145.3 L244.8 4147.3 L246.6 4149.2 L248.4 4151.0 L250.3 4152.8 L252.2 4154.5 L254.1 4156.2 L256.2 4157.8 L258.3 4159.4 L260.4 4160.9 L262.6 4162.4 L264.8 4163.8 L267.1 4165.2 L269.5 4166.5 L271.8 4167.7 L274.3 4169.0 L276.8 4170.2 L279.3 4171.3 L281.8 4172.4 L284.4 4173.5 L287.0 4174.6 L289.7 4175.6 L292.4 4176.6 L295.1 4177.5 L297.9 4178.4 L300.8 4179.3 L303.6 4180.1 L306.6 4180.8 L309.5 4181.5 L312.5 4182.2 L315.6 4182.9 L318.6 4183.5 L321.7 4184.1 L324.8 4184.7 L328.0 4185.3 L331.2 4185.9 L334.4 4186.4 L337.6 4186.9 L340.8 4187.4 L344.1 4187.9 L347.3 4188.4 L350.6 4188.8 L354.0 4189.2 L357.3 4189.7 L360.7 4190.1 L364.1 4190.5 L367.5 4190.9 L370.9 4191.2 L374.3 4191.6 L377.8 4191.9 L381.2 4192.3 L384.7 4192.6 L388.2 4193.0 L391.6 4193.3 L395.1 4193.7 L398.6 4194.0 L402.1 4194.4 L405.6 4194.8 L409.1 4195.2 L412.6 4195.5 L416.1 4195.9 L419.6 4196.3 L423.1 4196.7 L426.6 4197.1 L430.2 4197.5 L433.7 4197.9 L437.2 4198.3 L440.8 4198.7 L444.4 4199.1 L447.9 4199.5 L451.5 4199.9 L455.1 4200.3 L458.7 4200.6 L462.3 4201.0 L465.9 4201.4 L469.6 4201.8 L473.2 4202.1 L476.8 4202.5 L480.5 4202.8 L484.2 4203.2 L487.9 4203.6 L491.5 4203.9 L495.2 4204.3 L498.9 4204.6 L502.6 4205.0 L506.4 4205.3 L510.1 4205.7 L513.8 4206.0 L517.6 4206.4 L521.3 4206.7 L525.1 4207.1 L528.9 4207.4 L532.7 4207.7 L536.5 4208.0 L540.3 4208.4 L544.1 4208.7 L548.0 4209.0 L551.8 4209.3 L555.7 4209.6 L559.5 4209.9 L563.4 4210.2 L567.3 4210.5 L571.2 4210.7 L575.1 4211.0 L579.0 4211.3 L582.9 4211.6 L586.9 4211.9 L590.8 4212.2 L594.7 4212.4 L598.7 4212.7 L602.7 4213.0 L606.6 4213.3 L610.6 4213.5 L614.6 4213.8 L618.6 4214.1 L622.6 4214.3 L626.6 4214.6 L630.6 4214.9 L634.7 4215.1 L638.7 4215.4 L642.8 4215.6 L646.8 4215.9 L650.9 4216.2 L654.9 4216.4 L659.0 4216.7 L663.1 4216.9 L667.2 4217.2 L671.3 4217.4 L675.4 4217.6 L679.5 4217.9 L683.7 4218.1 L687.8 4218.4 L691.9 4218.6 L696.1 4218.9 L700.2 4219.1 L704.4 4219.3 L708.6 4219.6 L712.8 4219.8 L716.9 4220.0 L721.1 4220.3 L725.3 4220.5 L729.5 4220.8 L733.8 4221.0 L738.0 4221.2 L742.2 4221.5 L746.4 4221.7 L750.7 4221.9 L754.9 4222.2 L759.2 4222.4 L763.5 4222.6 L767.7 4222.8 L772.0 4223.1 L776.3 4223.3 L780.6 4223.5 L784.9 4223.8 L789.2 4224.0 L793.5 4224.2 L797.8 4224.4 L802.1 4224.7 L806.5 4224.9 L810.8 4225.1 L815.2 4225.3 L819.5 4225.6 L823.9 4225.8 L828.3 4226.0 L832.6 4226.2 L837.0 4226.4 L841.4 4226.6 L845.8 4226.8 L850.2 4227.1 L854.7 4227.3 L859.1 4227.5 L863.5 4227.7 L868.0 4227.9 L872.4 4228.1 L876.9 4228.3 L881.3 4228.5 L885.8 4228.7 L890.3 4228.8 L894.8 4229.0 L899.3 4229.2 L903.8 4229.4 L908.3 4229.6 L912.8 4229.8 L917.4 4229.9 L921.9 4230.1 L926.5 4230.3 L931.0 4230.5 L935.6 4230.6 L940.2 4230.8 L944.7 4230.9 L949.3 4231.1 L953.9 4231.3 L958.5 4231.4 L963.1 4231.6 L967.8 4231.7 L972.4 4231.9 L977.0 4232.0 L981.7 4232.2 L986.3 4232.3 L991.0 4232.5 L995.6 4232.6 L1000.3 4232.8 L1005.0 4232.9 L1009.7 4233.1 L1014.4 4233.2 L1019.1 4233.3 L1023.8 4233.5 L1028.5 4233.6 L1033.2 4233.8 L1037.9 4233.9 L1042.7 4234.0 L1047.4 4234.2 L1052.1 4234.3 L1056.9 4234.4 L1061.7 4234.6 L1066.4 4234.7 L1071.2 4234.8 L1076.0 4234.9 L1080.8 4235.1 L1085.6 4235.2 L1090.4 4235.3 L1095.2 4235.5 L1100.0 4235.6 L1104.8 4235.7 L1109.6 4235.8 L1114.5 4236.0 L1119.3 4236.1 L1124.1 4236.2 L1129.0 4236.3 L1133.8 4236.5 L1138.7 4236.6 L1143.6 4236.7 L1148.4 4236.8 L1153.3 4236.9 L1158.2 4237.1 L1163.1 4237.2 L1168.0 4237.3 L1172.9 4237.4 L1177.8 4237.6 L1182.7 4237.7 L1187.7 4237.8 L1192.6 4237.9 L1197.5 4238.1 L1202.5 4238.2 L1207.4 4238.3 L1212.3 4238.4 L1217.3 4238.5 L1222.3 4238.7 L1227.2 4238.8 L1232.2 4238.9 L1237.2 4239.0 L1242.2 4239.2 L1247.2 4239.3 L1252.2 4239.4 L1257.2 4239.5 L1262.2 4239.6 L1267.2 4239.7 L1272.2 4239.9 L1277.3 4240.0 L1282.3 4240.1 L1287.3 4240.2 L1292.4 4240.3 L1297.4 4240.4 L1302.5 4240.6 L1307.6 4240.7 L1312.6 4240.8 L1317.7 4240.9 L1322.8 4241.0 L1327.9 4241.1 L1333.0 4241.2 L1338.1 4241.3 L1343.2 4241.5 L1348.3 4241.6 L1353.4 4241.7 L1358.5 4241.8 L1363.7 4241.9 L1368.8 4242.0 L1374.0 4242.1 L1379.1 4242.2 L1384.3 4242.4 L1389.4 4242.5 L1394.6 4242.6 L1399.7 4242.7 L1404.9 4242.8 L1410.1 4242.9 L1415.3 4243.0 L1420.5 4243.1 L1425.7 4243.2 L1430.9 4243.4 L1436.1 4243.5 L1441.3 4243.6 L1446.5 4243.7 L1451.7 4243.8 L1457.0 4243.9 L1462.2 4244.0 L1467.4 4244.2 L1472.7 4244.3 L1477.9 4244.4 L1483.2 4244.5 L1488.1 4244.6" stroke="#00b050"/>
<path d="M196.4 3695.0 L196.4 3695.2 L196.4 3695.5 L196.4 3696.0 L196.5 3696.5 L196.5 3697.1 L196.5 3697.8 L196.5 3698.5 L196.5 3699.2 L196.5 3700.1 L196.5 3700.9 L196.5 3701.8 L196.5 3702.8 L196.5 3703.8 L196.5 3704.8 L196.5 3705.9 L196.5 3707.0 L196.6 3708.1 L196.6 3709.3 L196.6 3710.5 L196.6 3711.8 L196.6 3713.0 L196.6 3714.3 L196.6 3715.7 L196.6 3717.0 L196.6 3718.4 L196.7 3719.8 L196.7 3721.3 L196.7 3722.8 L196.7 3724.3 L196.7 3725.8 L196.7 3727.3 L196.8 3728.9 L196.8 3730.5 L196.8 3732.1 L196.8 3733.8 L196.8 3735.4 L196.8 3737.1 L196.9 3738.9 L196.9 3740.6 L196.9 3742.4 L196.9 3744.1 L196.9 3746.0 L197.0 3747.8 L197.0 3749.6 L197.0 3751.5 L197.0 3753.4 L197.0 3755.3 L197.1 3757.2 L197.1 3759.2 L197.1 3761.2 L197.1 3763.1 L197.1 3765.2 L197.2 3767.2 L197.2 3769.2 L197.2 3771.3 L197.2 3773.4 L197.3 3775.5 L197.3 3777.6 L197.3 3779.8 L197.3 3781.9 L197.4 3784.1 L197.4 3786.3 L197.4 3788.5 L197.5 3790.7 L197.5 3793.0 L197.5 3795.3 L197.5 3797.5 L197.6 3799.8 L197.6 3802.2 L197.6 3804.5 L197.7 3806.8 L197.7 3809.2 L197.7 3811.6 L197.7 3814.0 L197.8 3816.4 L197.8 3818.8 L197.9 3821.3 L197.9 3823.7 L197.9 3826.2 L198.0 3828.7 L198.0 3831.2 L198.0 3833.7 L198.1 3836.2 L198.1 3838.8 L198.2 3841.3 L198.2 3843.9 L198.3 3846.5 L198.3 3849.1 L198.4 3851.7 L198.4 3854.3 L198.5 3856.9 L198.6 3859.6 L198.6 3862.2 L198.7 3864.9 L198.8 3867.6 L198.8 3870.2 L198.9 3872.9 L199.0 3875.7 L199.1 3878.4 L199.2 3881.1 L199.3 3883.9 L199.3 3886.6 L199.4 3889.4 L199.5 3892.1 L199.7 3894.9 L199.8 3897.7 L199.9 3900.5 L200.0 3903.3 L200.1 3906.1 L200.2 3908.9 L200.4 3911.8 L200.5 3914.6 L200.6 3917.5 L200.8 3920.3 L201.0 3923.1 L201.2 3926.0 L201.4 3928.8 L201.6 3931.6 L201.9 3934.3 L202.2 3937.1 L202.4 3939.9 L202.7 3942.7 L203.0 3945.6 L203.3 3948.4 L203.5 3951.2 L203.8 3954.1 L204.0 3957.0 L204.2 3960.0 L204.4 3963.0 L204.6 3966.0 L204.8 3969.0 L205.0 3972.1 L205.1 3975.1 L205.3 3978.2 L205.5 3981.3 L205.6 3984.4 L205.8 3987.6 L206.0 3990.7 L206.2 3993.8 L206.4 3996.9 L206.6 4000.0 L206.9 4003.0 L207.2 4006.1 L207.5 4009.1 L207.8 4012.1 L208.2 4015.1 L208.6 4018.1 L209.0 4021.1 L209.4 4024.0 L209.8 4027.0 L210.3 4030.0 L210.7 4032.9 L211.2 4035.9 L211.6 4038.9 L212.1 4041.9 L212.5 4044.9 L212.9 4048.0 L213.4 4051.0 L213.9 4054.0 L214.4 4057.0 L214.9 4060.0 L215.5 4062.9 L216.1 4065.8 L216.7 4068.8 L217.3 4071.7 L218.0 4074.5 L218.7 4077.4 L219.4 4080.2 L220.2 4083.0 L221.0 4085.7 L221.8 4088.4 L222.7 4091.1 L223.6 4093.8 L224.5 4096.4 L225.5 4099.0 L226.6 4101.5 L227.7 4104.0 L228.8 4106.4 L230.0 4108.8 L231.2 4111.2 L232.5 4113.5 L233.8 4115.8 L235.2 4118.0 L236.7 4120.1 L238.2 4122.1 L239.9 4124.0 L241.7 4125.7 L243.7 4127.3 L245.7 4128.8 L247.7 4130.4 L249.7 4132.0 L251.6 4133.6 L253.6 4135.2 L255.6 4136.8 L257.6 4138.4 L259.6 4140.0 L261.7 4141.5 L263.8 4143.1 L265.9 4144.6 L268.0 4146.1 L270.1 4147.6 L272.3 4149.1 L274.5 4150.5 L276.8 4151.9 L279.1 4153.2 L281.6 4154.3 L284.1 4155.4 L286.7 4156.4 L289.4 4157.4 L292.1 4158.3 L294.8 4159.2 L297.5 4160.1 L300.3 4161.0 L303.1 4161.8 L306.0 4162.6 L308.9 4163.4 L311.8 4164.1 L314.7 4164.9 L317.6 4165.6 L320.6 4166.3 L323.6 4167.0 L326.6 4167.7 L329.6 4168.4 L332.6 4169.1 L335.6 4169.8 L338.6 4170.5 L341.6 4171.2 L344.6 4171.9 L347.7 4172.6 L350.7 4173.3 L353.8 4174.0 L356.9 4174.7 L360.0 4175.3 L363.1 4176.0 L366.3 4176.6 L369.4 4177.3 L372.6 4177.9 L375.8 4178.5 L379.0 4179.1 L382.3 4179.7 L385.5 4180.2 L388.8 4180.8 L392.1 4181.3 L395.4 4181.9 L398.7 4182.4 L402.0 4182.9 L405.4 4183.4 L408.8 4183.9 L412.1 4184.4 L415.5 4184.9 L418.9 4185.3 L422.3 4185.8 L425.8 4186.3 L429.2 4186.7 L432.7 4187.2 L436.1 4187.6 L439.6 4188.1 L443.1 4188.5 L446.6 4188.9 L450.2 4189.3 L453.7 4189.7 L457.3 4190.1 L460.8 4190.5 L464.4 4190.9 L468.0 4191.3 L471.6 4191.6 L475.2 4192.0 L478.9 4192.4 L482.5 4192.7 L486.2 4193.1 L489.8 4193.5 L493.5 4193.8 L497.1 4194.2 L500.8 4194.5 L504.5 4194.9 L508.2 4195.2 L511.9 4195.6 L515.6 4195.9 L519.4 4196.3 L523.1 4196.6 L526.8 4196.9 L530.6 4197.3 L534.4 4197.6 L538.1 4197.9 L541.9 4198.2 L545.7 4198.6 L549.5 4198.9 L553.3 4199.2 L557.2 4199.5 L561.0 4199.9 L564.8 4200.2 L568.6 4200.5 L572.5 4200.8 L576.3 4201.1 L580.2 4201.5 L584.0 4201.8 L587.9 4202.1 L591.8 4202.5 L595.7 4202.8 L599.5 4203.1 L603.4 4203.4 L607.3 4203.8 L611.3 4204.1 L615.2 4204.4 L619.1 4204.7 L623.0 4205.1 L627.0 4205.4 L630.9 4205.7 L634.9 4206.0 L638.8 4206.3 L642.8 4206.7 L646.8 4207.0 L650.8 4207.3 L654.8 4207.6 L658.8 4207.9 L662.8 4208.2 L666.8 4208.5 L670.9 4208.8 L674.9 4209.1 L679.0 4209.4 L683.0 4209.7 L687.1 4210.0 L691.2 4210.2 L695.3 4210.5 L699.4 4210.8 L703.5 4211.0 L707.7 4211.3 L711.8 4211.5 L716.0 4211.8 L720.1 4212.0 L724.3 4212.3 L728.5 4212.5 L732.7 4212.8 L736.8 4213.0 L741.1 4213.2 L745.3 4213.5 L749.5 4213.7 L753.7 4213.9 L757.9 4214.1 L762.2 4214.4 L766.4 4214.6 L770.7 4214.8 L775.0 4215.0 L779.2 4215.3 L783.5 4215.5 L787.8 4215.7 L792.1 4215.9 L796.4 4216.1 L800.7 4216.3 L805.1 4216.5 L809.4 4216.7 L813.7 4216.9 L818.1 4217.1 L822.4 4217.3 L826.8 4217.5 L831.2 4217.7 L835.5 4217.9 L839.9 4218.1 L844.3 4218.3 L848.7 4218.5 L853.1 4218.7 L857.5 4218.9 L862.0 4219.1 L866.4 4219.3 L870.8 4219.5 L875.3 4219.6 L879.7 4219.8 L884.2 4220.0 L888.7 4220.2 L893.1 4220.3 L897.6 4220.5 L902.1 4220.7 L906.6 4220.9 L911.1 4221.0 L915.7 4221.2 L920.2 4221.4 L924.7 4221.5 L929.2 4221.7 L933.8 4221.9 L938.3 4222.0 L942.9 4222.2 L947.5 4222.3 L952.0 4222.5 L956.6 4222.6 L961.2 4222.8 L965.8 4222.9 L970.4 4223.1 L975.0 4223.2 L979.6 4223.4 L984.3 4223.5 L988.9 4223.7 L993.5 4223.8 L998.2 4224.0 L1002.8 4224.1 L1007.5 4224.3 L1012.2 4224.4 L1016.9 4224.5 L1021.5 4224.7 L1026.2 4224.8 L1030.9 4224.9 L1035.6 4225.1 L1040.3 4225.2 L1045.0 4225.3 L1049.8 4225.5 L1054.5 4225.6 L1059.2 4225.7 L1064.0 4225.9 L1068.7 4226.0 L1073.5 4226.1 L1078.2 4226.2 L1083.0 4226.4 L1087.8 4226.5 L1092.6 4226.6 L1097.4 4226.8 L1102.1 4226.9 L1106.9 4227.0 L1111.7 4227.1 L1116.6 4227.3 L1121.4 4227.4 L1126.2 4227.5 L1131.0 4227.6 L1135.9 4227.8 L1140.7 4227.9 L1145.6 4228.0 L1150.4 4228.1 L1155.3 4228.3 L1160.1 4228.4 L1165.0 4228.5 L1169.9 4228.6 L1174.8 4228.8 L1179.6 4228.9 L1184.5 4229.0 L1189.4 4229.1 L1194.3 4229.3 L1199.2 4229.4 L1204.2 4229.5 L1209.1 4229.6 L1214.0 4229.8 L1218.9 4229.9 L1223.9 4230.0 L1228.8 4230.2 L1233.8 4230.3 L1238.7 4230.4 L1243.7 4230.5 L1248.6 4230.7 L1253.6 4230.8 L1258.6 4230.9 L1263.6 4231.0 L1268.6 4231.2 L1273.6 4231.3 L1278.6 4231.4 L1283.6 4231.6 L1288.6 4231.7 L1293.6 4231.8 L1298.6 4231.9 L1303.7 4232.1 L1308.7 4232.2 L1313.7 4232.3 L1318.8 4232.4 L1323.8 4232.5 L1328.9 4232.7 L1334.0 4232.8 L1339.0 4232.9 L1344.1 4233.0 L1349.2 4233.2 L1354.3 4233.3 L1359.4 4233.4 L1364.5 4233.5 L1369.6 4233.7 L1374.7 4233.8 L1379.8 4233.9 L1384.9 4234.0 L1390.1 4234.1 L1395.2 4234.3 L1400.3 4234.4 L1405.5 4234.5 L1410.6 4234.6 L1415.8 4234.7 L1421.0 4234.9 L1426.1 4235.0 L1431.3 4235.1 L1436.5 4235.2 L1441.7 4235.3 L1446.9 4235.5 L1452.1 4235.6 L1457.3 4235.7 L1462.5 4235.8 L1467.7 4235.9 L1472.9 4236.1 L1478.1 4236.2 L1483.4 4236.3 L1488.1 4236.4" stroke="#1f9bd8"/>
<path d="M196.6 3695.0 L196.6 3695.2 L196.6 3695.5 L196.6 3696.0 L196.6 3696.5 L196.6 3697.1 L196.6 3697.8 L196.6 3698.5 L196.6 3699.2 L196.6 3700.1 L196.6 3700.9 L196.7 3701.8 L196.7 3702.8 L196.7 3703.8 L196.7 3704.8 L196.7 3705.9 L196.7 3707.0 L196.7 3708.1 L196.7 3709.3 L196.7 3710.5 L196.7 3711.7 L196.7 3713.0 L196.8 3714.3 L196.8 3715.6 L196.8 3717.0 L196.8 3718.4 L196.8 3719.8 L196.8 3721.2 L196.8 3722.7 L196.8 3724.2 L196.9 3725.7 L196.9 3727.2 L196.9 3728.8 L196.9 3730.4 L196.9 3732.0 L196.9 3733.7 L197.0 3735.3 L197.0 3737.0 L197.0 3738.7 L197.0 3740.5 L197.0 3742.2 L197.0 3744.0 L197.1 3745.8 L197.1 3747.6 L197.1 3749.5 L197.1 3751.3 L197.2 3753.2 L197.2 3755.1 L197.2 3757.0 L197.2 3759.0 L197.3 3760.9 L197.3 3762.9 L197.3 3764.9 L197.3 3766.9 L197.4 3769.0 L197.4 3771.0 L197.4 3773.1 L197.4 3775.2 L197.5 3777.3 L197.5 3779.4 L197.5 3781.6 L197.5 3783.7 L197.6 3785.9 L197.6 3788.1 L197.6 3790.3 L197.7 3792.6 L197.7 3794.8 L197.7 3797.1 L197.8 3799.4 L197.8 3801.7 L197.9 3804.0 L197.9 3806.3 L197.9 3808.7 L198.0 3811.0 L198.0 3813.4 L198.1 3815.8 L198.1 3818.2 L198.2 3820.6 L198.2 3823.0 L198.2 3825.5 L198.3 3828.0 L198.3 3830.4 L198.4 3832.9 L198.5 3835.4 L198.5 3838.0 L198.6 3840.5 L198.6 3843.0 L198.7 3845.6 L198.7 3848.2 L198.8 3850.8 L198.9 3853.4 L198.9 3856.0 L199.0 3858.6 L199.1 3861.2 L199.1 3863.9 L199.2 3866.6 L199.3 3869.2 L199.4 3871.9 L199.4 3874.6 L199.5 3877.3 L199.6 3880.1 L199.7 3882.8 L199.8 3885.5 L199.9 3888.3 L200.0 3891.0 L200.1 3893.8 L200.2 3896.6 L200.3 3899.4 L200.4 3902.2 L200.6 3904.9 L200.7 3907.8 L200.8 3910.6 L201.0 3913.4 L201.2 3916.2 L201.3 3919.0 L201.5 3921.8 L201.8 3924.6 L202.0 3927.3 L202.3 3930.0 L202.7 3932.7 L203.0 3935.3 L203.4 3938.0 L203.8 3940.7 L204.2 3943.4 L204.5 3946.1 L204.9 3948.8 L205.3 3951.5 L205.6 3954.3 L205.9 3957.2 L206.2 3960.0 L206.4 3963.0 L206.7 3965.9 L206.9 3968.9 L207.1 3971.9 L207.3 3975.0 L207.5 3978.0 L207.7 3981.1 L207.9 3984.2 L208.1 3987.2 L208.3 3990.3 L208.5 3993.4 L208.7 3996.5 L209.0 3999.5 L209.3 4002.5 L209.6 4005.5 L210.0 4008.5 L210.4 4011.5 L210.8 4014.4 L211.2 4017.3 L211.7 4020.3 L212.1 4023.2 L212.6 4026.1 L213.1 4028.9 L213.6 4031.8 L214.2 4034.7 L214.7 4037.6 L215.3 4040.5 L215.8 4043.4 L216.4 4046.2 L217.0 4049.0 L217.7 4051.8 L218.4 4054.6 L219.1 4057.3 L219.8 4060.1 L220.6 4062.8 L221.4 4065.5 L222.2 4068.2 L223.0 4070.9 L223.9 4073.5 L224.8 4076.1 L225.7 4078.7 L226.7 4081.2 L227.7 4083.7 L228.8 4086.2 L229.8 4088.7 L231.0 4091.1 L232.1 4093.5 L233.3 4095.8 L234.6 4098.1 L235.9 4100.3 L237.3 4102.5 L238.7 4104.6 L240.3 4106.5 L241.9 4108.5 L243.6 4110.3 L245.3 4112.1 L247.1 4113.8 L248.9 4115.5 L250.8 4117.2 L252.8 4118.8 L254.7 4120.3 L256.8 4121.9 L258.8 4123.4 L260.9 4124.8 L263.0 4126.3 L265.1 4127.7 L267.3 4129.1 L269.5 4130.5 L271.7 4131.8 L274.0 4133.1 L276.3 4134.4 L278.7 4135.6 L281.1 4136.7 L283.6 4137.8 L286.2 4138.9 L288.7 4139.9 L291.3 4140.9 L294.0 4141.8 L296.6 4142.7 L299.3 4143.6 L302.1 4144.5 L304.8 4145.4 L307.5 4146.3 L310.3 4147.1 L313.1 4148.0 L315.8 4148.9 L318.6 4149.8 L321.4 4150.7 L324.2 4151.5 L327.0 4152.4 L329.8 4153.3 L332.6 4154.1 L335.5 4155.0 L338.4 4155.8 L341.2 4156.6 L344.2 4157.4 L347.1 4158.2 L350.1 4158.9 L353.1 4159.7 L356.1 4160.4 L359.1 4161.1 L362.2 4161.8 L365.2 4162.5 L368.3 4163.2 L371.4 4163.9 L374.5 4164.5 L377.6 4165.2 L380.7 4165.9 L383.9 4166.5 L387.0 4167.2 L390.2 4167.8 L393.3 4168.5 L396.5 4169.1 L399.7 4169.7 L402.9 4170.4 L406.2 4171.0 L409.4 4171.6 L412.7 4172.1 L416.0 4172.7 L419.3 4173.2 L422.6 4173.8 L426.0 4174.3 L429.3 4174.8 L432.7 4175.4 L436.1 4175.9 L439.5 4176.4 L442.9 4176.9 L446.4 4177.3 L449.8 4177.8 L453.2 4178.3 L456.7 4178.8 L460.2 4179.3 L463.6 4179.7 L467.1 4180.2 L470.6 4180.7 L474.1 4181.1 L477.6 4181.6 L481.2 4182.1 L484.7 4182.5 L488.3 4182.9 L491.9 4183.3 L495.4 4183.8 L499.0 4184.2 L502.7 4184.6 L506.3 4185.0 L509.9 4185.4 L513.6 4185.8 L517.2 4186.2 L520.9 4186.6 L524.6 4187.0 L528.2 4187.3 L531.9 4187.7 L535.6 4188.1 L539.4 4188.4 L543.1 4188.8 L546.9 4189.1 L550.6 4189.5 L554.4 4189.8 L558.2 4190.2 L562.0 4190.5 L565.8 4190.8 L569.6 4191.2 L573.4 4191.5 L577.2 4191.8 L581.0 4192.1 L584.9 4192.5 L588.7 4192.8 L592.6 4193.1 L596.4 4193.4 L600.3 4193.7 L604.2 4194.0 L608.1 4194.4 L612.0 4194.7 L615.9 4195.0 L619.8 4195.3 L623.7 4195.6 L627.7 4195.9 L631.6 4196.2 L635.6 4196.5 L639.5 4196.8 L643.5 4197.1 L647.5 4197.4 L651.5 4197.7 L655.5 4197.9 L659.5 4198.2 L663.5 4198.5 L667.5 4198.8 L671.5 4199.1 L675.6 4199.3 L679.6 4199.6 L683.7 4199.9 L687.7 4200.2 L691.8 4200.4 L695.9 4200.7 L700.0 4201.0 L704.1 4201.2 L708.2 4201.5 L712.3 4201.8 L716.4 4202.0 L720.5 4202.3 L724.6 4202.5 L728.8 4202.8 L732.9 4203.0 L737.1 4203.3 L741.3 4203.5 L745.4 4203.8 L749.6 4204.1 L753.8 4204.3 L758.0 4204.6 L762.2 4204.8 L766.4 4205.1 L770.6 4205.3 L774.8 4205.5 L779.1 4205.8 L783.3 4206.0 L787.5 4206.3 L791.8 4206.5 L796.0 4206.8 L800.3 4207.0 L804.6 4207.2 L808.9 4207.5 L813.2 4207.7 L817.5 4207.9 L821.8 4208.2 L826.1 4208.4 L830.4 4208.6 L834.7 4208.9 L839.1 4209.1 L843.4 4209.3 L847.8 4209.5 L852.1 4209.7 L856.5 4210.0 L860.9 4210.2 L865.2 4210.4 L869.6 4210.6 L874.0 4210.8 L878.4 4211.0 L882.9 4211.2 L887.3 4211.4 L891.7 4211.6 L896.2 4211.8 L900.6 4212.0 L905.1 4212.2 L909.5 4212.4 L914.0 4212.6 L918.5 4212.8 L923.0 4212.9 L927.5 4213.1 L932.0 4213.3 L936.5 4213.5 L941.1 4213.6 L945.6 4213.8 L950.1 4214.0 L954.7 4214.1 L959.2 4214.3 L963.8 4214.5 L968.4 4214.6 L973.0 4214.8 L977.5 4214.9 L982.1 4215.1 L986.7 4215.2 L991.4 4215.4 L996.0 4215.5 L1000.6 4215.7 L1005.2 4215.8 L1009.9 4216.0 L1014.5 4216.1 L1019.2 4216.3 L1023.8 4216.4 L1028.5 4216.5 L1033.2 4216.7 L1037.8 4216.8 L1042.5 4216.9 L1047.2 4217.1 L1051.9 4217.2 L1056.6 4217.4 L1061.4 4217.5 L1066.1 4217.6 L1070.8 4217.8 L1075.5 4217.9 L1080.3 4218.0 L1085.0 4218.1 L1089.8 4218.3 L1094.5 4218.4 L1099.3 4218.5 L1104.1 4218.7 L1108.9 4218.8 L1113.6 4218.9 L1118.4 4219.0 L1123.2 4219.2 L1128.0 4219.3 L1132.8 4219.4 L1137.7 4219.5 L1142.5 4219.7 L1147.3 4219.8 L1152.1 4219.9 L1157.0 4220.1 L1161.8 4220.2 L1166.7 4220.3 L1171.5 4220.4 L1176.4 4220.6 L1181.2 4220.7 L1186.1 4220.8 L1191.0 4221.0 L1195.9 4221.1 L1200.7 4221.2 L1205.6 4221.4 L1210.5 4221.5 L1215.4 4221.6 L1220.3 4221.8 L1225.3 4221.9 L1230.2 4222.0 L1235.1 4222.2 L1240.0 4222.3 L1245.0 4222.4 L1249.9 4222.6 L1254.9 4222.7 L1259.8 4222.8 L1264.8 4223.0 L1269.7 4223.1 L1274.7 4223.2 L1279.7 4223.3 L1284.7 4223.5 L1289.7 4223.6 L1294.7 4223.7 L1299.7 4223.9 L1304.7 4224.0 L1309.7 4224.1 L1314.7 4224.3 L1319.7 4224.4 L1324.7 4224.5 L1329.8 4224.7 L1334.8 4224.8 L1339.9 4224.9 L1344.9 4225.0 L1350.0 4225.2 L1355.0 4225.3 L1360.1 4225.4 L1365.2 4225.6 L1370.3 4225.7 L1375.4 4225.8 L1380.4 4225.9 L1385.5 4226.1 L1390.6 4226.2 L1395.8 4226.3 L1400.9 4226.4 L1406.0 4226.6 L1411.1 4226.7 L1416.3 4226.8 L1421.4 4226.9 L1426.5 4227.1 L1431.7 4227.2 L1436.8 4227.3 L1442.0 4227.4 L1447.2 4227.6 L1452.4 4227.7 L1457.5 4227.8 L1462.7 4227.9 L1467.9 4228.0 L1473.1 4228.2 L1478.3 4228.3 L1483.5 4228.4 L1488.1 4228.5" stroke="#ff0000"/>
<path d="M197.9 3695.0 L197.9 3695.2 L197.9 3695.5 L197.9 3696.0 L197.9 3696.5 L197.9 3697.1 L197.9 3697.7 L197.9 3698.4 L197.9 3699.2 L197.9 3700.0 L197.9 3700.9 L197.9 3701.8 L197.9 3702.7 L197.9 3703.7 L197.9 3704.7 L198.0 3705.8 L198.0 3706.9 L198.0 3708.0 L198.0 3709.2 L198.0 3710.4 L198.0 3711.6 L198.0 3712.9 L198.0 3714.2 L198.0 3715.5 L198.0 3716.9 L198.1 3718.2 L198.1 3719.6 L198.1 3721.1 L198.1 3722.5 L198.1 3724.0 L198.1 3725.5 L198.1 3727.1 L198.2 3728.6 L198.2 3730.2 L198.2 3731.8 L198.2 3733.5 L198.2 3735.1 L198.2 3736.8 L198.3 3738.5 L198.3 3740.2 L198.3 3742.0 L198.3 3743.7 L198.3 3745.5 L198.4 3747.3 L198.4 3749.2 L198.4 3751.0 L198.4 3752.9 L198.4 3754.8 L198.5 3756.7 L198.5 3758.6 L198.5 3760.6 L198.5 3762.5 L198.6 3764.5 L198.6 3766.5 L198.6 3768.6 L198.6 3770.6 L198.7 3772.7 L198.7 3774.8 L198.7 3776.9 L198.8 3779.0 L198.8 3781.1 L198.8 3783.3 L198.8 3785.4 L198.9 3787.6 L198.9 3789.8 L198.9 3792.0 L199.0 3794.3 L199.0 3796.5 L199.0 3798.8 L199.1 3801.1 L199.1 3803.4 L199.2 3805.7 L199.2 3808.0 L199.2 3810.4 L199.3 3812.8 L199.3 3815.1 L199.4 3817.5 L199.4 3819.9 L199.5 3822.4 L199.5 3824.8 L199.6 3827.2 L199.6 3829.7 L199.7 3832.2 L199.7 3834.7 L199.8 3837.2 L199.8 3839.7 L199.9 3842.2 L199.9 3844.8 L200.0 3847.3 L200.1 3849.9 L200.1 3852.5 L200.2 3855.1 L200.3 3857.7 L200.3 3860.3 L200.4 3863.0 L200.5 3865.6 L200.6 3868.3 L200.6 3870.9 L200.7 3873.6 L200.8 3876.3 L200.9 3879.0 L201.0 3881.7 L201.1 3884.4 L201.2 3887.2 L201.3 3889.9 L201.4 3892.7 L201.5 3895.4 L201.6 3898.2 L201.7 3901.0 L201.8 3903.8 L202.0 3906.6 L202.1 3909.4 L202.2 3912.2 L202.4 3915.0 L202.5 3917.8 L202.7 3920.7 L202.8 3923.5 L203.0 3926.3 L203.2 3929.1 L203.4 3932.0 L203.6 3934.8 L203.9 3937.6 L204.1 3940.4 L204.3 3943.2 L204.6 3946.1 L204.9 3948.9 L205.1 3951.7 L205.4 3954.6 L205.7 3957.4 L206.0 3960.3 L206.2 3963.1 L206.5 3966.0 L206.9 3968.9 L207.2 3971.7 L207.5 3974.6 L207.8 3977.5 L208.2 3980.3 L208.5 3983.2 L208.9 3986.1 L209.3 3988.9 L209.7 3991.8 L210.1 3994.6 L210.5 3997.5 L210.9 4000.3 L211.4 4003.2 L211.8 4006.0 L212.3 4008.9 L212.8 4011.7 L213.3 4014.5 L213.8 4017.3 L214.4 4020.1 L214.9 4022.9 L215.5 4025.7 L216.1 4028.5 L216.7 4031.2 L217.4 4034.0 L218.0 4036.7 L218.7 4039.4 L219.4 4042.1 L220.1 4044.8 L220.9 4047.4 L221.7 4050.0 L222.6 4052.6 L223.5 4055.1 L224.4 4057.6 L225.4 4060.1 L226.4 4062.5 L227.4 4064.9 L228.5 4067.3 L229.6 4069.7 L230.7 4072.0 L231.8 4074.3 L233.0 4076.6 L234.3 4078.9 L235.5 4081.1 L236.8 4083.3 L238.2 4085.4 L239.6 4087.4 L241.1 4089.4 L242.6 4091.4 L244.3 4093.2 L245.9 4095.0 L247.7 4096.8 L249.5 4098.5 L251.3 4100.1 L253.2 4101.7 L255.1 4103.3 L257.1 4104.8 L259.1 4106.3 L261.1 4107.7 L263.2 4109.2 L265.3 4110.6 L267.4 4112.0 L269.6 4113.3 L271.8 4114.6 L274.0 4115.9 L276.3 4117.2 L278.6 4118.4 L280.9 4119.7 L283.2 4120.8 L285.6 4122.0 L288.0 4123.1 L290.5 4124.3 L292.9 4125.4 L295.4 4126.4 L297.9 4127.5 L300.5 4128.5 L303.0 4129.5 L305.7 4130.5 L308.3 4131.4 L311.0 4132.3 L313.7 4133.2 L316.4 4134.1 L319.2 4135.0 L321.9 4135.8 L324.7 4136.7 L327.5 4137.6 L330.2 4138.4 L333.0 4139.3 L335.7 4140.2 L338.5 4141.1 L341.3 4142.0 L344.1 4142.9 L346.8 4143.8 L349.7 4144.7 L352.5 4145.6 L355.3 4146.5 L358.2 4147.3 L361.1 4148.2 L364.0 4149.0 L366.9 4149.9 L369.8 4150.7 L372.7 4151.5 L375.7 4152.3 L378.7 4153.1 L381.7 4153.8 L384.7 4154.6 L387.8 4155.3 L390.9 4156.0 L394.0 4156.6 L397.1 4157.3 L400.3 4157.9 L403.5 4158.5 L406.7 4159.1 L409.9 4159.7 L413.1 4160.3 L416.4 4160.9 L419.7 4161.4 L422.9 4162.0 L426.2 4162.5 L429.5 4163.1 L432.9 4163.6 L436.2 4164.1 L439.6 4164.6 L442.9 4165.1 L446.3 4165.6 L449.7 4166.1 L453.1 4166.6 L456.5 4167.1 L460.0 4167.5 L463.4 4168.0 L466.9 4168.5 L470.4 4168.9 L473.9 4169.3 L477.4 4169.7 L481.0 4170.1 L484.5 4170.5 L488.1 4170.9 L491.6 4171.3 L495.2 4171.7 L498.8 4172.1 L502.4 4172.5 L506.0 4172.9 L509.6 4173.2 L513.2 4173.6 L516.9 4174.0 L520.5 4174.4 L524.2 4174.7 L527.8 4175.1 L531.5 4175.5 L535.2 4175.8 L538.9 4176.1 L542.6 4176.5 L546.3 4176.8 L550.1 4177.1 L553.8 4177.4 L557.6 4177.8 L561.4 4178.1 L565.1 4178.4 L568.9 4178.7 L572.7 4179.0 L576.6 4179.3 L580.4 4179.6 L584.2 4179.9 L588.0 4180.2 L591.9 4180.4 L595.7 4180.7 L599.6 4181.0 L603.5 4181.3 L607.4 4181.6 L611.3 4181.9 L615.2 4182.1 L619.1 4182.4 L623.0 4182.7 L626.9 4182.9 L630.8 4183.2 L634.8 4183.5 L638.7 4183.8 L642.7 4184.0 L646.7 4184.3 L650.6 4184.5 L654.6 4184.8 L658.6 4185.1 L662.6 4185.3 L666.6 4185.6 L670.6 4185.8 L674.6 4186.1 L678.6 4186.3 L682.7 4186.6 L686.7 4186.9 L690.8 4187.1 L694.8 4187.4 L698.9 4187.6 L702.9 4187.9 L707.0 4188.1 L711.1 4188.4 L715.2 4188.6 L719.3 4188.9 L723.4 4189.2 L727.5 4189.4 L731.6 4189.7 L735.7 4189.9 L739.8 4190.2 L743.9 4190.5 L748.1 4190.7 L752.2 4191.0 L756.4 4191.2 L760.5 4191.5 L764.7 4191.8 L768.8 4192.0 L773.0 4192.3 L777.2 4192.6 L781.4 4192.8 L785.6 4193.1 L789.7 4193.3 L794.0 4193.6 L798.2 4193.9 L802.4 4194.1 L806.6 4194.4 L810.8 4194.6 L815.1 4194.9 L819.3 4195.1 L823.6 4195.4 L827.9 4195.6 L832.1 4195.9 L836.4 4196.1 L840.7 4196.4 L845.0 4196.6 L849.3 4196.9 L853.6 4197.1 L857.9 4197.4 L862.2 4197.6 L866.6 4197.8 L870.9 4198.0 L875.3 4198.3 L879.6 4198.5 L884.0 4198.7 L888.4 4198.9 L892.8 4199.2 L897.2 4199.4 L901.6 4199.6 L906.0 4199.8 L910.4 4200.0 L914.9 4200.2 L919.3 4200.4 L923.8 4200.6 L928.2 4200.7 L932.7 4200.9 L937.2 4201.1 L941.7 4201.3 L946.2 4201.4 L950.7 4201.6 L955.2 4201.8 L959.7 4201.9 L964.3 4202.1 L968.8 4202.3 L973.4 4202.4 L977.9 4202.6 L982.5 4202.7 L987.1 4202.9 L991.6 4203.0 L996.2 4203.2 L1000.8 4203.3 L1005.4 4203.4 L1010.0 4203.6 L1014.6 4203.7 L1019.3 4203.9 L1023.9 4204.0 L1028.5 4204.1 L1033.2 4204.3 L1037.8 4204.4 L1042.5 4204.5 L1047.2 4204.7 L1051.8 4204.8 L1056.5 4204.9 L1061.2 4205.1 L1065.9 4205.2 L1070.6 4205.3 L1075.3 4205.4 L1080.0 4205.6 L1084.7 4205.7 L1089.5 4205.8 L1094.2 4205.9 L1098.9 4206.1 L1103.7 4206.2 L1108.4 4206.3 L1113.2 4206.4 L1117.9 4206.6 L1122.7 4206.7 L1127.5 4206.8 L1132.2 4207.0 L1137.0 4207.1 L1141.8 4207.2 L1146.6 4207.3 L1151.4 4207.5 L1156.2 4207.6 L1161.0 4207.7 L1165.8 4207.9 L1170.6 4208.0 L1175.4 4208.2 L1180.2 4208.3 L1185.1 4208.4 L1189.9 4208.6 L1194.7 4208.7 L1199.6 4208.9 L1204.4 4209.0 L1209.3 4209.2 L1214.1 4209.3 L1219.0 4209.5 L1223.8 4209.6 L1228.7 4209.8 L1233.6 4210.0 L1238.4 4210.1 L1243.3 4210.3 L1248.2 4210.4 L1253.1 4210.6 L1258.0 4210.8 L1262.9 4210.9 L1267.8 4211.1 L1272.7 4211.3 L1277.6 4211.4 L1282.6 4211.6 L1287.5 4211.8 L1292.4 4211.9 L1297.3 4212.1 L1302.3 4212.3 L1307.2 4212.4 L1312.2 4212.6 L1317.1 4212.8 L1322.1 4212.9 L1327.1 4213.1 L1332.0 4213.3 L1337.0 4213.4 L1342.0 4213.6 L1347.0 4213.8 L1352.0 4213.9 L1357.0 4214.1 L1362.0 4214.3 L1367.0 4214.5 L1372.0 4214.6 L1377.0 4214.8 L1382.1 4215.0 L1387.1 4215.1 L1392.2 4215.3 L1397.2 4215.5 L1402.3 4215.6 L1407.3 4215.8 L1412.4 4216.0 L1417.4 4216.1 L1422.5 4216.3 L1427.6 4216.5 L1432.7 4216.6 L1437.8 4216.8 L1442.9 4216.9 L1448.0 4217.1 L1453.1 4217.3 L1458.2 4217.4 L1463.4 4217.6 L1468.5 4217.7 L1473.6 4217.9 L1478.8 4218.0 L1483.9 4218.2 L1488.1 4218.3" stroke="#ffc000"/>
<path d="M199.1 3695.0 L199.1 3695.2 L199.1 3695.5 L199.1 3696.0 L199.1 3696.5 L199.1 3697.1 L199.1 3697.7 L199.1 3698.4 L199.1 3699.2 L199.1 3700.0 L199.1 3700.8 L199.1 3701.7 L199.1 3702.7 L199.2 3703.7 L199.2 3704.7 L199.2 3705.7 L199.2 3706.8 L199.2 3707.9 L199.2 3709.1 L199.2 3710.3 L199.3 3711.5 L199.3 3712.8 L199.3 3714.0 L199.3 3715.4 L199.3 3716.7 L199.3 3718.1 L199.4 3719.5 L199.4 3720.9 L199.4 3722.3 L199.4 3723.8 L199.4 3725.3 L199.4 3726.8 L199.5 3728.4 L199.5 3729.9 L199.5 3731.5 L199.5 3733.2 L199.6 3734.8 L199.6 3736.5 L199.6 3738.2 L199.6 3739.9 L199.7 3741.6 L199.7 3743.4 L199.7 3745.1 L199.7 3746.9 L199.8 3748.7 L199.8 3750.6 L199.8 3752.4 L199.9 3754.3 L199.9 3756.2 L199.9 3758.1 L200.0 3760.1 L200.0 3762.0 L200.0 3764.0 L200.1 3766.0 L200.1 3768.0 L200.1 3770.0 L200.2 3772.1 L200.2 3774.1 L200.2 3776.2 L200.3 3778.3 L200.3 3780.4 L200.4 3782.6 L200.4 3784.7 L200.4 3786.9 L200.5 3789.1 L200.5 3791.3 L200.6 3793.5 L200.6 3795.7 L200.6 3798.0 L200.7 3800.3 L200.7 3802.5 L200.8 3804.8 L200.8 3807.2 L200.9 3809.5 L200.9 3811.8 L201.0 3814.2 L201.0 3816.6 L201.1 3819.0 L201.2 3821.4 L201.2 3823.8 L201.3 3826.2 L201.3 3828.6 L201.4 3831.1 L201.5 3833.6 L201.5 3836.1 L201.6 3838.6 L201.7 3841.1 L201.7 3843.6 L201.8 3846.1 L201.9 3848.7 L202.0 3851.2 L202.1 3853.8 L202.1 3856.4 L202.2 3859.0 L202.3 3861.6 L202.4 3864.2 L202.5 3866.8 L202.6 3869.5 L202.7 3872.1 L202.8 3874.8 L202.9 3877.4 L203.1 3880.1 L203.2 3882.8 L203.3 3885.5 L203.4 3888.2 L203.5 3890.9 L203.7 3893.7 L203.8 3896.4 L203.9 3899.1 L204.1 3901.9 L204.2 3904.7 L204.4 3907.4 L204.5 3910.2 L204.7 3913.0 L204.9 3915.8 L205.0 3918.6 L205.2 3921.4 L205.4 3924.2 L205.6 3927.1 L205.7 3929.9 L205.9 3932.7 L206.2 3935.5 L206.4 3938.4 L206.6 3941.2 L206.9 3944.0 L207.1 3946.9 L207.4 3949.7 L207.6 3952.5 L207.9 3955.4 L208.2 3958.2 L208.5 3961.0 L208.9 3963.8 L209.3 3966.6 L209.7 3969.3 L210.1 3972.0 L210.6 3974.7 L211.1 3977.4 L211.5 3980.2 L211.9 3983.0 L212.3 3985.9 L212.6 3988.7 L213.0 3991.6 L213.4 3994.5 L213.8 3997.4 L214.2 4000.3 L214.7 4003.1 L215.2 4005.9 L215.7 4008.7 L216.2 4011.5 L216.7 4014.3 L217.3 4017.1 L217.8 4019.8 L218.4 4022.6 L219.0 4025.4 L219.6 4028.2 L220.1 4031.0 L220.8 4033.8 L221.4 4036.5 L222.1 4039.2 L222.8 4041.9 L223.6 4044.5 L224.4 4047.1 L225.3 4049.6 L226.2 4052.2 L227.1 4054.6 L228.1 4057.0 L229.2 4059.4 L230.2 4061.8 L231.3 4064.1 L232.5 4066.4 L233.7 4068.6 L234.9 4070.9 L236.2 4073.0 L237.5 4075.2 L238.8 4077.3 L240.2 4079.4 L241.6 4081.4 L243.1 4083.4 L244.6 4085.3 L246.2 4087.2 L247.8 4089.1 L249.5 4090.8 L251.3 4092.5 L253.1 4094.1 L255.0 4095.7 L256.9 4097.3 L258.9 4098.8 L260.9 4100.3 L262.9 4101.7 L264.9 4103.2 L267.0 4104.6 L269.1 4106.0 L271.2 4107.4 L273.3 4108.8 L275.5 4110.1 L277.8 4111.4 L280.0 4112.6 L282.3 4113.8 L284.7 4115.0 L287.1 4116.1 L289.5 4117.2 L292.0 4118.3 L294.5 4119.3 L297.0 4120.3 L299.5 4121.3 L302.1 4122.3 L304.7 4123.3 L307.3 4124.3 L309.9 4125.2 L312.5 4126.1 L315.2 4127.1 L317.9 4128.0 L320.6 4128.9 L323.3 4129.8 L326.0 4130.6 L328.8 4131.5 L331.5 4132.4 L334.3 4133.2 L337.0 4134.1 L339.8 4135.0 L342.6 4135.8 L345.4 4136.7 L348.2 4137.6 L351.0 4138.4 L353.9 4139.3 L356.7 4140.1 L359.6 4140.9 L362.5 4141.7 L365.4 4142.6 L368.3 4143.4 L371.2 4144.2 L374.1 4145.0 L377.1 4145.7 L380.1 4146.5 L383.1 4147.2 L386.2 4147.9 L389.2 4148.6 L392.3 4149.3 L395.4 4149.9 L398.6 4150.5 L401.7 4151.2 L404.9 4151.8 L408.1 4152.4 L411.3 4153.0 L414.5 4153.5 L417.7 4154.1 L421.0 4154.7 L424.2 4155.2 L427.5 4155.8 L430.8 4156.3 L434.1 4156.8 L437.4 4157.4 L440.8 4157.9 L444.1 4158.4 L447.5 4158.9 L450.8 4159.4 L454.2 4159.9 L457.6 4160.4 L461.0 4160.9 L464.4 4161.4 L467.8 4161.9 L471.3 4162.3 L474.7 4162.8 L478.2 4163.3 L481.6 4163.7 L485.1 4164.2 L488.6 4164.6 L492.1 4165.1 L495.6 4165.5 L499.1 4166.0 L502.6 4166.5 L506.1 4166.9 L509.7 4167.4 L513.2 4167.8 L516.7 4168.3 L520.3 4168.7 L523.9 4169.2 L527.5 4169.6 L531.1 4170.0 L534.7 4170.5 L538.3 4170.9 L542.0 4171.2 L545.6 4171.6 L549.3 4172.0 L553.1 4172.3 L556.8 4172.6 L560.5 4172.9 L564.3 4173.3 L568.1 4173.6 L571.9 4173.9 L575.6 4174.2 L579.4 4174.5 L583.3 4174.7 L587.1 4175.0 L590.9 4175.3 L594.8 4175.6 L598.6 4175.9 L602.5 4176.1 L606.4 4176.4 L610.3 4176.6 L614.2 4176.9 L618.1 4177.2 L622.0 4177.4 L625.9 4177.7 L629.8 4177.9 L633.8 4178.1 L637.7 4178.4 L641.7 4178.6 L645.7 4178.9 L649.6 4179.1 L653.6 4179.3 L657.6 4179.6 L661.6 4179.8 L665.6 4180.0 L669.6 4180.3 L673.6 4180.5 L677.7 4180.7 L681.7 4181.0 L685.7 4181.2 L689.8 4181.4 L693.8 4181.7 L697.9 4181.9 L701.9 4182.1 L706.0 4182.4 L710.1 4182.6 L714.1 4182.9 L718.2 4183.1 L722.3 4183.4 L726.4 4183.6 L730.5 4183.9 L734.6 4184.1 L738.7 4184.4 L742.8 4184.7 L746.9 4184.9 L751.0 4185.2 L755.2 4185.4 L759.3 4185.7 L763.4 4185.9 L767.6 4186.2 L771.7 4186.5 L775.9 4186.7 L780.1 4187.0 L784.2 4187.2 L788.4 4187.5 L792.6 4187.8 L796.8 4188.0 L801.0 4188.3 L805.2 4188.5 L809.4 4188.8 L813.6 4189.0 L817.9 4189.3 L822.1 4189.6 L826.3 4189.8 L830.6 4190.1 L834.9 4190.3 L839.1 4190.6 L843.4 4190.8 L847.7 4191.1 L852.0 4191.3 L856.3 4191.5 L860.6 4191.8 L864.9 4192.0 L869.2 4192.2 L873.5 4192.5 L877.9 4192.7 L882.2 4192.9 L886.6 4193.2 L890.9 4193.4 L895.3 4193.6 L899.7 4193.8 L904.1 4194.0 L908.5 4194.2 L912.9 4194.4 L917.3 4194.7 L921.7 4194.8 L926.1 4195.0 L930.6 4195.2 L935.0 4195.4 L939.5 4195.6 L944.0 4195.8 L948.5 4196.0 L952.9 4196.1 L957.4 4196.3 L961.9 4196.5 L966.5 4196.7 L971.0 4196.8 L975.5 4197.0 L980.0 4197.2 L984.6 4197.3 L989.1 4197.5 L993.7 4197.6 L998.2 4197.8 L1002.8 4198.0 L1007.4 4198.1 L1012.0 4198.3 L1016.6 4198.4 L1021.2 4198.6 L1025.8 4198.7 L1030.4 4198.9 L1035.0 4199.0 L1039.6 4199.2 L1044.3 4199.3 L1048.9 4199.4 L1053.6 4199.6 L1058.2 4199.7 L1062.9 4199.9 L1067.5 4200.0 L1072.2 4200.2 L1076.9 4200.3 L1081.6 4200.4 L1086.3 4200.6 L1091.0 4200.7 L1095.7 4200.8 L1100.4 4201.0 L1105.1 4201.1 L1109.8 4201.3 L1114.6 4201.4 L1119.3 4201.5 L1124.0 4201.7 L1128.8 4201.8 L1133.5 4202.0 L1138.3 4202.1 L1143.0 4202.2 L1147.8 4202.4 L1152.6 4202.5 L1157.4 4202.7 L1162.1 4202.8 L1166.9 4203.0 L1171.7 4203.1 L1176.5 4203.3 L1181.3 4203.4 L1186.1 4203.6 L1190.9 4203.7 L1195.7 4203.9 L1200.6 4204.0 L1205.4 4204.2 L1210.2 4204.3 L1215.0 4204.5 L1219.9 4204.6 L1224.7 4204.8 L1229.6 4205.0 L1234.4 4205.1 L1239.3 4205.3 L1244.2 4205.4 L1249.0 4205.6 L1253.9 4205.7 L1258.8 4205.9 L1263.7 4206.1 L1268.6 4206.2 L1273.5 4206.4 L1278.4 4206.6 L1283.3 4206.7 L1288.2 4206.9 L1293.1 4207.0 L1298.0 4207.2 L1303.0 4207.4 L1307.9 4207.5 L1312.8 4207.7 L1317.8 4207.8 L1322.7 4208.0 L1327.7 4208.2 L1332.7 4208.3 L1337.6 4208.5 L1342.6 4208.7 L1347.6 4208.8 L1352.6 4209.0 L1357.6 4209.2 L1362.6 4209.3 L1367.6 4209.5 L1372.6 4209.6 L1377.6 4209.8 L1382.6 4210.0 L1387.6 4210.1 L1392.7 4210.3 L1397.7 4210.5 L1402.7 4210.6 L1407.8 4210.8 L1412.8 4210.9 L1417.9 4211.1 L1422.9 4211.3 L1428.0 4211.4 L1433.1 4211.6 L1438.2 4211.7 L1443.3 4211.9 L1448.3 4212.1 L1453.4 4212.2 L1458.5 4212.4 L1463.7 4212.5 L1468.8 4212.7 L1473.9 4212.9 L1479.0 4213.0 L1484.1 4213.2 L1488.1 4213.3" stroke="#000000"/>
</g></g>
<g fill="#000"><circle cx="282.3" cy="3973.4" r="8.8"/><circle cx="289.5" cy="3998.2" r="8.8"/><circle cx="257.7" cy="4109.2" r="8.8"/><circle cx="270.8" cy="4106.9" r="8.8"/><circle cx="254.5" cy="4133.1" r="8.8"/><circle cx="262.0" cy="4145.5" r="8.8"/><circle cx="279.0" cy="4142.2" r="8.8"/><circle cx="287.2" cy="4147.8" r="8.8"/><circle cx="293.7" cy="4154.3" r="8.8"/><circle cx="301.9" cy="4162.5" r="8.8"/><circle cx="297.6" cy="4178.2" r="8.8"/><circle cx="305.2" cy="4188.7" r="8.8"/><circle cx="316.6" cy="4183.8" r="8.8"/><circle cx="328.1" cy="4197.5" r="8.8"/><circle cx="333.0" cy="4178.2" r="8.8"/><circle cx="339.5" cy="4183.8" r="8.8"/><circle cx="343.8" cy="4142.2" r="8.8"/><circle cx="351.0" cy="4182.1" r="8.8"/><circle cx="359.2" cy="4179.9" r="8.8"/><circle cx="367.3" cy="4179.9" r="8.8"/><circle cx="374.9" cy="4210.9" r="8.8"/><circle cx="382.1" cy="4179.9" r="8.8"/><circle cx="390.2" cy="4183.8" r="8.8"/><circle cx="401.7" cy="4178.9" r="8.8"/><circle cx="413.2" cy="4182.8" r="8.8"/><circle cx="421.3" cy="4213.2" r="8.8"/><circle cx="432.8" cy="4184.8" r="8.8"/><circle cx="441.0" cy="4183.8" r="8.8"/><circle cx="449.1" cy="4182.8" r="8.8"/><circle cx="459.9" cy="4208.3" r="8.8"/><circle cx="468.8" cy="4180.5" r="8.8"/><circle cx="472.1" cy="4200.1" r="8.8"/><circle cx="477.0" cy="4180.5" r="8.8"/><circle cx="483.5" cy="4211.6" r="8.8"/><circle cx="488.4" cy="4183.8" r="8.8"/><circle cx="496.6" cy="4179.9" r="8.8"/><circle cx="504.8" cy="4180.5" r="8.8"/><circle cx="507.1" cy="4193.6" r="8.8"/><circle cx="514.6" cy="4212.3" r="8.8"/><circle cx="526.0" cy="4178.9" r="8.8"/><circle cx="534.2" cy="4183.8" r="8.8"/><circle cx="541.6" cy="4202.2" r="8.8"/><circle cx="529.9" cy="4180.7" r="8.8"/><circle cx="549.5" cy="4184.0" r="8.8"/><circle cx="559.4" cy="4184.0" r="8.8"/><circle cx="569.2" cy="4186.3" r="8.8"/><circle cx="577.4" cy="4183.3" r="8.8"/><circle cx="583.9" cy="4208.5" r="8.8"/><circle cx="592.1" cy="4215.1" r="8.8"/><circle cx="603.5" cy="4213.4" r="8.8"/><circle cx="611.7" cy="4209.2" r="8.8"/><circle cx="619.9" cy="4207.5" r="8.8"/><circle cx="628.1" cy="4205.9" r="8.8"/><circle cx="636.3" cy="4203.6" r="8.8"/><circle cx="646.7" cy="4191.2" r="8.8"/><circle cx="654.3" cy="4215.1" r="8.8"/><circle cx="662.4" cy="4206.9" r="8.8"/><circle cx="673.2" cy="4224.2" r="8.8"/><circle cx="682.1" cy="4229.8" r="8.8"/><circle cx="688.6" cy="4235.4" r="8.8"/><circle cx="694.2" cy="4240.6" r="8.8"/><circle cx="704.3" cy="4224.9" r="8.8"/><circle cx="715.8" cy="4234.7" r="8.8"/><circle cx="726.2" cy="4224.9" r="8.8"/><circle cx="737.7" cy="4228.2" r="8.8"/><circle cx="747.5" cy="4225.9" r="8.8"/><circle cx="755.0" cy="4215.1" r="8.8"/><circle cx="770.4" cy="4219.3" r="8.8"/></g>
<text x="172.0" y="3721.6" font-family='"Liberation Sans", sans-serif' font-size="59.5" font-weight="bold" text-anchor="end">20</text>
<text x="172.0" y="3794.4" font-family='"Liberation Sans", sans-serif' font-size="59.5" font-weight="bold" text-anchor="end">18</text>
<text x="172.0" y="3867.2" font-family='"Liberation Sans", sans-serif' font-size="59.5" font-weight="bold" text-anchor="end">16</text>
<text x="172.0" y="3940.1" font-family='"Liberation Sans", sans-serif' font-size="59.5" font-weight="bold" text-anchor="end">14</text>
<text x="172.0" y="4012.9" font-family='"Liberation Sans", sans-serif' font-size="59.5" font-weight="bold" text-anchor="end">12</text>
<text x="172.0" y="4085.7" font-family='"Liberation Sans", sans-serif' font-size="59.5" font-weight="bold" text-anchor="end">10</text>
<text x="172.0" y="4158.5" font-family='"Liberation Sans", sans-serif' font-size="59.5" font-weight="bold" text-anchor="end">8</text>
<text x="172.0" y="4231.3" font-family='"Liberation Sans", sans-serif' font-size="59.5" font-weight="bold" text-anchor="end">6</text>
<text x="172.0" y="4304.2" font-family='"Liberation Sans", sans-serif' font-size="59.5" font-weight="bold" text-anchor="end">4</text>
<text x="172.0" y="4377.0" font-family='"Liberation Sans", sans-serif' font-size="59.5" font-weight="bold" text-anchor="end">2</text>
<text x="172.0" y="4449.8" font-family='"Liberation Sans", sans-serif' font-size="59.5" font-weight="bold" text-anchor="end">0</text>
<text x="233.8" y="4537.9" font-family='"Liberation Sans", sans-serif' font-size="59.5" font-weight="bold" text-anchor="middle" textLength="136.0" lengthAdjust="spacingAndGlyphs">1984</text>
<text x="488.5" y="4537.9" font-family='"Liberation Sans", sans-serif' font-size="59.5" font-weight="bold" text-anchor="middle" textLength="136.0" lengthAdjust="spacingAndGlyphs">1989</text>
<text x="743.4" y="4537.9" font-family='"Liberation Sans", sans-serif' font-size="59.5" font-weight="bold" text-anchor="middle" textLength="136.0" lengthAdjust="spacingAndGlyphs">1995</text>
<text x="998.2" y="4537.9" font-family='"Liberation Sans", sans-serif' font-size="59.5" font-weight="bold" text-anchor="middle" textLength="136.0" lengthAdjust="spacingAndGlyphs">2000</text>
<text x="1253.0" y="4537.9" font-family='"Liberation Sans", sans-serif' font-size="59.5" font-weight="bold" text-anchor="middle" textLength="136.0" lengthAdjust="spacingAndGlyphs">2005</text>
<text x="1507.6" y="4537.9" font-family='"Liberation Sans", sans-serif' font-size="59.5" font-weight="bold" text-anchor="middle" textLength="136.0" lengthAdjust="spacingAndGlyphs">2011</text>
<text x="70.0" y="4460.0" font-family='"Liberation Sans", sans-serif' font-size="59.5" font-weight="bold" text-anchor="start" textLength="513.1" lengthAdjust="spacingAndGlyphs" transform="rotate(-90 70.0 4460.0)">Oil productionrate</text>
<text x="70.0" y="3930.4" font-family='"Liberation Sans", sans-serif' font-size="59.5" font-weight="bold" text-anchor="start" textLength="205.2" lengthAdjust="spacingAndGlyphs" transform="rotate(-90 70.0 3930.4)">(STB/d)</text>
<text x="993.0" y="4645.2" font-family='"Liberation Sans", sans-serif' font-size="59.5" font-weight="bold" text-anchor="middle" textLength="311.0" lengthAdjust="spacingAndGlyphs">Date (Year)</text>
<text x="1464.0" y="3870.0" font-family='"Liberation Serif", serif' font-size="68" font-weight="bold" text-anchor="start">Well 4</text>
<text x="986.5" y="4776.2" font-family='"Liberation Serif", serif' font-size="100" font-weight="bold" text-anchor="middle">(d)</text></g>
</svg></body></html>
